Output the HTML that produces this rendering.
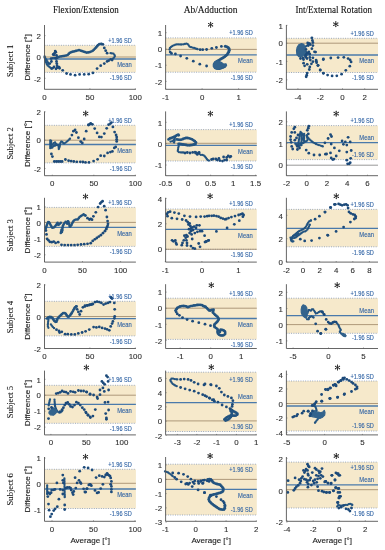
<!DOCTYPE html><html><head><meta charset="utf-8"><style>html,body{margin:0;padding:0;background:#fff;overflow:hidden}#w{will-change:transform;width:385px;height:550px;filter:blur(0.3px)}svg{display:block}</style></head><body><div id="w"><svg width="385" height="550" viewBox="0 0 385 550">
<rect width="385" height="550" fill="#fff"/>
<g font-family="Liberation Serif, serif" font-size="9.4" fill="#111" stroke="#111" stroke-width="0.1">
<text x="53" y="12.8" textLength="65.8" lengthAdjust="spacingAndGlyphs">Flexion/Extension</text>
<text x="183.7" y="12.8" textLength="53.7" lengthAdjust="spacingAndGlyphs">Ab/Adduction</text>
<text x="295.4" y="12.8" textLength="76.6" lengthAdjust="spacingAndGlyphs">Int/External Rotation</text>
</g>
<text transform="translate(13,60.90) rotate(-90)" font-family="Liberation Serif, serif" font-size="8.8" fill="#111" stroke="#111" stroke-width="0.08" text-anchor="middle" textLength="32.3" lengthAdjust="spacingAndGlyphs">Subject 1</text>
<text transform="translate(29.9,57.4) rotate(-90)" font-family="Liberation Sans, sans-serif" font-size="8" fill="#222" stroke="#222" stroke-width="0.12" text-anchor="middle">Difference [°]</text>
<text transform="translate(13,143.40) rotate(-90)" font-family="Liberation Serif, serif" font-size="8.8" fill="#111" stroke="#111" stroke-width="0.08" text-anchor="middle" textLength="32.3" lengthAdjust="spacingAndGlyphs">Subject 2</text>
<text transform="translate(29.9,143.9) rotate(-90)" font-family="Liberation Sans, sans-serif" font-size="8" fill="#222" stroke="#222" stroke-width="0.12" text-anchor="middle">Difference [°]</text>
<text transform="translate(13,235.25) rotate(-90)" font-family="Liberation Serif, serif" font-size="8.8" fill="#111" stroke="#111" stroke-width="0.08" text-anchor="middle" textLength="32.3" lengthAdjust="spacingAndGlyphs">Subject 3</text>
<text transform="translate(29.9,230.3) rotate(-90)" font-family="Liberation Sans, sans-serif" font-size="8" fill="#222" stroke="#222" stroke-width="0.12" text-anchor="middle">Difference [°]</text>
<text transform="translate(13,317.05) rotate(-90)" font-family="Liberation Serif, serif" font-size="8.8" fill="#111" stroke="#111" stroke-width="0.08" text-anchor="middle" textLength="32.3" lengthAdjust="spacingAndGlyphs">Subject 4</text>
<text transform="translate(29.9,316.7) rotate(-90)" font-family="Liberation Sans, sans-serif" font-size="8" fill="#222" stroke="#222" stroke-width="0.12" text-anchor="middle">Difference [°]</text>
<text transform="translate(13,402.05) rotate(-90)" font-family="Liberation Serif, serif" font-size="8.8" fill="#111" stroke="#111" stroke-width="0.08" text-anchor="middle" textLength="32.3" lengthAdjust="spacingAndGlyphs">Subject 5</text>
<text transform="translate(29.9,403.1) rotate(-90)" font-family="Liberation Sans, sans-serif" font-size="8" fill="#222" stroke="#222" stroke-width="0.12" text-anchor="middle">Difference [°]</text>
<text transform="translate(13,489.30) rotate(-90)" font-family="Liberation Serif, serif" font-size="8.8" fill="#111" stroke="#111" stroke-width="0.08" text-anchor="middle" textLength="32.3" lengthAdjust="spacingAndGlyphs">Subject 6</text>
<text transform="translate(29.9,489.4) rotate(-90)" font-family="Liberation Sans, sans-serif" font-size="8" fill="#222" stroke="#222" stroke-width="0.12" text-anchor="middle">Difference [°]</text>
<text x="90.2" y="542.9" font-family="Liberation Sans, sans-serif" font-size="8" fill="#222" stroke="#222" stroke-width="0.12" text-anchor="middle">Average [°]</text>
<text x="211.2" y="542.9" font-family="Liberation Sans, sans-serif" font-size="8" fill="#222" stroke="#222" stroke-width="0.12" text-anchor="middle">Average [°]</text>
<text x="332.2" y="542.9" font-family="Liberation Sans, sans-serif" font-size="8" fill="#222" stroke="#222" stroke-width="0.12" text-anchor="middle">Average [°]</text>
<rect x="44.50" y="45.30" width="91.40" height="27.10" fill="#f6e9cb"/>
<line x1="44.50" y1="45.30" x2="135.90" y2="45.30" stroke="#7f94b4" stroke-width="0.85" stroke-dasharray="0.9 1.45"/>
<line x1="44.50" y1="72.40" x2="135.90" y2="72.40" stroke="#7f94b4" stroke-width="0.85" stroke-dasharray="0.9 1.45"/>
<line x1="44.50" y1="57.00" x2="135.90" y2="57.00" stroke="#9c8466" stroke-width="0.8"/>
<line x1="44.50" y1="59.00" x2="135.90" y2="59.00" stroke="#4a7aab" stroke-width="1.3"/>
<polyline points="44.6,56.5 45.0,59.0 45.8,62.0 47.2,65.1 49.8,67.2 51.4,68.6" fill="none" stroke="#235480" stroke-width="0.9" stroke-linecap="round" stroke-linejoin="round"/>
<circle cx="44.6" cy="56.5" r="1.15" fill="#235480"/>
<circle cx="44.9" cy="58.1" r="1.15" fill="#235480"/>
<circle cx="45.2" cy="59.6" r="1.15" fill="#235480"/>
<circle cx="45.6" cy="61.2" r="1.15" fill="#235480"/>
<circle cx="46.1" cy="62.7" r="1.15" fill="#235480"/>
<circle cx="46.8" cy="64.2" r="1.15" fill="#235480"/>
<circle cx="47.6" cy="65.5" r="1.15" fill="#235480"/>
<circle cx="48.9" cy="66.5" r="1.15" fill="#235480"/>
<circle cx="50.1" cy="67.5" r="1.15" fill="#235480"/>
<circle cx="51.3" cy="68.5" r="1.15" fill="#235480"/>
<circle cx="51.4" cy="68.6" r="1.15" fill="#235480"/>
<polyline points="44.6,57.5 46.2,59.5 47.5,61.5 48.5,63.8" fill="none" stroke="#235480" stroke-width="0.9" stroke-linecap="round" stroke-linejoin="round"/>
<circle cx="44.6" cy="57.5" r="1.15" fill="#235480"/>
<circle cx="45.6" cy="58.7" r="1.15" fill="#235480"/>
<circle cx="46.5" cy="60.0" r="1.15" fill="#235480"/>
<circle cx="47.4" cy="61.4" r="1.15" fill="#235480"/>
<circle cx="48.1" cy="62.8" r="1.15" fill="#235480"/>
<circle cx="48.5" cy="63.8" r="1.15" fill="#235480"/>
<polyline points="52.6,58.2 55.5,57.9 57.6,57.1" fill="none" stroke="#235480" stroke-width="0.9" stroke-linecap="round" stroke-linejoin="round"/>
<circle cx="52.6" cy="58.2" r="1.15" fill="#235480"/>
<circle cx="54.2" cy="58.0" r="1.15" fill="#235480"/>
<circle cx="55.8" cy="57.8" r="1.15" fill="#235480"/>
<circle cx="57.3" cy="57.2" r="1.15" fill="#235480"/>
<circle cx="57.6" cy="57.1" r="1.15" fill="#235480"/>
<polyline points="56.9,57.9 59.5,56.6 63.4,56.0 67.3,55.3 69.9,52.7 73.8,51.4 79.0,50.1 82.9,51.4 86.8,52.7 90.0,52.1 92.9,50.7 95.7,47.9 98.6,44.3 101.4,43.9" fill="none" stroke="#235480" stroke-width="0.9" stroke-linecap="round" stroke-linejoin="round"/>
<circle cx="56.9" cy="57.9" r="1.35" fill="#235480"/>
<circle cx="58.3" cy="57.2" r="1.35" fill="#235480"/>
<circle cx="59.8" cy="56.6" r="1.35" fill="#235480"/>
<circle cx="61.4" cy="56.3" r="1.35" fill="#235480"/>
<circle cx="63.0" cy="56.1" r="1.35" fill="#235480"/>
<circle cx="64.5" cy="55.8" r="1.35" fill="#235480"/>
<circle cx="66.1" cy="55.5" r="1.35" fill="#235480"/>
<circle cx="67.6" cy="55.0" r="1.35" fill="#235480"/>
<circle cx="68.7" cy="53.9" r="1.35" fill="#235480"/>
<circle cx="69.8" cy="52.8" r="1.35" fill="#235480"/>
<circle cx="71.3" cy="52.2" r="1.35" fill="#235480"/>
<circle cx="72.8" cy="51.7" r="1.35" fill="#235480"/>
<circle cx="74.4" cy="51.3" r="1.35" fill="#235480"/>
<circle cx="75.9" cy="50.9" r="1.35" fill="#235480"/>
<circle cx="77.5" cy="50.5" r="1.35" fill="#235480"/>
<circle cx="79.0" cy="50.1" r="1.35" fill="#235480"/>
<circle cx="80.6" cy="50.6" r="1.35" fill="#235480"/>
<circle cx="82.1" cy="51.1" r="1.35" fill="#235480"/>
<circle cx="83.6" cy="51.6" r="1.35" fill="#235480"/>
<circle cx="85.1" cy="52.1" r="1.35" fill="#235480"/>
<circle cx="86.6" cy="52.6" r="1.35" fill="#235480"/>
<circle cx="88.2" cy="52.4" r="1.35" fill="#235480"/>
<circle cx="89.8" cy="52.1" r="1.35" fill="#235480"/>
<circle cx="91.2" cy="51.5" r="1.35" fill="#235480"/>
<circle cx="92.7" cy="50.8" r="1.35" fill="#235480"/>
<circle cx="93.8" cy="49.8" r="1.35" fill="#235480"/>
<circle cx="95.0" cy="48.6" r="1.35" fill="#235480"/>
<circle cx="96.1" cy="47.4" r="1.35" fill="#235480"/>
<circle cx="97.1" cy="46.2" r="1.35" fill="#235480"/>
<circle cx="98.1" cy="45.0" r="1.35" fill="#235480"/>
<circle cx="99.3" cy="44.2" r="1.35" fill="#235480"/>
<circle cx="100.9" cy="44.0" r="1.35" fill="#235480"/>
<circle cx="101.4" cy="43.9" r="1.35" fill="#235480"/>
<polyline points="112.9,58.6 114.3,57.5 115.0,55.7 113.6,53.6 110.5,53.2" fill="none" stroke="#235480" stroke-width="0.9" stroke-linecap="round" stroke-linejoin="round"/>
<circle cx="112.9" cy="58.6" r="1.15" fill="#235480"/>
<circle cx="114.2" cy="57.6" r="1.15" fill="#235480"/>
<circle cx="114.8" cy="56.2" r="1.15" fill="#235480"/>
<circle cx="114.4" cy="54.8" r="1.15" fill="#235480"/>
<circle cx="113.4" cy="53.6" r="1.15" fill="#235480"/>
<circle cx="111.9" cy="53.4" r="1.15" fill="#235480"/>
<circle cx="110.5" cy="53.2" r="1.15" fill="#235480"/>
<circle cx="104.3" cy="47.9" r="1.4" fill="#1c4a7a"/>
<circle cx="105.7" cy="50.7" r="1.4" fill="#1c4a7a"/>
<circle cx="107.1" cy="53.2" r="1.4" fill="#1c4a7a"/>
<circle cx="102.9" cy="44.3" r="1.4" fill="#1c4a7a"/>
<circle cx="51.4" cy="61.5" r="1.4" fill="#1c4a7a"/>
<circle cx="49.8" cy="63.6" r="1.4" fill="#1c4a7a"/>
<circle cx="51.1" cy="58.6" r="1.4" fill="#1c4a7a"/>
<circle cx="55.2" cy="51.1" r="1.4" fill="#1c4a7a"/>
<circle cx="55.8" cy="52.2" r="1.4" fill="#1c4a7a"/>
<circle cx="54.0" cy="54.8" r="1.4" fill="#1c4a7a"/>
<circle cx="56.5" cy="55.3" r="1.4" fill="#1c4a7a"/>
<circle cx="56.0" cy="58.4" r="1.4" fill="#1c4a7a"/>
<circle cx="56.5" cy="61.5" r="1.4" fill="#1c4a7a"/>
<circle cx="56.8" cy="63.6" r="1.4" fill="#1c4a7a"/>
<circle cx="57.1" cy="65.7" r="1.4" fill="#1c4a7a"/>
<circle cx="57.1" cy="67.7" r="1.4" fill="#1c4a7a"/>
<circle cx="56.0" cy="68.8" r="1.4" fill="#1c4a7a"/>
<circle cx="54.0" cy="67.0" r="1.4" fill="#1c4a7a"/>
<circle cx="52.4" cy="68.3" r="1.4" fill="#1c4a7a"/>
<circle cx="59.1" cy="67.2" r="1.4" fill="#1c4a7a"/>
<circle cx="54.5" cy="53.2" r="1.4" fill="#1c4a7a"/>
<circle cx="53.2" cy="54.5" r="1.4" fill="#1c4a7a"/>
<circle cx="59.5" cy="68.3" r="1.4" fill="#1c4a7a"/>
<circle cx="62.7" cy="70.3" r="1.4" fill="#1c4a7a"/>
<circle cx="66.6" cy="73.5" r="1.4" fill="#1c4a7a"/>
<circle cx="70.5" cy="74.4" r="1.4" fill="#1c4a7a"/>
<circle cx="75.1" cy="75.2" r="1.4" fill="#1c4a7a"/>
<circle cx="79.6" cy="74.4" r="1.4" fill="#1c4a7a"/>
<circle cx="84.2" cy="74.4" r="1.4" fill="#1c4a7a"/>
<circle cx="88.7" cy="74.2" r="1.4" fill="#1c4a7a"/>
<circle cx="92.9" cy="72.9" r="1.4" fill="#1c4a7a"/>
<circle cx="97.1" cy="68.6" r="1.4" fill="#1c4a7a"/>
<circle cx="100.7" cy="65.7" r="1.4" fill="#1c4a7a"/>
<circle cx="104.3" cy="63.6" r="1.4" fill="#1c4a7a"/>
<circle cx="107.1" cy="61.4" r="1.4" fill="#1c4a7a"/>
<circle cx="110.7" cy="59.3" r="1.4" fill="#1c4a7a"/>
<circle cx="112.1" cy="60.0" r="1.4" fill="#1c4a7a"/>
<circle cx="108.6" cy="60.7" r="1.4" fill="#1c4a7a"/>
<path d="M44.50,25.00 V89.30 H135.90" fill="none" stroke="#555555" stroke-width="0.9"/>
<line x1="44.50" y1="35.60" x2="45.50" y2="35.60" stroke="#555555" stroke-width="0.6"/>
<text x="41.00" y="38.85" font-family="Liberation Sans, sans-serif" font-size="7.9" fill="#2e2e2e" stroke="#2e2e2e" stroke-width="0.1" text-anchor="end">2</text>
<line x1="44.50" y1="57.00" x2="45.50" y2="57.00" stroke="#555555" stroke-width="0.6"/>
<text x="41.00" y="60.25" font-family="Liberation Sans, sans-serif" font-size="7.9" fill="#2e2e2e" stroke="#2e2e2e" stroke-width="0.1" text-anchor="end">0</text>
<line x1="44.50" y1="78.30" x2="45.50" y2="78.30" stroke="#555555" stroke-width="0.6"/>
<text x="41.00" y="81.55" font-family="Liberation Sans, sans-serif" font-size="7.9" fill="#2e2e2e" stroke="#2e2e2e" stroke-width="0.1" text-anchor="end">-2</text>
<line x1="44.50" y1="89.30" x2="44.50" y2="88.30" stroke="#555555" stroke-width="0.6"/>
<text x="44.50" y="99.75" font-family="Liberation Sans, sans-serif" font-size="7.9" fill="#2e2e2e" stroke="#2e2e2e" stroke-width="0.1" text-anchor="middle">0</text>
<line x1="89.90" y1="89.30" x2="89.90" y2="88.30" stroke="#555555" stroke-width="0.6"/>
<text x="89.90" y="99.75" font-family="Liberation Sans, sans-serif" font-size="7.9" fill="#2e2e2e" stroke="#2e2e2e" stroke-width="0.1" text-anchor="middle">50</text>
<line x1="135.30" y1="89.30" x2="135.30" y2="88.30" stroke="#555555" stroke-width="0.6"/>
<text x="135.30" y="99.75" font-family="Liberation Sans, sans-serif" font-size="7.9" fill="#2e2e2e" stroke="#2e2e2e" stroke-width="0.1" text-anchor="middle">100</text>
<g font-family="Liberation Sans, sans-serif" font-size="6.4" fill="#2e62a4" stroke="#2e62a4" stroke-width="0.1" text-anchor="end">
<text x="131.80" y="42.70" textLength="23.5" lengthAdjust="spacingAndGlyphs">+1.96 SD</text>
<text x="131.80" y="67.30" textLength="14.6" lengthAdjust="spacingAndGlyphs">Mean</text>
<text x="131.80" y="80.30" textLength="22" lengthAdjust="spacingAndGlyphs">-1.96 SD</text>
</g>
<rect x="165.60" y="37.90" width="91.20" height="34.30" fill="#f6e9cb"/>
<line x1="165.60" y1="37.90" x2="256.80" y2="37.90" stroke="#7f94b4" stroke-width="0.85" stroke-dasharray="0.9 1.45"/>
<line x1="165.60" y1="72.20" x2="256.80" y2="72.20" stroke="#7f94b4" stroke-width="0.85" stroke-dasharray="0.9 1.45"/>
<line x1="165.60" y1="49.40" x2="256.80" y2="49.40" stroke="#9c8466" stroke-width="0.8"/>
<line x1="165.60" y1="54.80" x2="256.80" y2="54.80" stroke="#4a7aab" stroke-width="1.3"/>
<polyline points="169.5,49.5 170.2,47.5 172.1,46.2 174.7,44.9 177.3,44.3 179.9,44.5 182.5,44.5 185.1,44.0 187.1,43.4 188.4,44.9 189.7,46.9 192.3,47.5 194.9,48.2 197.5,49.2" fill="none" stroke="#235480" stroke-width="0.9" stroke-linecap="round" stroke-linejoin="round"/>
<circle cx="169.5" cy="49.5" r="1.15" fill="#235480"/>
<circle cx="170.0" cy="48.0" r="1.15" fill="#235480"/>
<circle cx="171.1" cy="46.9" r="1.15" fill="#235480"/>
<circle cx="172.4" cy="46.0" r="1.15" fill="#235480"/>
<circle cx="173.9" cy="45.3" r="1.15" fill="#235480"/>
<circle cx="175.4" cy="44.7" r="1.15" fill="#235480"/>
<circle cx="176.9" cy="44.4" r="1.15" fill="#235480"/>
<circle cx="178.5" cy="44.4" r="1.15" fill="#235480"/>
<circle cx="180.1" cy="44.5" r="1.15" fill="#235480"/>
<circle cx="181.7" cy="44.5" r="1.15" fill="#235480"/>
<circle cx="183.3" cy="44.3" r="1.15" fill="#235480"/>
<circle cx="184.9" cy="44.0" r="1.15" fill="#235480"/>
<circle cx="186.4" cy="43.6" r="1.15" fill="#235480"/>
<circle cx="187.7" cy="44.1" r="1.15" fill="#235480"/>
<circle cx="188.7" cy="45.3" r="1.15" fill="#235480"/>
<circle cx="189.5" cy="46.6" r="1.15" fill="#235480"/>
<circle cx="191.0" cy="47.2" r="1.15" fill="#235480"/>
<circle cx="192.5" cy="47.6" r="1.15" fill="#235480"/>
<circle cx="194.1" cy="48.0" r="1.15" fill="#235480"/>
<circle cx="195.6" cy="48.5" r="1.15" fill="#235480"/>
<circle cx="197.1" cy="49.0" r="1.15" fill="#235480"/>
<circle cx="197.5" cy="49.2" r="1.15" fill="#235480"/>
<polyline points="225.3,46.2 227.9,47.0 229.4,49.0 228.9,51.6 227.3,54.2 225.3,56.3 222.7,57.9 220.1,59.4 217.5,61.0 215.4,62.5 214.4,64.6 214.9,66.7 216.4,68.2 218.5,68.8 220.6,68.2 222.7,66.7 225.3,65.6 223.7,67.2 219.0,67.5 216.0,65.5" fill="none" stroke="#235480" stroke-width="0.9" stroke-linecap="round" stroke-linejoin="round"/>
<circle cx="225.3" cy="46.2" r="1.5" fill="#235480"/>
<circle cx="226.8" cy="46.7" r="1.5" fill="#235480"/>
<circle cx="228.2" cy="47.4" r="1.5" fill="#235480"/>
<circle cx="229.1" cy="48.7" r="1.5" fill="#235480"/>
<circle cx="229.2" cy="50.2" r="1.5" fill="#235480"/>
<circle cx="228.8" cy="51.7" r="1.5" fill="#235480"/>
<circle cx="228.0" cy="53.1" r="1.5" fill="#235480"/>
<circle cx="227.1" cy="54.4" r="1.5" fill="#235480"/>
<circle cx="226.0" cy="55.6" r="1.5" fill="#235480"/>
<circle cx="224.8" cy="56.6" r="1.5" fill="#235480"/>
<circle cx="223.4" cy="57.4" r="1.5" fill="#235480"/>
<circle cx="222.1" cy="58.3" r="1.5" fill="#235480"/>
<circle cx="220.7" cy="59.1" r="1.5" fill="#235480"/>
<circle cx="219.3" cy="59.9" r="1.5" fill="#235480"/>
<circle cx="217.9" cy="60.7" r="1.5" fill="#235480"/>
<circle cx="216.6" cy="61.6" r="1.5" fill="#235480"/>
<circle cx="215.4" cy="62.6" r="1.5" fill="#235480"/>
<circle cx="214.7" cy="64.0" r="1.5" fill="#235480"/>
<circle cx="214.6" cy="65.5" r="1.5" fill="#235480"/>
<circle cx="215.2" cy="67.0" r="1.5" fill="#235480"/>
<circle cx="216.3" cy="68.1" r="1.5" fill="#235480"/>
<circle cx="217.8" cy="68.6" r="1.5" fill="#235480"/>
<circle cx="219.4" cy="68.6" r="1.5" fill="#235480"/>
<circle cx="220.9" cy="68.0" r="1.5" fill="#235480"/>
<circle cx="222.2" cy="67.1" r="1.5" fill="#235480"/>
<circle cx="223.6" cy="66.3" r="1.5" fill="#235480"/>
<circle cx="225.0" cy="65.7" r="1.5" fill="#235480"/>
<circle cx="224.4" cy="66.5" r="1.5" fill="#235480"/>
<circle cx="223.1" cy="67.2" r="1.5" fill="#235480"/>
<circle cx="221.5" cy="67.3" r="1.5" fill="#235480"/>
<circle cx="219.9" cy="67.4" r="1.5" fill="#235480"/>
<circle cx="218.4" cy="67.1" r="1.5" fill="#235480"/>
<circle cx="217.1" cy="66.2" r="1.5" fill="#235480"/>
<circle cx="216.0" cy="65.5" r="1.5" fill="#235480"/>
<polygon points="213.3,64.0 214.6,62.0 217.0,60.8 219.5,61.4 221.5,62.6 223.5,64.0 226.0,63.8 226.6,65.4 225.3,66.8 222.5,67.2 220.5,68.6 217.0,69.3 214.6,68.4 213.3,66.5" fill="#33638c" stroke="#33638c" stroke-width="1.2" stroke-linejoin="round"/>
<circle cx="200.1" cy="49.7" r="1.4" fill="#1c4a7a"/>
<circle cx="202.7" cy="49.7" r="1.4" fill="#1c4a7a"/>
<circle cx="206.6" cy="49.5" r="1.4" fill="#1c4a7a"/>
<circle cx="211.8" cy="48.3" r="1.4" fill="#1c4a7a"/>
<circle cx="216.4" cy="47.5" r="1.4" fill="#1c4a7a"/>
<circle cx="221.4" cy="46.4" r="1.4" fill="#1c4a7a"/>
<circle cx="170.2" cy="52.1" r="1.4" fill="#1c4a7a"/>
<circle cx="171.5" cy="53.4" r="1.4" fill="#1c4a7a"/>
<circle cx="175.4" cy="54.0" r="1.4" fill="#1c4a7a"/>
<circle cx="180.6" cy="56.0" r="1.4" fill="#1c4a7a"/>
<circle cx="186.8" cy="58.3" r="1.4" fill="#1c4a7a"/>
<circle cx="193.3" cy="61.2" r="1.4" fill="#1c4a7a"/>
<circle cx="199.8" cy="64.2" r="1.4" fill="#1c4a7a"/>
<circle cx="206.6" cy="66.0" r="1.4" fill="#1c4a7a"/>
<path d="M165.60,25.00 V89.30 H256.80" fill="none" stroke="#555555" stroke-width="0.9"/>
<line x1="165.60" y1="32.70" x2="166.60" y2="32.70" stroke="#555555" stroke-width="0.6"/>
<text x="162.10" y="35.95" font-family="Liberation Sans, sans-serif" font-size="7.9" fill="#2e2e2e" stroke="#2e2e2e" stroke-width="0.1" text-anchor="end">1</text>
<line x1="165.60" y1="49.00" x2="166.60" y2="49.00" stroke="#555555" stroke-width="0.6"/>
<text x="162.10" y="52.25" font-family="Liberation Sans, sans-serif" font-size="7.9" fill="#2e2e2e" stroke="#2e2e2e" stroke-width="0.1" text-anchor="end">0</text>
<line x1="165.60" y1="65.20" x2="166.60" y2="65.20" stroke="#555555" stroke-width="0.6"/>
<text x="162.10" y="68.45" font-family="Liberation Sans, sans-serif" font-size="7.9" fill="#2e2e2e" stroke="#2e2e2e" stroke-width="0.1" text-anchor="end">-1</text>
<line x1="165.60" y1="81.40" x2="166.60" y2="81.40" stroke="#555555" stroke-width="0.6"/>
<text x="162.10" y="84.65" font-family="Liberation Sans, sans-serif" font-size="7.9" fill="#2e2e2e" stroke="#2e2e2e" stroke-width="0.1" text-anchor="end">-2</text>
<line x1="165.60" y1="89.30" x2="165.60" y2="88.30" stroke="#555555" stroke-width="0.6"/>
<text x="165.60" y="99.75" font-family="Liberation Sans, sans-serif" font-size="7.9" fill="#2e2e2e" stroke="#2e2e2e" stroke-width="0.1" text-anchor="middle">-1</text>
<line x1="202.10" y1="89.30" x2="202.10" y2="88.30" stroke="#555555" stroke-width="0.6"/>
<text x="202.10" y="99.75" font-family="Liberation Sans, sans-serif" font-size="7.9" fill="#2e2e2e" stroke="#2e2e2e" stroke-width="0.1" text-anchor="middle">0</text>
<line x1="238.60" y1="89.30" x2="238.60" y2="88.30" stroke="#555555" stroke-width="0.6"/>
<text x="238.60" y="99.75" font-family="Liberation Sans, sans-serif" font-size="7.9" fill="#2e2e2e" stroke="#2e2e2e" stroke-width="0.1" text-anchor="middle">1</text>
<g font-family="Liberation Sans, sans-serif" font-size="6.4" fill="#2e62a4" stroke="#2e62a4" stroke-width="0.1" text-anchor="end">
<text x="252.70" y="35.30" textLength="23.5" lengthAdjust="spacingAndGlyphs">+1.96 SD</text>
<text x="252.70" y="63.10" textLength="14.6" lengthAdjust="spacingAndGlyphs">Mean</text>
<text x="252.70" y="80.10" textLength="22" lengthAdjust="spacingAndGlyphs">-1.96 SD</text>
</g>
<path d="M210.60,22.35L210.60,27.05M208.56,23.52L212.64,25.88M212.64,23.52L208.56,25.88" stroke="#2a2a2a" stroke-width="0.85" stroke-linecap="round" fill="none"/>
<circle cx="212.64" cy="25.88" r="0.6" fill="#2a2a2a"/>
<circle cx="210.60" cy="27.05" r="0.6" fill="#2a2a2a"/>
<circle cx="208.56" cy="25.88" r="0.6" fill="#2a2a2a"/>
<circle cx="208.56" cy="23.52" r="0.6" fill="#2a2a2a"/>
<circle cx="210.60" cy="22.35" r="0.6" fill="#2a2a2a"/>
<circle cx="212.64" cy="23.52" r="0.6" fill="#2a2a2a"/>
<circle cx="210.60" cy="24.70" r="0.9" fill="#2a2a2a"/>
<rect x="286.40" y="38.30" width="91.60" height="34.20" fill="#f6e9cb"/>
<line x1="286.40" y1="38.30" x2="378.00" y2="38.30" stroke="#7f94b4" stroke-width="0.85" stroke-dasharray="0.9 1.45"/>
<line x1="286.40" y1="72.50" x2="378.00" y2="72.50" stroke="#7f94b4" stroke-width="0.85" stroke-dasharray="0.9 1.45"/>
<line x1="286.40" y1="43.20" x2="378.00" y2="43.20" stroke="#9c8466" stroke-width="0.8"/>
<line x1="286.40" y1="55.00" x2="378.00" y2="55.00" stroke="#4a7aab" stroke-width="1.3"/>
<polyline points="303.6,51.0 306.0,52.0 308.5,53.0 309.8,54.5" fill="none" stroke="#235480" stroke-width="0.9" stroke-linecap="round" stroke-linejoin="round"/>
<circle cx="303.6" cy="51.0" r="1.15" fill="#235480"/>
<circle cx="305.1" cy="51.6" r="1.15" fill="#235480"/>
<circle cx="306.6" cy="52.2" r="1.15" fill="#235480"/>
<circle cx="308.0" cy="52.8" r="1.15" fill="#235480"/>
<circle cx="309.2" cy="53.8" r="1.15" fill="#235480"/>
<circle cx="309.8" cy="54.5" r="1.15" fill="#235480"/>
<polyline points="304.5,47.5 306.5,46.0 308.3,44.5 309.5,43.5" fill="none" stroke="#235480" stroke-width="0.9" stroke-linecap="round" stroke-linejoin="round"/>
<circle cx="304.5" cy="47.5" r="1.15" fill="#235480"/>
<circle cx="305.8" cy="46.5" r="1.15" fill="#235480"/>
<circle cx="307.0" cy="45.6" r="1.15" fill="#235480"/>
<circle cx="308.3" cy="44.5" r="1.15" fill="#235480"/>
<circle cx="309.5" cy="43.5" r="1.15" fill="#235480"/>
<circle cx="309.5" cy="43.5" r="1.15" fill="#235480"/>
<polyline points="305.0,53.5 307.0,55.0 305.5,56.5" fill="none" stroke="#235480" stroke-width="0.9" stroke-linecap="round" stroke-linejoin="round"/>
<circle cx="305.0" cy="53.5" r="1.15" fill="#235480"/>
<circle cx="306.3" cy="54.5" r="1.15" fill="#235480"/>
<circle cx="306.5" cy="55.5" r="1.15" fill="#235480"/>
<circle cx="305.5" cy="56.5" r="1.15" fill="#235480"/>
<polyline points="298.0,50.0 300.0,47.5 302.0,50.0 300.0,53.0" fill="none" stroke="#235480" stroke-width="0.9" stroke-linecap="round" stroke-linejoin="round"/>
<circle cx="298.0" cy="50.0" r="1.15" fill="#235480"/>
<circle cx="299.0" cy="48.8" r="1.15" fill="#235480"/>
<circle cx="300.0" cy="47.5" r="1.15" fill="#235480"/>
<circle cx="301.0" cy="48.7" r="1.15" fill="#235480"/>
<circle cx="302.0" cy="50.0" r="1.15" fill="#235480"/>
<circle cx="301.1" cy="51.3" r="1.15" fill="#235480"/>
<circle cx="300.2" cy="52.7" r="1.15" fill="#235480"/>
<circle cx="300.0" cy="53.0" r="1.15" fill="#235480"/>
<polygon points="298.7,44.8 301.5,43.6 303.9,44.4 304.8,47.2 304.9,51.0 304.2,54.4 302.0,56.6 298.8,56.6 296.9,54.4 296.5,50.5 297.2,47.2" fill="#33638c" stroke="#33638c" stroke-width="1.2" stroke-linejoin="round"/>
<circle cx="306.0" cy="49.5" r="1.4" fill="#1c4a7a"/>
<circle cx="305.5" cy="55.5" r="1.4" fill="#1c4a7a"/>
<circle cx="303.5" cy="59.5" r="1.4" fill="#1c4a7a"/>
<circle cx="307.0" cy="58.5" r="1.4" fill="#1c4a7a"/>
<circle cx="300.5" cy="58.5" r="1.4" fill="#1c4a7a"/>
<circle cx="311.9" cy="37.8" r="1.4" fill="#1c4a7a"/>
<circle cx="312.4" cy="40.4" r="1.4" fill="#1c4a7a"/>
<circle cx="312.9" cy="42.5" r="1.4" fill="#1c4a7a"/>
<circle cx="307.7" cy="43.0" r="1.4" fill="#1c4a7a"/>
<circle cx="308.3" cy="45.6" r="1.4" fill="#1c4a7a"/>
<circle cx="310.3" cy="44.5" r="1.4" fill="#1c4a7a"/>
<circle cx="312.9" cy="45.6" r="1.4" fill="#1c4a7a"/>
<circle cx="311.9" cy="48.7" r="1.4" fill="#1c4a7a"/>
<circle cx="314.5" cy="51.8" r="1.4" fill="#1c4a7a"/>
<circle cx="308.8" cy="51.8" r="1.4" fill="#1c4a7a"/>
<circle cx="307.2" cy="53.4" r="1.4" fill="#1c4a7a"/>
<circle cx="309.8" cy="53.9" r="1.4" fill="#1c4a7a"/>
<circle cx="305.7" cy="57.0" r="1.4" fill="#1c4a7a"/>
<circle cx="303.1" cy="58.0" r="1.4" fill="#1c4a7a"/>
<circle cx="309.8" cy="57.5" r="1.4" fill="#1c4a7a"/>
<circle cx="312.9" cy="57.8" r="1.4" fill="#1c4a7a"/>
<circle cx="310.3" cy="60.1" r="1.4" fill="#1c4a7a"/>
<circle cx="316.1" cy="60.1" r="1.4" fill="#1c4a7a"/>
<circle cx="312.9" cy="61.7" r="1.4" fill="#1c4a7a"/>
<circle cx="311.4" cy="63.8" r="1.4" fill="#1c4a7a"/>
<circle cx="316.6" cy="62.7" r="1.4" fill="#1c4a7a"/>
<circle cx="303.6" cy="63.2" r="1.4" fill="#1c4a7a"/>
<circle cx="307.2" cy="64.3" r="1.4" fill="#1c4a7a"/>
<circle cx="304.6" cy="65.8" r="1.4" fill="#1c4a7a"/>
<circle cx="309.8" cy="66.9" r="1.4" fill="#1c4a7a"/>
<circle cx="318.1" cy="65.3" r="1.4" fill="#1c4a7a"/>
<circle cx="323.3" cy="59.6" r="1.4" fill="#1c4a7a"/>
<circle cx="309.3" cy="69.5" r="1.4" fill="#1c4a7a"/>
<circle cx="320.2" cy="70.0" r="1.4" fill="#1c4a7a"/>
<circle cx="323.3" cy="73.1" r="1.4" fill="#1c4a7a"/>
<circle cx="307.2" cy="73.1" r="1.4" fill="#1c4a7a"/>
<circle cx="306.7" cy="75.2" r="1.4" fill="#1c4a7a"/>
<circle cx="306.2" cy="76.8" r="1.4" fill="#1c4a7a"/>
<circle cx="315.6" cy="52.1" r="1.4" fill="#1c4a7a"/>
<circle cx="316.3" cy="61.2" r="1.4" fill="#1c4a7a"/>
<circle cx="317.9" cy="65.5" r="1.4" fill="#1c4a7a"/>
<circle cx="320.2" cy="70.1" r="1.4" fill="#1c4a7a"/>
<circle cx="323.4" cy="73.3" r="1.4" fill="#1c4a7a"/>
<circle cx="327.6" cy="75.1" r="1.4" fill="#1c4a7a"/>
<circle cx="332.1" cy="75.9" r="1.4" fill="#1c4a7a"/>
<circle cx="336.8" cy="75.8" r="1.4" fill="#1c4a7a"/>
<circle cx="341.6" cy="74.2" r="1.4" fill="#1c4a7a"/>
<circle cx="345.8" cy="70.3" r="1.4" fill="#1c4a7a"/>
<circle cx="349.8" cy="66.2" r="1.4" fill="#1c4a7a"/>
<circle cx="351.1" cy="61.9" r="1.4" fill="#1c4a7a"/>
<circle cx="350.1" cy="59.9" r="1.4" fill="#1c4a7a"/>
<circle cx="348.1" cy="58.6" r="1.4" fill="#1c4a7a"/>
<circle cx="343.8" cy="57.3" r="1.4" fill="#1c4a7a"/>
<circle cx="338.1" cy="57.6" r="1.4" fill="#1c4a7a"/>
<circle cx="330.8" cy="58.0" r="1.4" fill="#1c4a7a"/>
<circle cx="323.4" cy="59.0" r="1.4" fill="#1c4a7a"/>
<path d="M286.40,25.00 V89.30 H378.00" fill="none" stroke="#555555" stroke-width="0.9"/>
<line x1="286.40" y1="25.30" x2="287.40" y2="25.30" stroke="#555555" stroke-width="0.6"/>
<text x="282.90" y="28.55" font-family="Liberation Sans, sans-serif" font-size="7.9" fill="#2e2e2e" stroke="#2e2e2e" stroke-width="0.1" text-anchor="end">1</text>
<line x1="286.40" y1="43.20" x2="287.40" y2="43.20" stroke="#555555" stroke-width="0.6"/>
<text x="282.90" y="46.45" font-family="Liberation Sans, sans-serif" font-size="7.9" fill="#2e2e2e" stroke="#2e2e2e" stroke-width="0.1" text-anchor="end">0</text>
<line x1="286.40" y1="61.40" x2="287.40" y2="61.40" stroke="#555555" stroke-width="0.6"/>
<text x="282.90" y="64.65" font-family="Liberation Sans, sans-serif" font-size="7.9" fill="#2e2e2e" stroke="#2e2e2e" stroke-width="0.1" text-anchor="end">-1</text>
<line x1="286.40" y1="79.80" x2="287.40" y2="79.80" stroke="#555555" stroke-width="0.6"/>
<text x="282.90" y="83.05" font-family="Liberation Sans, sans-serif" font-size="7.9" fill="#2e2e2e" stroke="#2e2e2e" stroke-width="0.1" text-anchor="end">-2</text>
<line x1="297.90" y1="89.30" x2="297.90" y2="88.30" stroke="#555555" stroke-width="0.6"/>
<text x="297.90" y="99.75" font-family="Liberation Sans, sans-serif" font-size="7.9" fill="#2e2e2e" stroke="#2e2e2e" stroke-width="0.1" text-anchor="middle">-4</text>
<line x1="320.30" y1="89.30" x2="320.30" y2="88.30" stroke="#555555" stroke-width="0.6"/>
<text x="320.30" y="99.75" font-family="Liberation Sans, sans-serif" font-size="7.9" fill="#2e2e2e" stroke="#2e2e2e" stroke-width="0.1" text-anchor="middle">-2</text>
<line x1="342.50" y1="89.30" x2="342.50" y2="88.30" stroke="#555555" stroke-width="0.6"/>
<text x="342.50" y="99.75" font-family="Liberation Sans, sans-serif" font-size="7.9" fill="#2e2e2e" stroke="#2e2e2e" stroke-width="0.1" text-anchor="middle">0</text>
<line x1="364.70" y1="89.30" x2="364.70" y2="88.30" stroke="#555555" stroke-width="0.6"/>
<text x="364.70" y="99.75" font-family="Liberation Sans, sans-serif" font-size="7.9" fill="#2e2e2e" stroke="#2e2e2e" stroke-width="0.1" text-anchor="middle">2</text>
<g font-family="Liberation Sans, sans-serif" font-size="6.4" fill="#2e62a4" stroke="#2e62a4" stroke-width="0.1" text-anchor="end">
<text x="373.90" y="35.70" textLength="23.5" lengthAdjust="spacingAndGlyphs">+1.96 SD</text>
<text x="373.90" y="63.30" textLength="14.6" lengthAdjust="spacingAndGlyphs">Mean</text>
<text x="373.90" y="80.40" textLength="22" lengthAdjust="spacingAndGlyphs">-1.96 SD</text>
</g>
<path d="M335.80,21.85L335.80,26.55M333.76,23.02L337.84,25.38M337.84,23.02L333.76,25.38" stroke="#2a2a2a" stroke-width="0.85" stroke-linecap="round" fill="none"/>
<circle cx="337.84" cy="25.38" r="0.6" fill="#2a2a2a"/>
<circle cx="335.80" cy="26.55" r="0.6" fill="#2a2a2a"/>
<circle cx="333.76" cy="25.38" r="0.6" fill="#2a2a2a"/>
<circle cx="333.76" cy="23.02" r="0.6" fill="#2a2a2a"/>
<circle cx="335.80" cy="21.85" r="0.6" fill="#2a2a2a"/>
<circle cx="337.84" cy="23.02" r="0.6" fill="#2a2a2a"/>
<circle cx="335.80" cy="24.20" r="0.9" fill="#2a2a2a"/>
<rect x="44.50" y="125.30" width="91.40" height="37.60" fill="#f6e9cb"/>
<line x1="44.50" y1="125.30" x2="135.90" y2="125.30" stroke="#7f94b4" stroke-width="0.85" stroke-dasharray="0.9 1.45"/>
<line x1="44.50" y1="162.90" x2="135.90" y2="162.90" stroke="#7f94b4" stroke-width="0.85" stroke-dasharray="0.9 1.45"/>
<line x1="44.50" y1="140.20" x2="135.90" y2="140.20" stroke="#9c8466" stroke-width="0.8"/>
<line x1="44.50" y1="144.50" x2="135.90" y2="144.50" stroke="#4a7aab" stroke-width="1.3"/>
<polyline points="50.3,140.3 50.3,148.2" fill="none" stroke="#235480" stroke-width="0.9" stroke-linecap="round" stroke-linejoin="round"/>
<circle cx="50.3" cy="140.3" r="1.15" fill="#235480"/>
<circle cx="50.3" cy="141.9" r="1.15" fill="#235480"/>
<circle cx="50.3" cy="143.5" r="1.15" fill="#235480"/>
<circle cx="50.3" cy="145.1" r="1.15" fill="#235480"/>
<circle cx="50.3" cy="146.7" r="1.15" fill="#235480"/>
<circle cx="50.3" cy="148.2" r="1.15" fill="#235480"/>
<polyline points="51.2,141.0 51.2,147.5" fill="none" stroke="#235480" stroke-width="0.9" stroke-linecap="round" stroke-linejoin="round"/>
<circle cx="51.2" cy="141.0" r="1.15" fill="#235480"/>
<circle cx="51.2" cy="142.6" r="1.15" fill="#235480"/>
<circle cx="51.2" cy="144.2" r="1.15" fill="#235480"/>
<circle cx="51.2" cy="145.8" r="1.15" fill="#235480"/>
<circle cx="51.2" cy="147.4" r="1.15" fill="#235480"/>
<circle cx="51.2" cy="147.5" r="1.15" fill="#235480"/>
<polyline points="51.4,145.5 52.8,144.1 54.1,142.8 55.1,142.4 56.1,144.1 56.8,145.8 57.8,144.1 58.5,146.2 58.8,149.2 59.5,147.5 60.2,143.5 61.5,141.1 62.6,142.1 63.6,143.8 64.9,143.1 66.3,142.1 67.6,141.1 69.0,139.7 70.0,138.7" fill="none" stroke="#235480" stroke-width="0.9" stroke-linecap="round" stroke-linejoin="round"/>
<circle cx="51.4" cy="145.5" r="1.15" fill="#235480"/>
<circle cx="52.5" cy="144.4" r="1.15" fill="#235480"/>
<circle cx="53.7" cy="143.2" r="1.15" fill="#235480"/>
<circle cx="55.0" cy="142.4" r="1.15" fill="#235480"/>
<circle cx="55.9" cy="143.7" r="1.15" fill="#235480"/>
<circle cx="56.5" cy="145.1" r="1.15" fill="#235480"/>
<circle cx="57.3" cy="145.0" r="1.15" fill="#235480"/>
<circle cx="58.0" cy="144.6" r="1.15" fill="#235480"/>
<circle cx="58.5" cy="146.1" r="1.15" fill="#235480"/>
<circle cx="58.7" cy="147.7" r="1.15" fill="#235480"/>
<circle cx="58.8" cy="149.1" r="1.15" fill="#235480"/>
<circle cx="59.4" cy="147.6" r="1.15" fill="#235480"/>
<circle cx="59.8" cy="146.1" r="1.15" fill="#235480"/>
<circle cx="60.0" cy="144.5" r="1.15" fill="#235480"/>
<circle cx="60.5" cy="143.0" r="1.15" fill="#235480"/>
<circle cx="61.2" cy="141.6" r="1.15" fill="#235480"/>
<circle cx="62.3" cy="141.8" r="1.15" fill="#235480"/>
<circle cx="63.2" cy="143.1" r="1.15" fill="#235480"/>
<circle cx="64.3" cy="143.4" r="1.15" fill="#235480"/>
<circle cx="65.7" cy="142.6" r="1.15" fill="#235480"/>
<circle cx="66.9" cy="141.6" r="1.15" fill="#235480"/>
<circle cx="68.1" cy="140.6" r="1.15" fill="#235480"/>
<circle cx="69.3" cy="139.4" r="1.15" fill="#235480"/>
<circle cx="70.0" cy="138.7" r="1.15" fill="#235480"/>
<polyline points="52.4,147.5 53.5,146.0 55.0,145.5" fill="none" stroke="#235480" stroke-width="0.9" stroke-linecap="round" stroke-linejoin="round"/>
<circle cx="52.4" cy="147.5" r="1.15" fill="#235480"/>
<circle cx="53.3" cy="146.2" r="1.15" fill="#235480"/>
<circle cx="54.8" cy="145.6" r="1.15" fill="#235480"/>
<circle cx="55.0" cy="145.5" r="1.15" fill="#235480"/>
<circle cx="71.9" cy="135.1" r="1.4" fill="#1c4a7a"/>
<circle cx="73.4" cy="131.2" r="1.4" fill="#1c4a7a"/>
<circle cx="75.1" cy="129.9" r="1.4" fill="#1c4a7a"/>
<circle cx="76.4" cy="132.5" r="1.4" fill="#1c4a7a"/>
<circle cx="78.4" cy="137.7" r="1.4" fill="#1c4a7a"/>
<circle cx="80.7" cy="141.6" r="1.4" fill="#1c4a7a"/>
<circle cx="82.3" cy="142.9" r="1.4" fill="#1c4a7a"/>
<circle cx="84.2" cy="139.0" r="1.4" fill="#1c4a7a"/>
<circle cx="86.2" cy="131.2" r="1.4" fill="#1c4a7a"/>
<circle cx="88.5" cy="125.1" r="1.4" fill="#1c4a7a"/>
<circle cx="90.3" cy="124.1" r="1.4" fill="#1c4a7a"/>
<circle cx="51.4" cy="154.0" r="1.4" fill="#1c4a7a"/>
<circle cx="52.4" cy="156.6" r="1.4" fill="#1c4a7a"/>
<circle cx="54.3" cy="161.5" r="1.4" fill="#1c4a7a"/>
<circle cx="56.3" cy="161.5" r="1.4" fill="#1c4a7a"/>
<circle cx="58.2" cy="161.5" r="1.4" fill="#1c4a7a"/>
<circle cx="60.2" cy="161.5" r="1.4" fill="#1c4a7a"/>
<circle cx="62.1" cy="161.5" r="1.4" fill="#1c4a7a"/>
<circle cx="65.4" cy="159.5" r="1.4" fill="#1c4a7a"/>
<circle cx="68.6" cy="160.7" r="1.4" fill="#1c4a7a"/>
<circle cx="71.2" cy="161.1" r="1.4" fill="#1c4a7a"/>
<circle cx="73.8" cy="161.5" r="1.4" fill="#1c4a7a"/>
<circle cx="76.8" cy="161.8" r="1.4" fill="#1c4a7a"/>
<circle cx="80.3" cy="161.8" r="1.4" fill="#1c4a7a"/>
<circle cx="82.9" cy="162.0" r="1.4" fill="#1c4a7a"/>
<circle cx="85.5" cy="162.4" r="1.4" fill="#1c4a7a"/>
<circle cx="89.0" cy="162.4" r="1.4" fill="#1c4a7a"/>
<circle cx="88.6" cy="124.7" r="1.4" fill="#1c4a7a"/>
<circle cx="90.7" cy="123.3" r="1.4" fill="#1c4a7a"/>
<circle cx="92.4" cy="124.3" r="1.4" fill="#1c4a7a"/>
<circle cx="94.7" cy="128.6" r="1.4" fill="#1c4a7a"/>
<circle cx="97.1" cy="132.9" r="1.4" fill="#1c4a7a"/>
<circle cx="99.3" cy="136.9" r="1.4" fill="#1c4a7a"/>
<circle cx="101.4" cy="137.1" r="1.4" fill="#1c4a7a"/>
<circle cx="104.3" cy="133.6" r="1.4" fill="#1c4a7a"/>
<circle cx="106.7" cy="128.3" r="1.4" fill="#1c4a7a"/>
<circle cx="108.6" cy="124.7" r="1.4" fill="#1c4a7a"/>
<circle cx="110.4" cy="123.6" r="1.4" fill="#1c4a7a"/>
<circle cx="111.4" cy="122.6" r="1.4" fill="#1c4a7a"/>
<circle cx="112.9" cy="126.9" r="1.4" fill="#1c4a7a"/>
<circle cx="114.6" cy="132.1" r="1.4" fill="#1c4a7a"/>
<circle cx="116.1" cy="135.0" r="1.4" fill="#1c4a7a"/>
<circle cx="116.7" cy="137.1" r="1.4" fill="#1c4a7a"/>
<circle cx="116.7" cy="139.3" r="1.4" fill="#1c4a7a"/>
<circle cx="116.7" cy="141.4" r="1.4" fill="#1c4a7a"/>
<circle cx="93.6" cy="161.1" r="1.4" fill="#1c4a7a"/>
<circle cx="97.6" cy="159.3" r="1.4" fill="#1c4a7a"/>
<circle cx="100.7" cy="155.7" r="1.4" fill="#1c4a7a"/>
<circle cx="104.3" cy="156.0" r="1.4" fill="#1c4a7a"/>
<circle cx="107.6" cy="152.9" r="1.4" fill="#1c4a7a"/>
<circle cx="110.4" cy="152.1" r="1.4" fill="#1c4a7a"/>
<circle cx="112.4" cy="151.4" r="1.4" fill="#1c4a7a"/>
<circle cx="114.3" cy="147.9" r="1.4" fill="#1c4a7a"/>
<circle cx="115.7" cy="146.9" r="1.4" fill="#1c4a7a"/>
<path d="M44.50,111.40 V175.70 H135.90" fill="none" stroke="#555555" stroke-width="0.9"/>
<line x1="44.50" y1="111.80" x2="45.50" y2="111.80" stroke="#555555" stroke-width="0.6"/>
<text x="41.00" y="115.05" font-family="Liberation Sans, sans-serif" font-size="7.9" fill="#2e2e2e" stroke="#2e2e2e" stroke-width="0.1" text-anchor="end">2</text>
<line x1="44.50" y1="140.10" x2="45.50" y2="140.10" stroke="#555555" stroke-width="0.6"/>
<text x="41.00" y="143.35" font-family="Liberation Sans, sans-serif" font-size="7.9" fill="#2e2e2e" stroke="#2e2e2e" stroke-width="0.1" text-anchor="end">0</text>
<line x1="44.50" y1="168.50" x2="45.50" y2="168.50" stroke="#555555" stroke-width="0.6"/>
<text x="41.00" y="171.75" font-family="Liberation Sans, sans-serif" font-size="7.9" fill="#2e2e2e" stroke="#2e2e2e" stroke-width="0.1" text-anchor="end">-2</text>
<line x1="52.30" y1="175.70" x2="52.30" y2="174.70" stroke="#555555" stroke-width="0.6"/>
<text x="52.30" y="186.15" font-family="Liberation Sans, sans-serif" font-size="7.9" fill="#2e2e2e" stroke="#2e2e2e" stroke-width="0.1" text-anchor="middle">0</text>
<line x1="93.80" y1="175.70" x2="93.80" y2="174.70" stroke="#555555" stroke-width="0.6"/>
<text x="93.80" y="186.15" font-family="Liberation Sans, sans-serif" font-size="7.9" fill="#2e2e2e" stroke="#2e2e2e" stroke-width="0.1" text-anchor="middle">50</text>
<line x1="135.30" y1="175.70" x2="135.30" y2="174.70" stroke="#555555" stroke-width="0.6"/>
<text x="135.30" y="186.15" font-family="Liberation Sans, sans-serif" font-size="7.9" fill="#2e2e2e" stroke="#2e2e2e" stroke-width="0.1" text-anchor="middle">100</text>
<g font-family="Liberation Sans, sans-serif" font-size="6.4" fill="#2e62a4" stroke="#2e62a4" stroke-width="0.1" text-anchor="end">
<text x="131.80" y="122.70" textLength="23.5" lengthAdjust="spacingAndGlyphs">+1.96 SD</text>
<text x="131.80" y="152.80" textLength="14.6" lengthAdjust="spacingAndGlyphs">Mean</text>
<text x="131.80" y="170.80" textLength="22" lengthAdjust="spacingAndGlyphs">-1.96 SD</text>
</g>
<path d="M85.70,111.15L85.70,115.85M83.66,112.33L87.74,114.67M87.74,112.33L83.66,114.67" stroke="#2a2a2a" stroke-width="0.85" stroke-linecap="round" fill="none"/>
<circle cx="87.74" cy="114.67" r="0.6" fill="#2a2a2a"/>
<circle cx="85.70" cy="115.85" r="0.6" fill="#2a2a2a"/>
<circle cx="83.66" cy="114.67" r="0.6" fill="#2a2a2a"/>
<circle cx="83.66" cy="112.33" r="0.6" fill="#2a2a2a"/>
<circle cx="85.70" cy="111.15" r="0.6" fill="#2a2a2a"/>
<circle cx="87.74" cy="112.33" r="0.6" fill="#2a2a2a"/>
<circle cx="85.70" cy="113.50" r="0.9" fill="#2a2a2a"/>
<rect x="165.60" y="129.60" width="91.20" height="31.40" fill="#f6e9cb"/>
<line x1="165.60" y1="129.60" x2="256.80" y2="129.60" stroke="#7f94b4" stroke-width="0.85" stroke-dasharray="0.9 1.45"/>
<line x1="165.60" y1="161.00" x2="256.80" y2="161.00" stroke="#7f94b4" stroke-width="0.85" stroke-dasharray="0.9 1.45"/>
<line x1="165.60" y1="143.30" x2="256.80" y2="143.30" stroke="#9c8466" stroke-width="0.8"/>
<line x1="165.60" y1="145.40" x2="256.80" y2="145.40" stroke="#4a7aab" stroke-width="1.3"/>
<polyline points="168.6,139.4 170.0,138.5 171.4,138.0 172.7,137.5 174.1,137.1 175.5,136.2 176.8,135.3 178.2,134.4 178.6,135.3" fill="none" stroke="#235480" stroke-width="0.9" stroke-linecap="round" stroke-linejoin="round"/>
<circle cx="168.6" cy="139.4" r="1.4" fill="#235480"/>
<circle cx="169.9" cy="138.5" r="1.4" fill="#235480"/>
<circle cx="171.4" cy="138.0" r="1.4" fill="#235480"/>
<circle cx="172.9" cy="137.4" r="1.4" fill="#235480"/>
<circle cx="174.4" cy="136.9" r="1.4" fill="#235480"/>
<circle cx="175.8" cy="136.0" r="1.4" fill="#235480"/>
<circle cx="177.1" cy="135.1" r="1.4" fill="#235480"/>
<circle cx="178.3" cy="134.7" r="1.4" fill="#235480"/>
<circle cx="178.6" cy="135.3" r="1.4" fill="#235480"/>
<polyline points="170.5,141.6 172.3,141.2 174.1,139.8 175.0,138.0 174.1,136.6" fill="none" stroke="#235480" stroke-width="0.9" stroke-linecap="round" stroke-linejoin="round"/>
<circle cx="170.5" cy="141.6" r="1.15" fill="#235480"/>
<circle cx="172.1" cy="141.3" r="1.15" fill="#235480"/>
<circle cx="173.4" cy="140.4" r="1.15" fill="#235480"/>
<circle cx="174.4" cy="139.2" r="1.15" fill="#235480"/>
<circle cx="174.9" cy="137.8" r="1.15" fill="#235480"/>
<circle cx="174.1" cy="136.6" r="1.15" fill="#235480"/>
<polyline points="174.1,142.5 174.5,140.5" fill="none" stroke="#235480" stroke-width="0.9" stroke-linecap="round" stroke-linejoin="round"/>
<circle cx="174.1" cy="142.5" r="1.15" fill="#235480"/>
<circle cx="174.4" cy="140.9" r="1.15" fill="#235480"/>
<circle cx="174.5" cy="140.5" r="1.15" fill="#235480"/>
<polyline points="176.8,139.4 178.6,139.8 180.5,139.8 182.3,139.4 184.1,138.5 185.9,138.0 187.7,138.0 190.0,138.5 192.3,139.4 194.1,140.7 195.9,142.1 195.5,143.9 193.2,144.8 190.5,145.3 187.7,145.3 185.0,144.8 182.7,144.4 180.5,143.9 178.6,143.9" fill="none" stroke="#235480" stroke-width="0.9" stroke-linecap="round" stroke-linejoin="round"/>
<circle cx="176.8" cy="139.4" r="1.4" fill="#235480"/>
<circle cx="178.4" cy="139.7" r="1.4" fill="#235480"/>
<circle cx="180.0" cy="139.8" r="1.4" fill="#235480"/>
<circle cx="181.5" cy="139.6" r="1.4" fill="#235480"/>
<circle cx="183.0" cy="139.0" r="1.4" fill="#235480"/>
<circle cx="184.5" cy="138.4" r="1.4" fill="#235480"/>
<circle cx="186.0" cy="138.0" r="1.4" fill="#235480"/>
<circle cx="187.6" cy="138.0" r="1.4" fill="#235480"/>
<circle cx="189.2" cy="138.3" r="1.4" fill="#235480"/>
<circle cx="190.7" cy="138.8" r="1.4" fill="#235480"/>
<circle cx="192.2" cy="139.4" r="1.4" fill="#235480"/>
<circle cx="193.5" cy="140.3" r="1.4" fill="#235480"/>
<circle cx="194.8" cy="141.2" r="1.4" fill="#235480"/>
<circle cx="195.9" cy="142.3" r="1.4" fill="#235480"/>
<circle cx="195.5" cy="143.9" r="1.4" fill="#235480"/>
<circle cx="194.0" cy="144.5" r="1.4" fill="#235480"/>
<circle cx="192.5" cy="144.9" r="1.4" fill="#235480"/>
<circle cx="190.9" cy="145.2" r="1.4" fill="#235480"/>
<circle cx="189.4" cy="145.3" r="1.4" fill="#235480"/>
<circle cx="187.8" cy="145.3" r="1.4" fill="#235480"/>
<circle cx="186.2" cy="145.0" r="1.4" fill="#235480"/>
<circle cx="184.6" cy="144.7" r="1.4" fill="#235480"/>
<circle cx="183.0" cy="144.5" r="1.4" fill="#235480"/>
<circle cx="181.5" cy="144.1" r="1.4" fill="#235480"/>
<circle cx="179.9" cy="143.9" r="1.4" fill="#235480"/>
<circle cx="178.6" cy="143.9" r="1.4" fill="#235480"/>
<polyline points="178.6,146.2 178.2,148.5 177.7,150.7 178.6,152.1 180.9,152.5 183.2,152.5" fill="none" stroke="#235480" stroke-width="0.9" stroke-linecap="round" stroke-linejoin="round"/>
<circle cx="178.6" cy="146.2" r="1.15" fill="#235480"/>
<circle cx="178.3" cy="147.8" r="1.15" fill="#235480"/>
<circle cx="178.0" cy="149.3" r="1.15" fill="#235480"/>
<circle cx="177.8" cy="150.9" r="1.15" fill="#235480"/>
<circle cx="178.7" cy="152.1" r="1.15" fill="#235480"/>
<circle cx="180.3" cy="152.4" r="1.15" fill="#235480"/>
<circle cx="181.9" cy="152.5" r="1.15" fill="#235480"/>
<circle cx="183.2" cy="152.5" r="1.15" fill="#235480"/>
<polyline points="195.0,151.8 197.1,152.8 199.2,153.8 200.7,154.9 202.3,154.9 203.8,155.4 205.4,157.0 206.4,158.5 207.5,160.1 209.0,160.6" fill="none" stroke="#235480" stroke-width="0.9" stroke-linecap="round" stroke-linejoin="round"/>
<circle cx="195.0" cy="151.8" r="1.15" fill="#235480"/>
<circle cx="196.4" cy="152.5" r="1.15" fill="#235480"/>
<circle cx="197.9" cy="153.2" r="1.15" fill="#235480"/>
<circle cx="199.3" cy="153.9" r="1.15" fill="#235480"/>
<circle cx="200.6" cy="154.8" r="1.15" fill="#235480"/>
<circle cx="202.2" cy="154.9" r="1.15" fill="#235480"/>
<circle cx="203.7" cy="155.4" r="1.15" fill="#235480"/>
<circle cx="204.9" cy="156.5" r="1.15" fill="#235480"/>
<circle cx="205.9" cy="157.7" r="1.15" fill="#235480"/>
<circle cx="206.8" cy="159.0" r="1.15" fill="#235480"/>
<circle cx="207.8" cy="160.2" r="1.15" fill="#235480"/>
<circle cx="209.0" cy="160.6" r="1.15" fill="#235480"/>
<circle cx="185.0" cy="153.0" r="1.4" fill="#1c4a7a"/>
<circle cx="187.3" cy="152.5" r="1.4" fill="#1c4a7a"/>
<circle cx="190.0" cy="153.0" r="1.4" fill="#1c4a7a"/>
<circle cx="192.7" cy="152.4" r="1.4" fill="#1c4a7a"/>
<circle cx="195.5" cy="153.0" r="1.4" fill="#1c4a7a"/>
<circle cx="197.3" cy="154.4" r="1.4" fill="#1c4a7a"/>
<circle cx="199.1" cy="152.5" r="1.4" fill="#1c4a7a"/>
<circle cx="211.6" cy="159.5" r="1.4" fill="#1c4a7a"/>
<circle cx="213.2" cy="159.0" r="1.4" fill="#1c4a7a"/>
<circle cx="215.8" cy="159.0" r="1.4" fill="#1c4a7a"/>
<circle cx="217.3" cy="160.1" r="1.4" fill="#1c4a7a"/>
<circle cx="218.9" cy="158.5" r="1.4" fill="#1c4a7a"/>
<circle cx="219.9" cy="160.6" r="1.4" fill="#1c4a7a"/>
<circle cx="222.5" cy="161.1" r="1.4" fill="#1c4a7a"/>
<circle cx="223.6" cy="157.0" r="1.4" fill="#1c4a7a"/>
<circle cx="224.6" cy="160.1" r="1.4" fill="#1c4a7a"/>
<circle cx="226.7" cy="157.5" r="1.4" fill="#1c4a7a"/>
<circle cx="228.2" cy="155.9" r="1.4" fill="#1c4a7a"/>
<circle cx="229.8" cy="157.0" r="1.4" fill="#1c4a7a"/>
<circle cx="230.8" cy="156.4" r="1.4" fill="#1c4a7a"/>
<circle cx="226.7" cy="160.1" r="1.4" fill="#1c4a7a"/>
<path d="M165.60,111.40 V175.70 H256.80" fill="none" stroke="#555555" stroke-width="0.9"/>
<line x1="165.60" y1="122.30" x2="166.60" y2="122.30" stroke="#555555" stroke-width="0.6"/>
<text x="162.10" y="125.55" font-family="Liberation Sans, sans-serif" font-size="7.9" fill="#2e2e2e" stroke="#2e2e2e" stroke-width="0.1" text-anchor="end">1</text>
<line x1="165.60" y1="143.60" x2="166.60" y2="143.60" stroke="#555555" stroke-width="0.6"/>
<text x="162.10" y="146.85" font-family="Liberation Sans, sans-serif" font-size="7.9" fill="#2e2e2e" stroke="#2e2e2e" stroke-width="0.1" text-anchor="end">0</text>
<line x1="165.60" y1="165.00" x2="166.60" y2="165.00" stroke="#555555" stroke-width="0.6"/>
<text x="162.10" y="168.25" font-family="Liberation Sans, sans-serif" font-size="7.9" fill="#2e2e2e" stroke="#2e2e2e" stroke-width="0.1" text-anchor="end">-1</text>
<line x1="165.60" y1="175.70" x2="165.60" y2="174.70" stroke="#555555" stroke-width="0.6"/>
<text x="165.60" y="186.15" font-family="Liberation Sans, sans-serif" font-size="7.9" fill="#2e2e2e" stroke="#2e2e2e" stroke-width="0.1" text-anchor="middle">-0.5</text>
<line x1="188.10" y1="175.70" x2="188.10" y2="174.70" stroke="#555555" stroke-width="0.6"/>
<text x="188.10" y="186.15" font-family="Liberation Sans, sans-serif" font-size="7.9" fill="#2e2e2e" stroke="#2e2e2e" stroke-width="0.1" text-anchor="middle">0</text>
<line x1="210.60" y1="175.70" x2="210.60" y2="174.70" stroke="#555555" stroke-width="0.6"/>
<text x="210.60" y="186.15" font-family="Liberation Sans, sans-serif" font-size="7.9" fill="#2e2e2e" stroke="#2e2e2e" stroke-width="0.1" text-anchor="middle">0.5</text>
<line x1="233.10" y1="175.70" x2="233.10" y2="174.70" stroke="#555555" stroke-width="0.6"/>
<text x="233.10" y="186.15" font-family="Liberation Sans, sans-serif" font-size="7.9" fill="#2e2e2e" stroke="#2e2e2e" stroke-width="0.1" text-anchor="middle">1</text>
<line x1="255.60" y1="175.70" x2="255.60" y2="174.70" stroke="#555555" stroke-width="0.6"/>
<text x="255.60" y="186.15" font-family="Liberation Sans, sans-serif" font-size="7.9" fill="#2e2e2e" stroke="#2e2e2e" stroke-width="0.1" text-anchor="middle">1.5</text>
<g font-family="Liberation Sans, sans-serif" font-size="6.4" fill="#2e62a4" stroke="#2e62a4" stroke-width="0.1" text-anchor="end">
<text x="252.70" y="127.00" textLength="23.5" lengthAdjust="spacingAndGlyphs">+1.96 SD</text>
<text x="252.70" y="153.70" textLength="14.6" lengthAdjust="spacingAndGlyphs">Mean</text>
<text x="252.70" y="168.90" textLength="22" lengthAdjust="spacingAndGlyphs">-1.96 SD</text>
</g>
<path d="M210.40,111.25L210.40,115.95M208.36,112.43L212.44,114.78M212.44,112.43L208.36,114.78" stroke="#2a2a2a" stroke-width="0.85" stroke-linecap="round" fill="none"/>
<circle cx="212.44" cy="114.78" r="0.6" fill="#2a2a2a"/>
<circle cx="210.40" cy="115.95" r="0.6" fill="#2a2a2a"/>
<circle cx="208.36" cy="114.78" r="0.6" fill="#2a2a2a"/>
<circle cx="208.36" cy="112.43" r="0.6" fill="#2a2a2a"/>
<circle cx="210.40" cy="111.25" r="0.6" fill="#2a2a2a"/>
<circle cx="212.44" cy="112.43" r="0.6" fill="#2a2a2a"/>
<circle cx="210.40" cy="113.60" r="0.9" fill="#2a2a2a"/>
<rect x="286.40" y="125.60" width="91.60" height="34.00" fill="#f6e9cb"/>
<line x1="286.40" y1="125.60" x2="378.00" y2="125.60" stroke="#7f94b4" stroke-width="0.85" stroke-dasharray="0.9 1.45"/>
<line x1="286.40" y1="159.60" x2="378.00" y2="159.60" stroke="#7f94b4" stroke-width="0.85" stroke-dasharray="0.9 1.45"/>
<line x1="286.40" y1="165.20" x2="378.00" y2="165.20" stroke="#7d7d7d" stroke-width="0.8"/>
<line x1="286.40" y1="142.70" x2="378.00" y2="142.70" stroke="#4a7aab" stroke-width="1.3"/>
<polyline points="298.4,142.8 299.5,137.0 300.5,131.9 302.6,134.5 303.6,136.5 302.6,139.7" fill="none" stroke="#235480" stroke-width="0.9" stroke-linecap="round" stroke-linejoin="round"/>
<circle cx="298.4" cy="142.8" r="1.15" fill="#235480"/>
<circle cx="298.7" cy="141.2" r="1.15" fill="#235480"/>
<circle cx="299.0" cy="139.7" r="1.15" fill="#235480"/>
<circle cx="299.3" cy="138.1" r="1.15" fill="#235480"/>
<circle cx="299.6" cy="136.5" r="1.15" fill="#235480"/>
<circle cx="299.9" cy="134.9" r="1.15" fill="#235480"/>
<circle cx="300.2" cy="133.4" r="1.15" fill="#235480"/>
<circle cx="300.6" cy="132.0" r="1.15" fill="#235480"/>
<circle cx="301.6" cy="133.2" r="1.15" fill="#235480"/>
<circle cx="302.6" cy="134.5" r="1.15" fill="#235480"/>
<circle cx="303.3" cy="135.9" r="1.15" fill="#235480"/>
<circle cx="303.3" cy="137.4" r="1.15" fill="#235480"/>
<circle cx="302.8" cy="138.9" r="1.15" fill="#235480"/>
<circle cx="302.6" cy="139.7" r="1.15" fill="#235480"/>
<polyline points="301.5,133.4 301.5,142.8" fill="none" stroke="#235480" stroke-width="0.9" stroke-linecap="round" stroke-linejoin="round"/>
<circle cx="301.5" cy="133.4" r="1.15" fill="#235480"/>
<circle cx="301.5" cy="135.0" r="1.15" fill="#235480"/>
<circle cx="301.5" cy="136.6" r="1.15" fill="#235480"/>
<circle cx="301.5" cy="138.2" r="1.15" fill="#235480"/>
<circle cx="301.5" cy="139.8" r="1.15" fill="#235480"/>
<circle cx="301.5" cy="141.4" r="1.15" fill="#235480"/>
<circle cx="301.5" cy="142.8" r="1.15" fill="#235480"/>
<polyline points="304.1,134.0 304.1,141.0" fill="none" stroke="#235480" stroke-width="0.9" stroke-linecap="round" stroke-linejoin="round"/>
<circle cx="304.1" cy="134.0" r="1.15" fill="#235480"/>
<circle cx="304.1" cy="135.6" r="1.15" fill="#235480"/>
<circle cx="304.1" cy="137.2" r="1.15" fill="#235480"/>
<circle cx="304.1" cy="138.8" r="1.15" fill="#235480"/>
<circle cx="304.1" cy="140.4" r="1.15" fill="#235480"/>
<circle cx="304.1" cy="141.0" r="1.15" fill="#235480"/>
<polyline points="306.7,135.5 307.8,137.6 309.3,139.1 310.9,140.7 313.0,142.3 315.6,143.8 318.2,144.9 321.3,145.9 322.8,146.4" fill="none" stroke="#235480" stroke-width="0.9" stroke-linecap="round" stroke-linejoin="round"/>
<circle cx="306.7" cy="135.5" r="1.15" fill="#235480"/>
<circle cx="307.4" cy="136.9" r="1.15" fill="#235480"/>
<circle cx="308.4" cy="138.2" r="1.15" fill="#235480"/>
<circle cx="309.5" cy="139.3" r="1.15" fill="#235480"/>
<circle cx="310.6" cy="140.4" r="1.15" fill="#235480"/>
<circle cx="311.9" cy="141.5" r="1.15" fill="#235480"/>
<circle cx="313.2" cy="142.4" r="1.15" fill="#235480"/>
<circle cx="314.6" cy="143.2" r="1.15" fill="#235480"/>
<circle cx="316.0" cy="144.0" r="1.15" fill="#235480"/>
<circle cx="317.4" cy="144.6" r="1.15" fill="#235480"/>
<circle cx="318.9" cy="145.1" r="1.15" fill="#235480"/>
<circle cx="320.5" cy="145.6" r="1.15" fill="#235480"/>
<circle cx="322.0" cy="146.1" r="1.15" fill="#235480"/>
<circle cx="322.8" cy="146.4" r="1.15" fill="#235480"/>
<polyline points="295.3,143.8 297.4,144.3 300.5,143.8 303.6,142.8 306.2,141.2 307.8,140.2 306.7,135.5" fill="none" stroke="#235480" stroke-width="0.9" stroke-linecap="round" stroke-linejoin="round"/>
<circle cx="295.3" cy="143.8" r="1.15" fill="#235480"/>
<circle cx="296.9" cy="144.2" r="1.15" fill="#235480"/>
<circle cx="298.4" cy="144.1" r="1.15" fill="#235480"/>
<circle cx="300.0" cy="143.9" r="1.15" fill="#235480"/>
<circle cx="301.5" cy="143.5" r="1.15" fill="#235480"/>
<circle cx="303.1" cy="143.0" r="1.15" fill="#235480"/>
<circle cx="304.5" cy="142.3" r="1.15" fill="#235480"/>
<circle cx="305.9" cy="141.4" r="1.15" fill="#235480"/>
<circle cx="307.2" cy="140.6" r="1.15" fill="#235480"/>
<circle cx="307.6" cy="139.3" r="1.15" fill="#235480"/>
<circle cx="307.2" cy="137.8" r="1.15" fill="#235480"/>
<circle cx="306.9" cy="136.2" r="1.15" fill="#235480"/>
<circle cx="306.7" cy="135.5" r="1.15" fill="#235480"/>
<polyline points="296.5,145.5 299.0,146.0 301.5,145.0" fill="none" stroke="#235480" stroke-width="0.9" stroke-linecap="round" stroke-linejoin="round"/>
<circle cx="296.5" cy="145.5" r="1.15" fill="#235480"/>
<circle cx="298.1" cy="145.8" r="1.15" fill="#235480"/>
<circle cx="299.6" cy="145.8" r="1.15" fill="#235480"/>
<circle cx="301.1" cy="145.2" r="1.15" fill="#235480"/>
<circle cx="301.5" cy="145.0" r="1.15" fill="#235480"/>
<circle cx="294.8" cy="127.2" r="1.4" fill="#1c4a7a"/>
<circle cx="293.8" cy="128.8" r="1.4" fill="#1c4a7a"/>
<circle cx="291.7" cy="132.4" r="1.4" fill="#1c4a7a"/>
<circle cx="294.8" cy="132.4" r="1.4" fill="#1c4a7a"/>
<circle cx="290.6" cy="136.5" r="1.4" fill="#1c4a7a"/>
<circle cx="290.6" cy="139.7" r="1.4" fill="#1c4a7a"/>
<circle cx="291.2" cy="142.3" r="1.4" fill="#1c4a7a"/>
<circle cx="291.7" cy="146.4" r="1.4" fill="#1c4a7a"/>
<circle cx="292.7" cy="149.0" r="1.4" fill="#1c4a7a"/>
<circle cx="294.8" cy="140.2" r="1.4" fill="#1c4a7a"/>
<circle cx="297.4" cy="146.4" r="1.4" fill="#1c4a7a"/>
<circle cx="297.4" cy="149.5" r="1.4" fill="#1c4a7a"/>
<circle cx="299.5" cy="148.0" r="1.4" fill="#1c4a7a"/>
<circle cx="308.8" cy="126.2" r="1.4" fill="#1c4a7a"/>
<circle cx="308.3" cy="128.2" r="1.4" fill="#1c4a7a"/>
<circle cx="307.3" cy="130.3" r="1.4" fill="#1c4a7a"/>
<circle cx="308.3" cy="133.9" r="1.4" fill="#1c4a7a"/>
<circle cx="306.2" cy="150.1" r="1.4" fill="#1c4a7a"/>
<circle cx="308.8" cy="153.2" r="1.4" fill="#1c4a7a"/>
<circle cx="314.0" cy="155.0" r="1.4" fill="#1c4a7a"/>
<circle cx="319.7" cy="155.0" r="1.4" fill="#1c4a7a"/>
<circle cx="325.4" cy="154.2" r="1.4" fill="#1c4a7a"/>
<circle cx="324.9" cy="142.8" r="1.4" fill="#1c4a7a"/>
<circle cx="296.5" cy="138.0" r="1.4" fill="#1c4a7a"/>
<circle cx="298.0" cy="135.0" r="1.4" fill="#1c4a7a"/>
<circle cx="328.1" cy="138.5" r="1.4" fill="#1c4a7a"/>
<circle cx="330.5" cy="134.6" r="1.4" fill="#1c4a7a"/>
<circle cx="331.5" cy="136.5" r="1.4" fill="#1c4a7a"/>
<circle cx="331.2" cy="144.0" r="1.4" fill="#1c4a7a"/>
<circle cx="334.4" cy="147.9" r="1.4" fill="#1c4a7a"/>
<circle cx="326.6" cy="154.0" r="1.4" fill="#1c4a7a"/>
<circle cx="330.5" cy="152.9" r="1.4" fill="#1c4a7a"/>
<circle cx="331.2" cy="158.0" r="1.4" fill="#1c4a7a"/>
<circle cx="332.8" cy="159.6" r="1.4" fill="#1c4a7a"/>
<circle cx="334.0" cy="159.1" r="1.4" fill="#1c4a7a"/>
<circle cx="336.2" cy="156.0" r="1.4" fill="#1c4a7a"/>
<circle cx="339.3" cy="150.8" r="1.4" fill="#1c4a7a"/>
<circle cx="342.1" cy="140.9" r="1.4" fill="#1c4a7a"/>
<circle cx="343.4" cy="144.3" r="1.4" fill="#1c4a7a"/>
<circle cx="345.3" cy="141.9" r="1.4" fill="#1c4a7a"/>
<circle cx="346.8" cy="145.1" r="1.4" fill="#1c4a7a"/>
<circle cx="348.1" cy="137.3" r="1.4" fill="#1c4a7a"/>
<circle cx="350.2" cy="141.9" r="1.4" fill="#1c4a7a"/>
<circle cx="346.8" cy="152.1" r="1.4" fill="#1c4a7a"/>
<circle cx="351.2" cy="150.5" r="1.4" fill="#1c4a7a"/>
<circle cx="346.8" cy="160.2" r="1.4" fill="#1c4a7a"/>
<circle cx="347.6" cy="163.8" r="1.4" fill="#1c4a7a"/>
<circle cx="349.2" cy="163.8" r="1.4" fill="#1c4a7a"/>
<circle cx="350.2" cy="162.7" r="1.4" fill="#1c4a7a"/>
<circle cx="350.7" cy="158.3" r="1.4" fill="#1c4a7a"/>
<path d="M286.40,111.40 V175.70 H378.00" fill="none" stroke="#555555" stroke-width="0.9"/>
<line x1="286.40" y1="121.80" x2="287.40" y2="121.80" stroke="#555555" stroke-width="0.6"/>
<text x="282.90" y="125.05" font-family="Liberation Sans, sans-serif" font-size="7.9" fill="#2e2e2e" stroke="#2e2e2e" stroke-width="0.1" text-anchor="end">2</text>
<line x1="286.40" y1="143.50" x2="287.40" y2="143.50" stroke="#555555" stroke-width="0.6"/>
<text x="282.90" y="146.75" font-family="Liberation Sans, sans-serif" font-size="7.9" fill="#2e2e2e" stroke="#2e2e2e" stroke-width="0.1" text-anchor="end">1</text>
<line x1="286.40" y1="165.20" x2="287.40" y2="165.20" stroke="#555555" stroke-width="0.6"/>
<text x="282.90" y="168.45" font-family="Liberation Sans, sans-serif" font-size="7.9" fill="#2e2e2e" stroke="#2e2e2e" stroke-width="0.1" text-anchor="end">0</text>
<line x1="286.60" y1="175.70" x2="286.60" y2="174.70" stroke="#555555" stroke-width="0.6"/>
<text x="286.60" y="186.15" font-family="Liberation Sans, sans-serif" font-size="7.9" fill="#2e2e2e" stroke="#2e2e2e" stroke-width="0.1" text-anchor="middle">-2</text>
<line x1="306.70" y1="175.70" x2="306.70" y2="174.70" stroke="#555555" stroke-width="0.6"/>
<text x="306.70" y="186.15" font-family="Liberation Sans, sans-serif" font-size="7.9" fill="#2e2e2e" stroke="#2e2e2e" stroke-width="0.1" text-anchor="middle">0</text>
<line x1="326.90" y1="175.70" x2="326.90" y2="174.70" stroke="#555555" stroke-width="0.6"/>
<text x="326.90" y="186.15" font-family="Liberation Sans, sans-serif" font-size="7.9" fill="#2e2e2e" stroke="#2e2e2e" stroke-width="0.1" text-anchor="middle">2</text>
<line x1="347.20" y1="175.70" x2="347.20" y2="174.70" stroke="#555555" stroke-width="0.6"/>
<text x="347.20" y="186.15" font-family="Liberation Sans, sans-serif" font-size="7.9" fill="#2e2e2e" stroke="#2e2e2e" stroke-width="0.1" text-anchor="middle">4</text>
<line x1="367.50" y1="175.70" x2="367.50" y2="174.70" stroke="#555555" stroke-width="0.6"/>
<text x="367.50" y="186.15" font-family="Liberation Sans, sans-serif" font-size="7.9" fill="#2e2e2e" stroke="#2e2e2e" stroke-width="0.1" text-anchor="middle">6</text>
<g font-family="Liberation Sans, sans-serif" font-size="6.4" fill="#2e62a4" stroke="#2e62a4" stroke-width="0.1" text-anchor="end">
<text x="373.90" y="123.00" textLength="23.5" lengthAdjust="spacingAndGlyphs">+1.96 SD</text>
<text x="373.90" y="139.90" textLength="14.6" lengthAdjust="spacingAndGlyphs">Mean</text>
<text x="373.90" y="157.20" textLength="22" lengthAdjust="spacingAndGlyphs">-1.96 SD</text>
</g>
<path d="M336.20,111.25L336.20,115.95M334.16,112.43L338.24,114.78M338.24,112.43L334.16,114.78" stroke="#2a2a2a" stroke-width="0.85" stroke-linecap="round" fill="none"/>
<circle cx="338.24" cy="114.78" r="0.6" fill="#2a2a2a"/>
<circle cx="336.20" cy="115.95" r="0.6" fill="#2a2a2a"/>
<circle cx="334.16" cy="114.78" r="0.6" fill="#2a2a2a"/>
<circle cx="334.16" cy="112.43" r="0.6" fill="#2a2a2a"/>
<circle cx="336.20" cy="111.25" r="0.6" fill="#2a2a2a"/>
<circle cx="338.24" cy="112.43" r="0.6" fill="#2a2a2a"/>
<circle cx="336.20" cy="113.60" r="0.9" fill="#2a2a2a"/>
<rect x="44.50" y="207.40" width="91.40" height="39.00" fill="#f6e9cb"/>
<line x1="44.50" y1="207.40" x2="135.90" y2="207.40" stroke="#7f94b4" stroke-width="0.85" stroke-dasharray="0.9 1.45"/>
<line x1="44.50" y1="246.40" x2="135.90" y2="246.40" stroke="#7f94b4" stroke-width="0.85" stroke-dasharray="0.9 1.45"/>
<line x1="44.50" y1="222.40" x2="135.90" y2="222.40" stroke="#9c8466" stroke-width="0.8"/>
<line x1="44.50" y1="227.30" x2="135.90" y2="227.30" stroke="#4a7aab" stroke-width="1.3"/>
<polyline points="45.9,227.9 47.2,224.0 48.5,221.4 49.8,223.4 51.1,226.0 52.4,227.9 54.3,227.3 56.3,224.7 57.6,222.7 58.2,225.3 59.5,224.0 60.8,222.7" fill="none" stroke="#235480" stroke-width="0.9" stroke-linecap="round" stroke-linejoin="round"/>
<circle cx="45.9" cy="227.9" r="1.3" fill="#235480"/>
<circle cx="46.4" cy="226.4" r="1.3" fill="#235480"/>
<circle cx="46.9" cy="224.9" r="1.3" fill="#235480"/>
<circle cx="47.5" cy="223.4" r="1.3" fill="#235480"/>
<circle cx="48.2" cy="222.0" r="1.3" fill="#235480"/>
<circle cx="49.0" cy="222.2" r="1.3" fill="#235480"/>
<circle cx="49.9" cy="223.6" r="1.3" fill="#235480"/>
<circle cx="50.6" cy="225.0" r="1.3" fill="#235480"/>
<circle cx="51.4" cy="226.4" r="1.3" fill="#235480"/>
<circle cx="52.3" cy="227.7" r="1.3" fill="#235480"/>
<circle cx="53.7" cy="227.5" r="1.3" fill="#235480"/>
<circle cx="54.9" cy="226.5" r="1.3" fill="#235480"/>
<circle cx="55.9" cy="225.2" r="1.3" fill="#235480"/>
<circle cx="56.8" cy="223.9" r="1.3" fill="#235480"/>
<circle cx="57.6" cy="222.8" r="1.3" fill="#235480"/>
<circle cx="58.0" cy="224.4" r="1.3" fill="#235480"/>
<circle cx="58.7" cy="224.8" r="1.3" fill="#235480"/>
<circle cx="59.8" cy="223.7" r="1.3" fill="#235480"/>
<circle cx="60.8" cy="222.7" r="1.3" fill="#235480"/>
<polyline points="61.5,229.9 60.8,233.1 62.1,231.8 62.8,226.0 64.1,223.4 66.0,221.4 67.3,224.0 68.0,220.8 69.3,224.7 69.9,227.3 71.2,225.3 73.2,221.4 75.1,219.5 77.7,219.5 79.7,216.9 81.6,215.6 83.6,214.3 85.5,215.6" fill="none" stroke="#235480" stroke-width="0.9" stroke-linecap="round" stroke-linejoin="round"/>
<circle cx="61.5" cy="229.9" r="1.3" fill="#235480"/>
<circle cx="61.2" cy="231.5" r="1.3" fill="#235480"/>
<circle cx="60.8" cy="233.0" r="1.3" fill="#235480"/>
<circle cx="61.9" cy="232.0" r="1.3" fill="#235480"/>
<circle cx="62.3" cy="230.5" r="1.3" fill="#235480"/>
<circle cx="62.4" cy="228.9" r="1.3" fill="#235480"/>
<circle cx="62.6" cy="227.3" r="1.3" fill="#235480"/>
<circle cx="62.9" cy="225.8" r="1.3" fill="#235480"/>
<circle cx="63.6" cy="224.4" r="1.3" fill="#235480"/>
<circle cx="64.5" cy="223.0" r="1.3" fill="#235480"/>
<circle cx="65.6" cy="221.9" r="1.3" fill="#235480"/>
<circle cx="66.4" cy="222.3" r="1.3" fill="#235480"/>
<circle cx="67.2" cy="223.7" r="1.3" fill="#235480"/>
<circle cx="67.6" cy="222.8" r="1.3" fill="#235480"/>
<circle cx="67.9" cy="221.2" r="1.3" fill="#235480"/>
<circle cx="68.4" cy="221.9" r="1.3" fill="#235480"/>
<circle cx="68.9" cy="223.5" r="1.3" fill="#235480"/>
<circle cx="69.4" cy="225.0" r="1.3" fill="#235480"/>
<circle cx="69.7" cy="226.5" r="1.3" fill="#235480"/>
<circle cx="70.3" cy="226.6" r="1.3" fill="#235480"/>
<circle cx="71.2" cy="225.3" r="1.3" fill="#235480"/>
<circle cx="71.9" cy="223.8" r="1.3" fill="#235480"/>
<circle cx="72.7" cy="222.4" r="1.3" fill="#235480"/>
<circle cx="73.5" cy="221.1" r="1.3" fill="#235480"/>
<circle cx="74.6" cy="220.0" r="1.3" fill="#235480"/>
<circle cx="76.1" cy="219.5" r="1.3" fill="#235480"/>
<circle cx="77.7" cy="219.5" r="1.3" fill="#235480"/>
<circle cx="78.7" cy="218.3" r="1.3" fill="#235480"/>
<circle cx="79.6" cy="217.0" r="1.3" fill="#235480"/>
<circle cx="80.9" cy="216.1" r="1.3" fill="#235480"/>
<circle cx="82.3" cy="215.2" r="1.3" fill="#235480"/>
<circle cx="83.6" cy="214.3" r="1.3" fill="#235480"/>
<circle cx="84.9" cy="215.2" r="1.3" fill="#235480"/>
<circle cx="85.5" cy="215.6" r="1.3" fill="#235480"/>
<circle cx="87.5" cy="218.2" r="1.4" fill="#1c4a7a"/>
<circle cx="89.4" cy="219.5" r="1.4" fill="#1c4a7a"/>
<circle cx="92.0" cy="219.7" r="1.4" fill="#1c4a7a"/>
<circle cx="45.9" cy="230.5" r="1.4" fill="#1c4a7a"/>
<circle cx="46.5" cy="234.4" r="1.4" fill="#1c4a7a"/>
<circle cx="47.2" cy="239.0" r="1.4" fill="#1c4a7a"/>
<circle cx="48.5" cy="240.3" r="1.4" fill="#1c4a7a"/>
<circle cx="49.8" cy="241.8" r="1.4" fill="#1c4a7a"/>
<circle cx="51.7" cy="242.2" r="1.4" fill="#1c4a7a"/>
<circle cx="53.7" cy="241.6" r="1.4" fill="#1c4a7a"/>
<circle cx="55.6" cy="242.9" r="1.4" fill="#1c4a7a"/>
<circle cx="58.2" cy="242.2" r="1.4" fill="#1c4a7a"/>
<circle cx="61.5" cy="244.8" r="1.4" fill="#1c4a7a"/>
<circle cx="64.7" cy="245.1" r="1.4" fill="#1c4a7a"/>
<circle cx="68.0" cy="245.1" r="1.4" fill="#1c4a7a"/>
<circle cx="71.2" cy="245.1" r="1.4" fill="#1c4a7a"/>
<circle cx="74.5" cy="245.1" r="1.4" fill="#1c4a7a"/>
<circle cx="77.7" cy="244.8" r="1.4" fill="#1c4a7a"/>
<circle cx="81.0" cy="244.5" r="1.4" fill="#1c4a7a"/>
<circle cx="84.2" cy="244.2" r="1.4" fill="#1c4a7a"/>
<circle cx="87.5" cy="243.8" r="1.4" fill="#1c4a7a"/>
<circle cx="90.7" cy="243.2" r="1.4" fill="#1c4a7a"/>
<circle cx="90.7" cy="218.8" r="1.4" fill="#1c4a7a"/>
<circle cx="93.4" cy="216.3" r="1.4" fill="#1c4a7a"/>
<circle cx="95.8" cy="212.3" r="1.4" fill="#1c4a7a"/>
<circle cx="98.1" cy="207.1" r="1.4" fill="#1c4a7a"/>
<circle cx="100.2" cy="203.5" r="1.4" fill="#1c4a7a"/>
<circle cx="101.5" cy="202.1" r="1.4" fill="#1c4a7a"/>
<circle cx="102.6" cy="201.2" r="1.4" fill="#1c4a7a"/>
<circle cx="104.2" cy="206.2" r="1.4" fill="#1c4a7a"/>
<circle cx="105.6" cy="210.2" r="1.4" fill="#1c4a7a"/>
<circle cx="106.9" cy="217.0" r="1.4" fill="#1c4a7a"/>
<circle cx="107.6" cy="221.1" r="1.4" fill="#1c4a7a"/>
<circle cx="108.0" cy="223.8" r="1.4" fill="#1c4a7a"/>
<circle cx="107.6" cy="225.8" r="1.4" fill="#1c4a7a"/>
<circle cx="106.9" cy="227.4" r="1.4" fill="#1c4a7a"/>
<circle cx="92.7" cy="240.9" r="1.4" fill="#1c4a7a"/>
<circle cx="94.8" cy="239.3" r="1.4" fill="#1c4a7a"/>
<circle cx="96.8" cy="238.0" r="1.4" fill="#1c4a7a"/>
<circle cx="98.8" cy="236.6" r="1.4" fill="#1c4a7a"/>
<circle cx="100.8" cy="235.2" r="1.4" fill="#1c4a7a"/>
<circle cx="102.9" cy="233.2" r="1.4" fill="#1c4a7a"/>
<circle cx="104.9" cy="231.2" r="1.4" fill="#1c4a7a"/>
<circle cx="106.2" cy="229.2" r="1.4" fill="#1c4a7a"/>
<path d="M44.50,197.80 V262.10 H135.90" fill="none" stroke="#555555" stroke-width="0.9"/>
<line x1="44.50" y1="206.70" x2="45.50" y2="206.70" stroke="#555555" stroke-width="0.6"/>
<text x="41.00" y="209.95" font-family="Liberation Sans, sans-serif" font-size="7.9" fill="#2e2e2e" stroke="#2e2e2e" stroke-width="0.1" text-anchor="end">1</text>
<line x1="44.50" y1="222.40" x2="45.50" y2="222.40" stroke="#555555" stroke-width="0.6"/>
<text x="41.00" y="225.65" font-family="Liberation Sans, sans-serif" font-size="7.9" fill="#2e2e2e" stroke="#2e2e2e" stroke-width="0.1" text-anchor="end">0</text>
<line x1="44.50" y1="238.60" x2="45.50" y2="238.60" stroke="#555555" stroke-width="0.6"/>
<text x="41.00" y="241.85" font-family="Liberation Sans, sans-serif" font-size="7.9" fill="#2e2e2e" stroke="#2e2e2e" stroke-width="0.1" text-anchor="end">-1</text>
<line x1="44.50" y1="254.80" x2="45.50" y2="254.80" stroke="#555555" stroke-width="0.6"/>
<text x="41.00" y="258.05" font-family="Liberation Sans, sans-serif" font-size="7.9" fill="#2e2e2e" stroke="#2e2e2e" stroke-width="0.1" text-anchor="end">-2</text>
<line x1="44.50" y1="262.10" x2="44.50" y2="261.10" stroke="#555555" stroke-width="0.6"/>
<text x="44.50" y="272.55" font-family="Liberation Sans, sans-serif" font-size="7.9" fill="#2e2e2e" stroke="#2e2e2e" stroke-width="0.1" text-anchor="middle">0</text>
<line x1="82.50" y1="262.10" x2="82.50" y2="261.10" stroke="#555555" stroke-width="0.6"/>
<text x="82.50" y="272.55" font-family="Liberation Sans, sans-serif" font-size="7.9" fill="#2e2e2e" stroke="#2e2e2e" stroke-width="0.1" text-anchor="middle">50</text>
<line x1="120.60" y1="262.10" x2="120.60" y2="261.10" stroke="#555555" stroke-width="0.6"/>
<text x="120.60" y="272.55" font-family="Liberation Sans, sans-serif" font-size="7.9" fill="#2e2e2e" stroke="#2e2e2e" stroke-width="0.1" text-anchor="middle">100</text>
<g font-family="Liberation Sans, sans-serif" font-size="6.4" fill="#2e62a4" stroke="#2e62a4" stroke-width="0.1" text-anchor="end">
<text x="131.80" y="204.80" textLength="23.5" lengthAdjust="spacingAndGlyphs">+1.96 SD</text>
<text x="131.80" y="235.60" textLength="14.6" lengthAdjust="spacingAndGlyphs">Mean</text>
<text x="131.80" y="254.30" textLength="22" lengthAdjust="spacingAndGlyphs">-1.96 SD</text>
</g>
<path d="M85.50,194.15L85.50,198.85M83.46,195.32L87.54,197.68M87.54,195.32L83.46,197.68" stroke="#2a2a2a" stroke-width="0.85" stroke-linecap="round" fill="none"/>
<circle cx="87.54" cy="197.68" r="0.6" fill="#2a2a2a"/>
<circle cx="85.50" cy="198.85" r="0.6" fill="#2a2a2a"/>
<circle cx="83.46" cy="197.68" r="0.6" fill="#2a2a2a"/>
<circle cx="83.46" cy="195.32" r="0.6" fill="#2a2a2a"/>
<circle cx="85.50" cy="194.15" r="0.6" fill="#2a2a2a"/>
<circle cx="87.54" cy="195.32" r="0.6" fill="#2a2a2a"/>
<circle cx="85.50" cy="196.50" r="0.9" fill="#2a2a2a"/>
<rect x="165.60" y="209.00" width="91.20" height="40.30" fill="#f6e9cb"/>
<line x1="165.60" y1="209.00" x2="256.80" y2="209.00" stroke="#7f94b4" stroke-width="0.85" stroke-dasharray="0.9 1.45"/>
<line x1="165.60" y1="249.30" x2="256.80" y2="249.30" stroke="#7f94b4" stroke-width="0.85" stroke-dasharray="0.9 1.45"/>
<line x1="165.60" y1="249.30" x2="256.80" y2="249.30" stroke="#9c8466" stroke-width="0.8"/>
<line x1="165.60" y1="229.40" x2="256.80" y2="229.40" stroke="#4a7aab" stroke-width="1.3"/>
<circle cx="166.9" cy="214.0" r="1.4" fill="#1c4a7a"/>
<circle cx="168.2" cy="212.3" r="1.4" fill="#1c4a7a"/>
<circle cx="170.1" cy="211.7" r="1.4" fill="#1c4a7a"/>
<circle cx="167.5" cy="216.2" r="1.4" fill="#1c4a7a"/>
<circle cx="171.8" cy="218.2" r="1.4" fill="#1c4a7a"/>
<circle cx="174.4" cy="212.6" r="1.4" fill="#1c4a7a"/>
<circle cx="177.0" cy="218.8" r="1.4" fill="#1c4a7a"/>
<circle cx="178.8" cy="213.6" r="1.4" fill="#1c4a7a"/>
<circle cx="182.2" cy="219.5" r="1.4" fill="#1c4a7a"/>
<circle cx="184.4" cy="215.8" r="1.4" fill="#1c4a7a"/>
<circle cx="186.1" cy="220.5" r="1.4" fill="#1c4a7a"/>
<circle cx="190.0" cy="216.6" r="1.4" fill="#1c4a7a"/>
<circle cx="196.1" cy="216.9" r="1.4" fill="#1c4a7a"/>
<circle cx="200.7" cy="216.6" r="1.4" fill="#1c4a7a"/>
<circle cx="204.6" cy="216.6" r="1.4" fill="#1c4a7a"/>
<circle cx="207.2" cy="216.2" r="1.4" fill="#1c4a7a"/>
<circle cx="209.1" cy="215.8" r="1.4" fill="#1c4a7a"/>
<circle cx="211.7" cy="215.8" r="1.4" fill="#1c4a7a"/>
<circle cx="187.7" cy="222.1" r="1.4" fill="#1c4a7a"/>
<circle cx="189.6" cy="223.4" r="1.4" fill="#1c4a7a"/>
<circle cx="190.3" cy="226.0" r="1.4" fill="#1c4a7a"/>
<circle cx="192.2" cy="227.3" r="1.4" fill="#1c4a7a"/>
<circle cx="194.2" cy="226.6" r="1.4" fill="#1c4a7a"/>
<circle cx="196.8" cy="225.3" r="1.4" fill="#1c4a7a"/>
<circle cx="199.4" cy="225.3" r="1.4" fill="#1c4a7a"/>
<circle cx="189.0" cy="229.2" r="1.4" fill="#1c4a7a"/>
<circle cx="190.9" cy="231.2" r="1.4" fill="#1c4a7a"/>
<circle cx="189.6" cy="233.1" r="1.4" fill="#1c4a7a"/>
<circle cx="191.6" cy="234.4" r="1.4" fill="#1c4a7a"/>
<circle cx="194.8" cy="233.1" r="1.4" fill="#1c4a7a"/>
<circle cx="197.4" cy="231.8" r="1.4" fill="#1c4a7a"/>
<circle cx="200.0" cy="231.2" r="1.4" fill="#1c4a7a"/>
<circle cx="202.0" cy="231.2" r="1.4" fill="#1c4a7a"/>
<circle cx="186.4" cy="235.1" r="1.4" fill="#1c4a7a"/>
<circle cx="184.4" cy="235.7" r="1.4" fill="#1c4a7a"/>
<circle cx="185.7" cy="237.7" r="1.4" fill="#1c4a7a"/>
<circle cx="186.4" cy="240.3" r="1.4" fill="#1c4a7a"/>
<circle cx="187.0" cy="242.9" r="1.4" fill="#1c4a7a"/>
<circle cx="187.0" cy="245.5" r="1.4" fill="#1c4a7a"/>
<circle cx="183.8" cy="240.3" r="1.4" fill="#1c4a7a"/>
<circle cx="182.5" cy="242.9" r="1.4" fill="#1c4a7a"/>
<circle cx="181.8" cy="245.2" r="1.4" fill="#1c4a7a"/>
<circle cx="190.9" cy="246.1" r="1.4" fill="#1c4a7a"/>
<circle cx="192.9" cy="248.1" r="1.4" fill="#1c4a7a"/>
<circle cx="194.8" cy="248.7" r="1.4" fill="#1c4a7a"/>
<circle cx="198.7" cy="243.5" r="1.4" fill="#1c4a7a"/>
<circle cx="200.0" cy="246.8" r="1.4" fill="#1c4a7a"/>
<circle cx="192.2" cy="239.0" r="1.4" fill="#1c4a7a"/>
<circle cx="204.6" cy="235.7" r="1.4" fill="#1c4a7a"/>
<circle cx="205.9" cy="241.6" r="1.4" fill="#1c4a7a"/>
<circle cx="208.5" cy="240.3" r="1.4" fill="#1c4a7a"/>
<circle cx="172.1" cy="240.3" r="1.4" fill="#1c4a7a"/>
<circle cx="173.4" cy="241.3" r="1.4" fill="#1c4a7a"/>
<circle cx="175.3" cy="240.5" r="1.4" fill="#1c4a7a"/>
<circle cx="176.0" cy="242.9" r="1.4" fill="#1c4a7a"/>
<circle cx="176.6" cy="244.4" r="1.4" fill="#1c4a7a"/>
<circle cx="188.5" cy="224.5" r="1.4" fill="#1c4a7a"/>
<circle cx="191.0" cy="228.5" r="1.4" fill="#1c4a7a"/>
<circle cx="193.0" cy="230.0" r="1.4" fill="#1c4a7a"/>
<circle cx="187.5" cy="236.5" r="1.4" fill="#1c4a7a"/>
<circle cx="196.0" cy="228.0" r="1.4" fill="#1c4a7a"/>
<circle cx="213.9" cy="215.7" r="1.4" fill="#1c4a7a"/>
<circle cx="216.4" cy="216.1" r="1.4" fill="#1c4a7a"/>
<circle cx="218.6" cy="216.7" r="1.4" fill="#1c4a7a"/>
<circle cx="220.7" cy="217.9" r="1.4" fill="#1c4a7a"/>
<circle cx="222.9" cy="218.6" r="1.4" fill="#1c4a7a"/>
<circle cx="225.0" cy="219.3" r="1.4" fill="#1c4a7a"/>
<circle cx="226.4" cy="219.0" r="1.4" fill="#1c4a7a"/>
<circle cx="228.6" cy="218.1" r="1.4" fill="#1c4a7a"/>
<circle cx="231.4" cy="217.1" r="1.4" fill="#1c4a7a"/>
<circle cx="235.0" cy="216.1" r="1.4" fill="#1c4a7a"/>
<circle cx="238.6" cy="215.0" r="1.4" fill="#1c4a7a"/>
<circle cx="240.7" cy="214.3" r="1.4" fill="#1c4a7a"/>
<circle cx="242.4" cy="213.6" r="1.4" fill="#1c4a7a"/>
<circle cx="243.6" cy="215.0" r="1.4" fill="#1c4a7a"/>
<circle cx="242.9" cy="216.7" r="1.4" fill="#1c4a7a"/>
<circle cx="239.3" cy="220.7" r="1.4" fill="#1c4a7a"/>
<circle cx="234.3" cy="224.3" r="1.4" fill="#1c4a7a"/>
<circle cx="227.1" cy="227.9" r="1.4" fill="#1c4a7a"/>
<circle cx="216.4" cy="231.4" r="1.4" fill="#1c4a7a"/>
<circle cx="208.6" cy="240.4" r="1.4" fill="#1c4a7a"/>
<circle cx="206.4" cy="241.4" r="1.4" fill="#1c4a7a"/>
<circle cx="205.0" cy="242.1" r="1.4" fill="#1c4a7a"/>
<path d="M165.60,197.80 V262.10 H256.80" fill="none" stroke="#555555" stroke-width="0.9"/>
<line x1="165.60" y1="198.40" x2="166.60" y2="198.40" stroke="#555555" stroke-width="0.6"/>
<text x="162.10" y="201.65" font-family="Liberation Sans, sans-serif" font-size="7.9" fill="#2e2e2e" stroke="#2e2e2e" stroke-width="0.1" text-anchor="end">4</text>
<line x1="165.60" y1="223.80" x2="166.60" y2="223.80" stroke="#555555" stroke-width="0.6"/>
<text x="162.10" y="227.05" font-family="Liberation Sans, sans-serif" font-size="7.9" fill="#2e2e2e" stroke="#2e2e2e" stroke-width="0.1" text-anchor="end">2</text>
<line x1="165.60" y1="249.20" x2="166.60" y2="249.20" stroke="#555555" stroke-width="0.6"/>
<text x="162.10" y="252.45" font-family="Liberation Sans, sans-serif" font-size="7.9" fill="#2e2e2e" stroke="#2e2e2e" stroke-width="0.1" text-anchor="end">0</text>
<line x1="165.30" y1="262.10" x2="165.30" y2="261.10" stroke="#555555" stroke-width="0.6"/>
<text x="165.30" y="272.55" font-family="Liberation Sans, sans-serif" font-size="7.9" fill="#2e2e2e" stroke="#2e2e2e" stroke-width="0.1" text-anchor="middle">-1</text>
<line x1="201.90" y1="262.10" x2="201.90" y2="261.10" stroke="#555555" stroke-width="0.6"/>
<text x="201.90" y="272.55" font-family="Liberation Sans, sans-serif" font-size="7.9" fill="#2e2e2e" stroke="#2e2e2e" stroke-width="0.1" text-anchor="middle">0</text>
<line x1="238.50" y1="262.10" x2="238.50" y2="261.10" stroke="#555555" stroke-width="0.6"/>
<text x="238.50" y="272.55" font-family="Liberation Sans, sans-serif" font-size="7.9" fill="#2e2e2e" stroke="#2e2e2e" stroke-width="0.1" text-anchor="middle">1</text>
<g font-family="Liberation Sans, sans-serif" font-size="6.4" fill="#2e62a4" stroke="#2e62a4" stroke-width="0.1" text-anchor="end">
<text x="252.70" y="206.40" textLength="23.5" lengthAdjust="spacingAndGlyphs">+1.96 SD</text>
<text x="252.70" y="237.70" textLength="14.6" lengthAdjust="spacingAndGlyphs">Mean</text>
<text x="252.70" y="257.20" textLength="22" lengthAdjust="spacingAndGlyphs">-1.96 SD</text>
</g>
<path d="M210.10,193.85L210.10,198.55M208.06,195.02L212.14,197.38M212.14,195.02L208.06,197.38" stroke="#2a2a2a" stroke-width="0.85" stroke-linecap="round" fill="none"/>
<circle cx="212.14" cy="197.38" r="0.6" fill="#2a2a2a"/>
<circle cx="210.10" cy="198.55" r="0.6" fill="#2a2a2a"/>
<circle cx="208.06" cy="197.38" r="0.6" fill="#2a2a2a"/>
<circle cx="208.06" cy="195.02" r="0.6" fill="#2a2a2a"/>
<circle cx="210.10" cy="193.85" r="0.6" fill="#2a2a2a"/>
<circle cx="212.14" cy="195.02" r="0.6" fill="#2a2a2a"/>
<circle cx="210.10" cy="196.20" r="0.9" fill="#2a2a2a"/>
<rect x="286.40" y="209.40" width="91.60" height="37.40" fill="#f6e9cb"/>
<line x1="286.40" y1="209.40" x2="378.00" y2="209.40" stroke="#7f94b4" stroke-width="0.85" stroke-dasharray="0.9 1.45"/>
<line x1="286.40" y1="246.80" x2="378.00" y2="246.80" stroke="#7f94b4" stroke-width="0.85" stroke-dasharray="0.9 1.45"/>
<line x1="286.40" y1="228.40" x2="378.00" y2="228.40" stroke="#4a7aab" stroke-width="1.3"/>
<polyline points="291.5,240.3 292.1,237.0 294.1,235.1 296.7,233.1 298.6,231.2 300.6,230.5 303.2,229.2 305.1,227.9 306.4,226.0 307.7,223.4 309.0,221.4 311.0,220.5" fill="none" stroke="#235480" stroke-width="0.9" stroke-linecap="round" stroke-linejoin="round"/>
<circle cx="291.5" cy="240.3" r="1.15" fill="#235480"/>
<circle cx="291.8" cy="238.7" r="1.15" fill="#235480"/>
<circle cx="292.1" cy="237.2" r="1.15" fill="#235480"/>
<circle cx="293.1" cy="236.0" r="1.15" fill="#235480"/>
<circle cx="294.3" cy="234.9" r="1.15" fill="#235480"/>
<circle cx="295.6" cy="233.9" r="1.15" fill="#235480"/>
<circle cx="296.8" cy="233.0" r="1.15" fill="#235480"/>
<circle cx="298.0" cy="231.8" r="1.15" fill="#235480"/>
<circle cx="299.3" cy="231.0" r="1.15" fill="#235480"/>
<circle cx="300.8" cy="230.4" r="1.15" fill="#235480"/>
<circle cx="302.2" cy="229.7" r="1.15" fill="#235480"/>
<circle cx="303.6" cy="228.9" r="1.15" fill="#235480"/>
<circle cx="304.9" cy="228.0" r="1.15" fill="#235480"/>
<circle cx="305.9" cy="226.8" r="1.15" fill="#235480"/>
<circle cx="306.7" cy="225.4" r="1.15" fill="#235480"/>
<circle cx="307.4" cy="224.0" r="1.15" fill="#235480"/>
<circle cx="308.2" cy="222.6" r="1.15" fill="#235480"/>
<circle cx="309.2" cy="221.3" r="1.15" fill="#235480"/>
<circle cx="310.6" cy="220.7" r="1.15" fill="#235480"/>
<circle cx="311.0" cy="220.5" r="1.15" fill="#235480"/>
<polyline points="292.8,238.3 295.4,237.7 298.0,235.7 300.6,233.8 303.2,231.8 305.8,231.2 307.7,229.2 309.0,226.6 309.7,224.7" fill="none" stroke="#235480" stroke-width="0.9" stroke-linecap="round" stroke-linejoin="round"/>
<circle cx="292.8" cy="238.3" r="1.15" fill="#235480"/>
<circle cx="294.4" cy="237.9" r="1.15" fill="#235480"/>
<circle cx="295.8" cy="237.4" r="1.15" fill="#235480"/>
<circle cx="297.1" cy="236.4" r="1.15" fill="#235480"/>
<circle cx="298.4" cy="235.4" r="1.15" fill="#235480"/>
<circle cx="299.7" cy="234.5" r="1.15" fill="#235480"/>
<circle cx="300.9" cy="233.5" r="1.15" fill="#235480"/>
<circle cx="302.2" cy="232.6" r="1.15" fill="#235480"/>
<circle cx="303.5" cy="231.7" r="1.15" fill="#235480"/>
<circle cx="305.1" cy="231.4" r="1.15" fill="#235480"/>
<circle cx="306.4" cy="230.6" r="1.15" fill="#235480"/>
<circle cx="307.5" cy="229.4" r="1.15" fill="#235480"/>
<circle cx="308.3" cy="228.0" r="1.15" fill="#235480"/>
<circle cx="309.0" cy="226.6" r="1.15" fill="#235480"/>
<circle cx="309.6" cy="225.1" r="1.15" fill="#235480"/>
<circle cx="309.7" cy="224.7" r="1.15" fill="#235480"/>
<polyline points="290.5,237.7 291.5,241.6 293.4,241.3" fill="none" stroke="#235480" stroke-width="0.9" stroke-linecap="round" stroke-linejoin="round"/>
<circle cx="290.5" cy="237.7" r="1.15" fill="#235480"/>
<circle cx="290.9" cy="239.2" r="1.15" fill="#235480"/>
<circle cx="291.3" cy="240.8" r="1.15" fill="#235480"/>
<circle cx="292.3" cy="241.5" r="1.15" fill="#235480"/>
<circle cx="293.4" cy="241.3" r="1.15" fill="#235480"/>
<polyline points="293.5,236.0 296.0,235.5 298.5,233.5" fill="none" stroke="#235480" stroke-width="0.9" stroke-linecap="round" stroke-linejoin="round"/>
<circle cx="293.5" cy="236.0" r="1.15" fill="#235480"/>
<circle cx="295.1" cy="235.7" r="1.15" fill="#235480"/>
<circle cx="296.5" cy="235.1" r="1.15" fill="#235480"/>
<circle cx="297.8" cy="234.1" r="1.15" fill="#235480"/>
<circle cx="298.5" cy="233.5" r="1.15" fill="#235480"/>
<circle cx="300.3" cy="239.2" r="1.4" fill="#1c4a7a"/>
<circle cx="304.7" cy="240.9" r="1.4" fill="#1c4a7a"/>
<circle cx="311.6" cy="240.6" r="1.4" fill="#1c4a7a"/>
<circle cx="319.4" cy="238.1" r="1.4" fill="#1c4a7a"/>
<circle cx="327.6" cy="235.1" r="1.4" fill="#1c4a7a"/>
<circle cx="315.1" cy="219.2" r="1.4" fill="#1c4a7a"/>
<circle cx="319.4" cy="216.2" r="1.4" fill="#1c4a7a"/>
<circle cx="325.0" cy="212.1" r="1.4" fill="#1c4a7a"/>
<circle cx="330.5" cy="207.5" r="1.4" fill="#1c4a7a"/>
<circle cx="334.4" cy="204.5" r="1.4" fill="#1c4a7a"/>
<circle cx="330.7" cy="207.6" r="1.4" fill="#1c4a7a"/>
<circle cx="335.3" cy="204.3" r="1.4" fill="#1c4a7a"/>
<circle cx="338.6" cy="203.9" r="1.4" fill="#1c4a7a"/>
<circle cx="340.4" cy="204.7" r="1.4" fill="#1c4a7a"/>
<circle cx="342.1" cy="205.3" r="1.4" fill="#1c4a7a"/>
<circle cx="344.3" cy="204.7" r="1.4" fill="#1c4a7a"/>
<circle cx="346.1" cy="204.3" r="1.4" fill="#1c4a7a"/>
<circle cx="347.6" cy="205.3" r="1.4" fill="#1c4a7a"/>
<circle cx="348.1" cy="208.1" r="1.4" fill="#1c4a7a"/>
<circle cx="349.0" cy="211.9" r="1.4" fill="#1c4a7a"/>
<circle cx="350.7" cy="213.3" r="1.4" fill="#1c4a7a"/>
<circle cx="352.9" cy="214.3" r="1.4" fill="#1c4a7a"/>
<circle cx="354.7" cy="215.0" r="1.4" fill="#1c4a7a"/>
<circle cx="355.7" cy="216.4" r="1.4" fill="#1c4a7a"/>
<circle cx="355.7" cy="218.1" r="1.4" fill="#1c4a7a"/>
<circle cx="354.3" cy="219.0" r="1.4" fill="#1c4a7a"/>
<circle cx="350.4" cy="222.1" r="1.4" fill="#1c4a7a"/>
<circle cx="343.6" cy="227.1" r="1.4" fill="#1c4a7a"/>
<circle cx="336.1" cy="231.4" r="1.4" fill="#1c4a7a"/>
<circle cx="327.9" cy="235.3" r="1.4" fill="#1c4a7a"/>
<circle cx="325.0" cy="212.1" r="1.4" fill="#1c4a7a"/>
<path d="M286.40,197.80 V262.10 H378.00" fill="none" stroke="#555555" stroke-width="0.9"/>
<line x1="286.40" y1="215.30" x2="287.40" y2="215.30" stroke="#555555" stroke-width="0.6"/>
<text x="282.90" y="218.55" font-family="Liberation Sans, sans-serif" font-size="7.9" fill="#2e2e2e" stroke="#2e2e2e" stroke-width="0.1" text-anchor="end">4</text>
<line x1="286.40" y1="238.70" x2="287.40" y2="238.70" stroke="#555555" stroke-width="0.6"/>
<text x="282.90" y="241.95" font-family="Liberation Sans, sans-serif" font-size="7.9" fill="#2e2e2e" stroke="#2e2e2e" stroke-width="0.1" text-anchor="end">2</text>
<line x1="286.40" y1="262.10" x2="287.40" y2="262.10" stroke="#555555" stroke-width="0.6"/>
<text x="282.90" y="265.35" font-family="Liberation Sans, sans-serif" font-size="7.9" fill="#2e2e2e" stroke="#2e2e2e" stroke-width="0.1" text-anchor="end">0</text>
<line x1="286.40" y1="262.10" x2="286.40" y2="261.10" stroke="#555555" stroke-width="0.6"/>
<text x="286.40" y="272.55" font-family="Liberation Sans, sans-serif" font-size="7.9" fill="#2e2e2e" stroke="#2e2e2e" stroke-width="0.1" text-anchor="middle">-2</text>
<line x1="303.00" y1="262.10" x2="303.00" y2="261.10" stroke="#555555" stroke-width="0.6"/>
<text x="303.00" y="272.55" font-family="Liberation Sans, sans-serif" font-size="7.9" fill="#2e2e2e" stroke="#2e2e2e" stroke-width="0.1" text-anchor="middle">0</text>
<line x1="319.60" y1="262.10" x2="319.60" y2="261.10" stroke="#555555" stroke-width="0.6"/>
<text x="319.60" y="272.55" font-family="Liberation Sans, sans-serif" font-size="7.9" fill="#2e2e2e" stroke="#2e2e2e" stroke-width="0.1" text-anchor="middle">2</text>
<line x1="336.20" y1="262.10" x2="336.20" y2="261.10" stroke="#555555" stroke-width="0.6"/>
<text x="336.20" y="272.55" font-family="Liberation Sans, sans-serif" font-size="7.9" fill="#2e2e2e" stroke="#2e2e2e" stroke-width="0.1" text-anchor="middle">4</text>
<line x1="352.80" y1="262.10" x2="352.80" y2="261.10" stroke="#555555" stroke-width="0.6"/>
<text x="352.80" y="272.55" font-family="Liberation Sans, sans-serif" font-size="7.9" fill="#2e2e2e" stroke="#2e2e2e" stroke-width="0.1" text-anchor="middle">6</text>
<line x1="369.40" y1="262.10" x2="369.40" y2="261.10" stroke="#555555" stroke-width="0.6"/>
<text x="369.40" y="272.55" font-family="Liberation Sans, sans-serif" font-size="7.9" fill="#2e2e2e" stroke="#2e2e2e" stroke-width="0.1" text-anchor="middle">8</text>
<g font-family="Liberation Sans, sans-serif" font-size="6.4" fill="#2e62a4" stroke="#2e62a4" stroke-width="0.1" text-anchor="end">
<text x="373.90" y="206.80" textLength="23.5" lengthAdjust="spacingAndGlyphs">+1.96 SD</text>
<text x="373.90" y="236.70" textLength="14.6" lengthAdjust="spacingAndGlyphs">Mean</text>
<text x="373.90" y="254.70" textLength="22" lengthAdjust="spacingAndGlyphs">-1.96 SD</text>
</g>
<path d="M336.30,193.85L336.30,198.55M334.26,195.02L338.34,197.38M338.34,195.02L334.26,197.38" stroke="#2a2a2a" stroke-width="0.85" stroke-linecap="round" fill="none"/>
<circle cx="338.34" cy="197.38" r="0.6" fill="#2a2a2a"/>
<circle cx="336.30" cy="198.55" r="0.6" fill="#2a2a2a"/>
<circle cx="334.26" cy="197.38" r="0.6" fill="#2a2a2a"/>
<circle cx="334.26" cy="195.02" r="0.6" fill="#2a2a2a"/>
<circle cx="336.30" cy="193.85" r="0.6" fill="#2a2a2a"/>
<circle cx="338.34" cy="195.02" r="0.6" fill="#2a2a2a"/>
<circle cx="336.30" cy="196.20" r="0.9" fill="#2a2a2a"/>
<rect x="44.50" y="301.30" width="91.40" height="34.60" fill="#f6e9cb"/>
<line x1="44.50" y1="301.30" x2="135.90" y2="301.30" stroke="#7f94b4" stroke-width="0.85" stroke-dasharray="0.9 1.45"/>
<line x1="44.50" y1="335.90" x2="135.90" y2="335.90" stroke="#7f94b4" stroke-width="0.85" stroke-dasharray="0.9 1.45"/>
<line x1="44.50" y1="316.50" x2="135.90" y2="316.50" stroke="#9c8466" stroke-width="0.8"/>
<line x1="44.50" y1="318.70" x2="135.90" y2="318.70" stroke="#4a7aab" stroke-width="1.3"/>
<polyline points="47.2,318.4 48.5,317.1 50.4,316.8 52.4,317.7 53.7,320.3 55.0,321.6 56.3,322.3 56.9,320.3 57.6,318.4 59.5,316.4 61.5,314.5 63.4,312.9 65.4,313.2 66.7,315.1 68.0,317.1 69.3,316.4 71.2,313.8 72.5,311.9 73.8,309.3 75.1,307.3 76.4,306.4" fill="none" stroke="#235480" stroke-width="0.9" stroke-linecap="round" stroke-linejoin="round"/>
<circle cx="47.2" cy="318.4" r="1.35" fill="#235480"/>
<circle cx="48.3" cy="317.3" r="1.35" fill="#235480"/>
<circle cx="49.8" cy="316.9" r="1.35" fill="#235480"/>
<circle cx="51.3" cy="317.2" r="1.35" fill="#235480"/>
<circle cx="52.6" cy="318.1" r="1.35" fill="#235480"/>
<circle cx="53.3" cy="319.5" r="1.35" fill="#235480"/>
<circle cx="54.2" cy="320.8" r="1.35" fill="#235480"/>
<circle cx="55.4" cy="321.8" r="1.35" fill="#235480"/>
<circle cx="56.5" cy="321.7" r="1.35" fill="#235480"/>
<circle cx="56.9" cy="320.2" r="1.35" fill="#235480"/>
<circle cx="57.5" cy="318.7" r="1.35" fill="#235480"/>
<circle cx="58.5" cy="317.5" r="1.35" fill="#235480"/>
<circle cx="59.6" cy="316.3" r="1.35" fill="#235480"/>
<circle cx="60.8" cy="315.2" r="1.35" fill="#235480"/>
<circle cx="62.0" cy="314.1" r="1.35" fill="#235480"/>
<circle cx="63.2" cy="313.1" r="1.35" fill="#235480"/>
<circle cx="64.7" cy="313.1" r="1.35" fill="#235480"/>
<circle cx="65.9" cy="313.9" r="1.35" fill="#235480"/>
<circle cx="66.8" cy="315.3" r="1.35" fill="#235480"/>
<circle cx="67.7" cy="316.6" r="1.35" fill="#235480"/>
<circle cx="68.9" cy="316.6" r="1.35" fill="#235480"/>
<circle cx="70.0" cy="315.5" r="1.35" fill="#235480"/>
<circle cx="70.9" cy="314.2" r="1.35" fill="#235480"/>
<circle cx="71.8" cy="312.9" r="1.35" fill="#235480"/>
<circle cx="72.7" cy="311.5" r="1.35" fill="#235480"/>
<circle cx="73.4" cy="310.1" r="1.35" fill="#235480"/>
<circle cx="74.2" cy="308.7" r="1.35" fill="#235480"/>
<circle cx="75.0" cy="307.4" r="1.35" fill="#235480"/>
<circle cx="76.3" cy="306.4" r="1.35" fill="#235480"/>
<circle cx="76.4" cy="306.4" r="1.35" fill="#235480"/>
<polyline points="48.4,320.0 48.1,322.5 47.7,325.6 48.4,327.8" fill="none" stroke="#235480" stroke-width="0.9" stroke-linecap="round" stroke-linejoin="round"/>
<circle cx="48.4" cy="320.0" r="1.15" fill="#235480"/>
<circle cx="48.2" cy="321.6" r="1.15" fill="#235480"/>
<circle cx="48.0" cy="323.2" r="1.15" fill="#235480"/>
<circle cx="47.8" cy="324.8" r="1.15" fill="#235480"/>
<circle cx="47.9" cy="326.3" r="1.15" fill="#235480"/>
<circle cx="48.4" cy="327.8" r="1.15" fill="#235480"/>
<polyline points="50.9,324.4 52.1,326.2 54.0,328.1" fill="none" stroke="#235480" stroke-width="0.9" stroke-linecap="round" stroke-linejoin="round"/>
<circle cx="50.9" cy="324.4" r="1.15" fill="#235480"/>
<circle cx="51.8" cy="325.7" r="1.15" fill="#235480"/>
<circle cx="52.8" cy="326.9" r="1.15" fill="#235480"/>
<circle cx="54.0" cy="328.1" r="1.15" fill="#235480"/>
<circle cx="54.0" cy="328.1" r="1.15" fill="#235480"/>
<circle cx="77.1" cy="309.3" r="1.4" fill="#1c4a7a"/>
<circle cx="78.4" cy="311.9" r="1.4" fill="#1c4a7a"/>
<circle cx="79.7" cy="314.5" r="1.4" fill="#1c4a7a"/>
<circle cx="81.0" cy="311.2" r="1.4" fill="#1c4a7a"/>
<circle cx="82.9" cy="307.3" r="1.4" fill="#1c4a7a"/>
<circle cx="84.9" cy="306.4" r="1.4" fill="#1c4a7a"/>
<circle cx="87.5" cy="305.4" r="1.4" fill="#1c4a7a"/>
<circle cx="90.1" cy="304.7" r="1.4" fill="#1c4a7a"/>
<circle cx="92.0" cy="304.1" r="1.4" fill="#1c4a7a"/>
<circle cx="56.5" cy="329.7" r="1.4" fill="#1c4a7a"/>
<circle cx="59.0" cy="330.9" r="1.4" fill="#1c4a7a"/>
<circle cx="59.6" cy="332.5" r="1.4" fill="#1c4a7a"/>
<circle cx="61.8" cy="331.8" r="1.4" fill="#1c4a7a"/>
<circle cx="65.1" cy="334.2" r="1.4" fill="#1c4a7a"/>
<circle cx="67.8" cy="334.2" r="1.4" fill="#1c4a7a"/>
<circle cx="71.3" cy="334.4" r="1.4" fill="#1c4a7a"/>
<circle cx="74.8" cy="334.4" r="1.4" fill="#1c4a7a"/>
<circle cx="78.3" cy="333.4" r="1.4" fill="#1c4a7a"/>
<circle cx="82.1" cy="332.5" r="1.4" fill="#1c4a7a"/>
<circle cx="85.6" cy="331.3" r="1.4" fill="#1c4a7a"/>
<circle cx="85.0" cy="305.7" r="1.4" fill="#1c4a7a"/>
<circle cx="87.1" cy="305.4" r="1.4" fill="#1c4a7a"/>
<circle cx="89.3" cy="305.0" r="1.4" fill="#1c4a7a"/>
<circle cx="91.4" cy="304.6" r="1.4" fill="#1c4a7a"/>
<circle cx="92.9" cy="304.0" r="1.4" fill="#1c4a7a"/>
<circle cx="95.0" cy="302.1" r="1.4" fill="#1c4a7a"/>
<circle cx="97.1" cy="301.7" r="1.4" fill="#1c4a7a"/>
<circle cx="99.3" cy="302.1" r="1.4" fill="#1c4a7a"/>
<circle cx="101.4" cy="302.9" r="1.4" fill="#1c4a7a"/>
<circle cx="103.6" cy="304.6" r="1.4" fill="#1c4a7a"/>
<circle cx="105.7" cy="303.6" r="1.4" fill="#1c4a7a"/>
<circle cx="107.9" cy="302.9" r="1.4" fill="#1c4a7a"/>
<circle cx="110.0" cy="302.1" r="1.4" fill="#1c4a7a"/>
<circle cx="111.4" cy="297.9" r="1.4" fill="#1c4a7a"/>
<circle cx="110.7" cy="297.1" r="1.4" fill="#1c4a7a"/>
<circle cx="112.1" cy="298.6" r="1.4" fill="#1c4a7a"/>
<circle cx="114.3" cy="302.9" r="1.4" fill="#1c4a7a"/>
<circle cx="114.7" cy="309.3" r="1.4" fill="#1c4a7a"/>
<circle cx="114.7" cy="316.4" r="1.4" fill="#1c4a7a"/>
<circle cx="114.3" cy="318.3" r="1.4" fill="#1c4a7a"/>
<circle cx="112.9" cy="321.4" r="1.4" fill="#1c4a7a"/>
<circle cx="112.1" cy="323.6" r="1.4" fill="#1c4a7a"/>
<circle cx="110.7" cy="326.4" r="1.4" fill="#1c4a7a"/>
<circle cx="109.3" cy="330.3" r="1.4" fill="#1c4a7a"/>
<circle cx="107.1" cy="329.3" r="1.4" fill="#1c4a7a"/>
<circle cx="105.0" cy="328.6" r="1.4" fill="#1c4a7a"/>
<circle cx="102.1" cy="327.9" r="1.4" fill="#1c4a7a"/>
<circle cx="99.3" cy="326.9" r="1.4" fill="#1c4a7a"/>
<circle cx="96.4" cy="327.4" r="1.4" fill="#1c4a7a"/>
<circle cx="93.6" cy="327.1" r="1.4" fill="#1c4a7a"/>
<circle cx="89.3" cy="329.6" r="1.4" fill="#1c4a7a"/>
<path d="M44.50,284.20 V348.50 H135.90" fill="none" stroke="#555555" stroke-width="0.9"/>
<line x1="44.50" y1="284.90" x2="45.50" y2="284.90" stroke="#555555" stroke-width="0.6"/>
<text x="41.00" y="288.15" font-family="Liberation Sans, sans-serif" font-size="7.9" fill="#2e2e2e" stroke="#2e2e2e" stroke-width="0.1" text-anchor="end">2</text>
<line x1="44.50" y1="316.80" x2="45.50" y2="316.80" stroke="#555555" stroke-width="0.6"/>
<text x="41.00" y="320.05" font-family="Liberation Sans, sans-serif" font-size="7.9" fill="#2e2e2e" stroke="#2e2e2e" stroke-width="0.1" text-anchor="end">0</text>
<line x1="44.50" y1="348.70" x2="45.50" y2="348.70" stroke="#555555" stroke-width="0.6"/>
<text x="41.00" y="351.95" font-family="Liberation Sans, sans-serif" font-size="7.9" fill="#2e2e2e" stroke="#2e2e2e" stroke-width="0.1" text-anchor="end">-2</text>
<line x1="44.50" y1="348.50" x2="44.50" y2="347.50" stroke="#555555" stroke-width="0.6"/>
<text x="44.50" y="358.95" font-family="Liberation Sans, sans-serif" font-size="7.9" fill="#2e2e2e" stroke="#2e2e2e" stroke-width="0.1" text-anchor="middle">0</text>
<line x1="89.90" y1="348.50" x2="89.90" y2="347.50" stroke="#555555" stroke-width="0.6"/>
<text x="89.90" y="358.95" font-family="Liberation Sans, sans-serif" font-size="7.9" fill="#2e2e2e" stroke="#2e2e2e" stroke-width="0.1" text-anchor="middle">50</text>
<line x1="135.30" y1="348.50" x2="135.30" y2="347.50" stroke="#555555" stroke-width="0.6"/>
<text x="135.30" y="358.95" font-family="Liberation Sans, sans-serif" font-size="7.9" fill="#2e2e2e" stroke="#2e2e2e" stroke-width="0.1" text-anchor="middle">100</text>
<g font-family="Liberation Sans, sans-serif" font-size="6.4" fill="#2e62a4" stroke="#2e62a4" stroke-width="0.1" text-anchor="end">
<text x="131.80" y="298.70" textLength="23.5" lengthAdjust="spacingAndGlyphs">+1.96 SD</text>
<text x="131.80" y="327.00" textLength="14.6" lengthAdjust="spacingAndGlyphs">Mean</text>
<text x="131.80" y="343.80" textLength="22" lengthAdjust="spacingAndGlyphs">-1.96 SD</text>
</g>
<rect x="165.60" y="298.20" width="91.20" height="41.20" fill="#f6e9cb"/>
<line x1="165.60" y1="298.20" x2="256.80" y2="298.20" stroke="#7f94b4" stroke-width="0.85" stroke-dasharray="0.9 1.45"/>
<line x1="165.60" y1="339.40" x2="256.80" y2="339.40" stroke="#7f94b4" stroke-width="0.85" stroke-dasharray="0.9 1.45"/>
<line x1="165.60" y1="308.20" x2="256.80" y2="308.20" stroke="#9c8466" stroke-width="0.8"/>
<line x1="165.60" y1="318.50" x2="256.80" y2="318.50" stroke="#4a7aab" stroke-width="1.3"/>
<polyline points="176.2,312.0 175.5,310.6 177.0,308.2 179.4,306.7 182.5,305.9 185.6,306.2 187.9,307.2 190.3,306.2 193.4,305.6 196.5,305.1 199.6,304.8 201.9,305.1 204.3,306.7 205.0,306.2 207.3,308.6 209.7,310.9 211.2,310.1 213.6,309.7 212.8,312.5 215.1,314.8 217.5,316.8 219.0,319.1 217.5,321.4 215.5,323.4 214.0,324.9 214.4,326.9 216.7,328.4 217.9,329.6 217.5,332.0 218.2,334.3 220.6,335.5 223.3,335.5 225.3,333.9 224.9,331.2 222.9,330.0 220.6,329.6 219.8,332.0" fill="none" stroke="#235480" stroke-width="0.9" stroke-linecap="round" stroke-linejoin="round"/>
<circle cx="176.2" cy="312.0" r="1.4" fill="#235480"/>
<circle cx="175.5" cy="310.6" r="1.4" fill="#235480"/>
<circle cx="176.4" cy="309.2" r="1.4" fill="#235480"/>
<circle cx="177.3" cy="308.0" r="1.4" fill="#235480"/>
<circle cx="178.7" cy="307.1" r="1.4" fill="#235480"/>
<circle cx="180.1" cy="306.5" r="1.4" fill="#235480"/>
<circle cx="181.7" cy="306.1" r="1.4" fill="#235480"/>
<circle cx="183.3" cy="306.0" r="1.4" fill="#235480"/>
<circle cx="184.9" cy="306.1" r="1.4" fill="#235480"/>
<circle cx="186.4" cy="306.5" r="1.4" fill="#235480"/>
<circle cx="187.9" cy="307.2" r="1.4" fill="#235480"/>
<circle cx="189.3" cy="306.6" r="1.4" fill="#235480"/>
<circle cx="190.8" cy="306.1" r="1.4" fill="#235480"/>
<circle cx="192.4" cy="305.8" r="1.4" fill="#235480"/>
<circle cx="194.0" cy="305.5" r="1.4" fill="#235480"/>
<circle cx="195.6" cy="305.3" r="1.4" fill="#235480"/>
<circle cx="197.1" cy="305.0" r="1.4" fill="#235480"/>
<circle cx="198.7" cy="304.9" r="1.4" fill="#235480"/>
<circle cx="200.3" cy="304.9" r="1.4" fill="#235480"/>
<circle cx="201.9" cy="305.1" r="1.4" fill="#235480"/>
<circle cx="203.2" cy="306.0" r="1.4" fill="#235480"/>
<circle cx="204.6" cy="306.5" r="1.4" fill="#235480"/>
<circle cx="205.7" cy="307.0" r="1.4" fill="#235480"/>
<circle cx="206.9" cy="308.1" r="1.4" fill="#235480"/>
<circle cx="208.0" cy="309.3" r="1.4" fill="#235480"/>
<circle cx="209.1" cy="310.4" r="1.4" fill="#235480"/>
<circle cx="210.4" cy="310.5" r="1.4" fill="#235480"/>
<circle cx="211.9" cy="310.0" r="1.4" fill="#235480"/>
<circle cx="213.5" cy="309.7" r="1.4" fill="#235480"/>
<circle cx="213.2" cy="311.1" r="1.4" fill="#235480"/>
<circle cx="212.9" cy="312.6" r="1.4" fill="#235480"/>
<circle cx="214.1" cy="313.8" r="1.4" fill="#235480"/>
<circle cx="215.2" cy="314.9" r="1.4" fill="#235480"/>
<circle cx="216.4" cy="315.9" r="1.4" fill="#235480"/>
<circle cx="217.6" cy="317.0" r="1.4" fill="#235480"/>
<circle cx="218.5" cy="318.3" r="1.4" fill="#235480"/>
<circle cx="218.6" cy="319.7" r="1.4" fill="#235480"/>
<circle cx="217.8" cy="321.0" r="1.4" fill="#235480"/>
<circle cx="216.7" cy="322.2" r="1.4" fill="#235480"/>
<circle cx="215.6" cy="323.3" r="1.4" fill="#235480"/>
<circle cx="214.5" cy="324.4" r="1.4" fill="#235480"/>
<circle cx="214.2" cy="325.8" r="1.4" fill="#235480"/>
<circle cx="214.8" cy="327.2" r="1.4" fill="#235480"/>
<circle cx="216.2" cy="328.1" r="1.4" fill="#235480"/>
<circle cx="217.4" cy="329.1" r="1.4" fill="#235480"/>
<circle cx="217.8" cy="330.5" r="1.4" fill="#235480"/>
<circle cx="217.5" cy="332.0" r="1.4" fill="#235480"/>
<circle cx="218.0" cy="333.6" r="1.4" fill="#235480"/>
<circle cx="219.0" cy="334.7" r="1.4" fill="#235480"/>
<circle cx="220.4" cy="335.4" r="1.4" fill="#235480"/>
<circle cx="222.0" cy="335.5" r="1.4" fill="#235480"/>
<circle cx="223.5" cy="335.3" r="1.4" fill="#235480"/>
<circle cx="224.8" cy="334.3" r="1.4" fill="#235480"/>
<circle cx="225.2" cy="333.0" r="1.4" fill="#235480"/>
<circle cx="224.9" cy="331.4" r="1.4" fill="#235480"/>
<circle cx="223.7" cy="330.5" r="1.4" fill="#235480"/>
<circle cx="222.3" cy="329.9" r="1.4" fill="#235480"/>
<circle cx="220.7" cy="329.6" r="1.4" fill="#235480"/>
<circle cx="220.1" cy="331.0" r="1.4" fill="#235480"/>
<circle cx="219.8" cy="332.0" r="1.4" fill="#235480"/>
<circle cx="177.3" cy="313.9" r="1.4" fill="#1c4a7a"/>
<circle cx="179.4" cy="315.3" r="1.4" fill="#1c4a7a"/>
<circle cx="182.5" cy="317.6" r="1.4" fill="#1c4a7a"/>
<circle cx="187.1" cy="319.6" r="1.4" fill="#1c4a7a"/>
<circle cx="192.6" cy="321.2" r="1.4" fill="#1c4a7a"/>
<circle cx="198.8" cy="322.7" r="1.4" fill="#1c4a7a"/>
<circle cx="205.0" cy="324.2" r="1.4" fill="#1c4a7a"/>
<circle cx="210.5" cy="325.7" r="1.4" fill="#1c4a7a"/>
<path d="M165.60,284.20 V348.50 H256.80" fill="none" stroke="#555555" stroke-width="0.9"/>
<line x1="165.60" y1="292.10" x2="166.60" y2="292.10" stroke="#555555" stroke-width="0.6"/>
<text x="162.10" y="295.35" font-family="Liberation Sans, sans-serif" font-size="7.9" fill="#2e2e2e" stroke="#2e2e2e" stroke-width="0.1" text-anchor="end">1</text>
<line x1="165.60" y1="308.20" x2="166.60" y2="308.20" stroke="#555555" stroke-width="0.6"/>
<text x="162.10" y="311.45" font-family="Liberation Sans, sans-serif" font-size="7.9" fill="#2e2e2e" stroke="#2e2e2e" stroke-width="0.1" text-anchor="end">0</text>
<line x1="165.60" y1="324.30" x2="166.60" y2="324.30" stroke="#555555" stroke-width="0.6"/>
<text x="162.10" y="327.55" font-family="Liberation Sans, sans-serif" font-size="7.9" fill="#2e2e2e" stroke="#2e2e2e" stroke-width="0.1" text-anchor="end">-1</text>
<line x1="165.60" y1="340.40" x2="166.60" y2="340.40" stroke="#555555" stroke-width="0.6"/>
<text x="162.10" y="343.65" font-family="Liberation Sans, sans-serif" font-size="7.9" fill="#2e2e2e" stroke="#2e2e2e" stroke-width="0.1" text-anchor="end">-2</text>
<line x1="180.20" y1="348.50" x2="180.20" y2="347.50" stroke="#555555" stroke-width="0.6"/>
<text x="180.20" y="358.95" font-family="Liberation Sans, sans-serif" font-size="7.9" fill="#2e2e2e" stroke="#2e2e2e" stroke-width="0.1" text-anchor="middle">-1</text>
<line x1="210.70" y1="348.50" x2="210.70" y2="347.50" stroke="#555555" stroke-width="0.6"/>
<text x="210.70" y="358.95" font-family="Liberation Sans, sans-serif" font-size="7.9" fill="#2e2e2e" stroke="#2e2e2e" stroke-width="0.1" text-anchor="middle">0</text>
<line x1="241.20" y1="348.50" x2="241.20" y2="347.50" stroke="#555555" stroke-width="0.6"/>
<text x="241.20" y="358.95" font-family="Liberation Sans, sans-serif" font-size="7.9" fill="#2e2e2e" stroke="#2e2e2e" stroke-width="0.1" text-anchor="middle">1</text>
<g font-family="Liberation Sans, sans-serif" font-size="6.4" fill="#2e62a4" stroke="#2e62a4" stroke-width="0.1" text-anchor="end">
<text x="252.70" y="295.60" textLength="23.5" lengthAdjust="spacingAndGlyphs">+1.96 SD</text>
<text x="252.70" y="326.80" textLength="14.6" lengthAdjust="spacingAndGlyphs">Mean</text>
<text x="252.70" y="347.30" textLength="22" lengthAdjust="spacingAndGlyphs">-1.96 SD</text>
</g>
<path d="M211.30,282.85L211.30,287.55M209.26,284.02L213.34,286.38M213.34,284.02L209.26,286.38" stroke="#2a2a2a" stroke-width="0.85" stroke-linecap="round" fill="none"/>
<circle cx="213.34" cy="286.38" r="0.6" fill="#2a2a2a"/>
<circle cx="211.30" cy="287.55" r="0.6" fill="#2a2a2a"/>
<circle cx="209.26" cy="286.38" r="0.6" fill="#2a2a2a"/>
<circle cx="209.26" cy="284.02" r="0.6" fill="#2a2a2a"/>
<circle cx="211.30" cy="282.85" r="0.6" fill="#2a2a2a"/>
<circle cx="213.34" cy="284.02" r="0.6" fill="#2a2a2a"/>
<circle cx="211.30" cy="285.20" r="0.9" fill="#2a2a2a"/>
<rect x="286.40" y="298.20" width="91.60" height="35.10" fill="#f6e9cb"/>
<line x1="286.40" y1="298.20" x2="378.00" y2="298.20" stroke="#7f94b4" stroke-width="0.85" stroke-dasharray="0.9 1.45"/>
<line x1="286.40" y1="333.30" x2="378.00" y2="333.30" stroke="#7f94b4" stroke-width="0.85" stroke-dasharray="0.9 1.45"/>
<line x1="286.40" y1="324.60" x2="378.00" y2="324.60" stroke="#9c8466" stroke-width="0.8"/>
<line x1="286.40" y1="315.60" x2="378.00" y2="315.60" stroke="#4a7aab" stroke-width="1.3"/>
<polyline points="307.5,313.1 308.9,309.5 310.7,310.9 312.2,309.1 313.3,309.5 314.7,311.6 315.8,313.5 317.3,313.1 319.1,312.0 320.5,311.3 322.4,311.6 323.8,314.2" fill="none" stroke="#235480" stroke-width="0.9" stroke-linecap="round" stroke-linejoin="round"/>
<circle cx="307.5" cy="313.1" r="1.15" fill="#235480"/>
<circle cx="308.1" cy="311.6" r="1.15" fill="#235480"/>
<circle cx="308.7" cy="310.1" r="1.15" fill="#235480"/>
<circle cx="309.6" cy="310.1" r="1.15" fill="#235480"/>
<circle cx="310.9" cy="310.7" r="1.15" fill="#235480"/>
<circle cx="311.9" cy="309.5" r="1.15" fill="#235480"/>
<circle cx="313.2" cy="309.5" r="1.15" fill="#235480"/>
<circle cx="314.2" cy="310.8" r="1.15" fill="#235480"/>
<circle cx="315.0" cy="312.1" r="1.15" fill="#235480"/>
<circle cx="315.8" cy="313.5" r="1.15" fill="#235480"/>
<circle cx="317.4" cy="313.1" r="1.15" fill="#235480"/>
<circle cx="318.7" cy="312.2" r="1.15" fill="#235480"/>
<circle cx="320.1" cy="311.5" r="1.15" fill="#235480"/>
<circle cx="321.7" cy="311.5" r="1.15" fill="#235480"/>
<circle cx="322.8" cy="312.4" r="1.15" fill="#235480"/>
<circle cx="323.6" cy="313.8" r="1.15" fill="#235480"/>
<circle cx="323.8" cy="314.2" r="1.15" fill="#235480"/>
<polyline points="307.1,319.3 308.9,319.3 308.9,317.5 311.5,316.4 313.6,317.5" fill="none" stroke="#235480" stroke-width="0.9" stroke-linecap="round" stroke-linejoin="round"/>
<circle cx="307.1" cy="319.3" r="1.15" fill="#235480"/>
<circle cx="308.7" cy="319.3" r="1.15" fill="#235480"/>
<circle cx="308.9" cy="317.9" r="1.15" fill="#235480"/>
<circle cx="310.0" cy="317.0" r="1.15" fill="#235480"/>
<circle cx="311.5" cy="316.4" r="1.15" fill="#235480"/>
<circle cx="312.9" cy="317.1" r="1.15" fill="#235480"/>
<circle cx="313.6" cy="317.5" r="1.15" fill="#235480"/>
<polyline points="337.1,323.3 338.3,324.9 339.1,326.8 339.9,328.4 341.0,329.9 339.5,331.9 341.8,334.2 343.4,335.4 344.9,336.2 345.7,335.8 344.2,334.6 342.6,333.8" fill="none" stroke="#235480" stroke-width="0.9" stroke-linecap="round" stroke-linejoin="round"/>
<circle cx="337.1" cy="323.3" r="1.15" fill="#235480"/>
<circle cx="338.1" cy="324.6" r="1.15" fill="#235480"/>
<circle cx="338.8" cy="326.0" r="1.15" fill="#235480"/>
<circle cx="339.4" cy="327.5" r="1.15" fill="#235480"/>
<circle cx="340.2" cy="328.8" r="1.15" fill="#235480"/>
<circle cx="340.8" cy="330.1" r="1.15" fill="#235480"/>
<circle cx="339.9" cy="331.4" r="1.15" fill="#235480"/>
<circle cx="340.2" cy="332.6" r="1.15" fill="#235480"/>
<circle cx="341.3" cy="333.7" r="1.15" fill="#235480"/>
<circle cx="342.5" cy="334.8" r="1.15" fill="#235480"/>
<circle cx="343.9" cy="335.7" r="1.15" fill="#235480"/>
<circle cx="345.3" cy="336.0" r="1.15" fill="#235480"/>
<circle cx="344.8" cy="335.1" r="1.15" fill="#235480"/>
<circle cx="343.5" cy="334.2" r="1.15" fill="#235480"/>
<circle cx="342.6" cy="333.8" r="1.15" fill="#235480"/>
<polygon points="303.1,304.8 305.5,305.8 306.7,307.5 307.2,310.5 307.5,313.1 307.0,316.0 306.5,318.5 304.5,317.2 302.2,315.0 301.3,312.5 301.2,309.5 301.8,306.5" fill="#33638c" stroke="#33638c" stroke-width="1.2" stroke-linejoin="round"/>
<polygon points="342.0,333.6 344.5,334.2 346.0,335.6 345.0,336.6 342.8,335.6" fill="#33638c" stroke="#33638c" stroke-width="1.2" stroke-linejoin="round"/>
<circle cx="322.3" cy="312.0" r="1.4" fill="#1c4a7a"/>
<circle cx="324.3" cy="314.7" r="1.4" fill="#1c4a7a"/>
<circle cx="326.2" cy="319.4" r="1.4" fill="#1c4a7a"/>
<circle cx="328.2" cy="322.1" r="1.4" fill="#1c4a7a"/>
<circle cx="329.7" cy="323.3" r="1.4" fill="#1c4a7a"/>
<circle cx="331.3" cy="323.7" r="1.4" fill="#1c4a7a"/>
<circle cx="332.9" cy="322.5" r="1.4" fill="#1c4a7a"/>
<circle cx="334.4" cy="321.8" r="1.4" fill="#1c4a7a"/>
<circle cx="336.0" cy="322.1" r="1.4" fill="#1c4a7a"/>
<circle cx="325.8" cy="329.2" r="1.4" fill="#1c4a7a"/>
<circle cx="320.8" cy="333.4" r="1.4" fill="#1c4a7a"/>
<circle cx="315.7" cy="323.8" r="1.4" fill="#1c4a7a"/>
<circle cx="317.6" cy="331.2" r="1.4" fill="#1c4a7a"/>
<circle cx="320.7" cy="333.6" r="1.4" fill="#1c4a7a"/>
<circle cx="325.9" cy="329.3" r="1.4" fill="#1c4a7a"/>
<path d="M286.40,284.20 V348.50 H378.00" fill="none" stroke="#555555" stroke-width="0.9"/>
<line x1="286.40" y1="292.30" x2="287.40" y2="292.30" stroke="#555555" stroke-width="0.6"/>
<text x="282.90" y="295.55" font-family="Liberation Sans, sans-serif" font-size="7.9" fill="#2e2e2e" stroke="#2e2e2e" stroke-width="0.1" text-anchor="end">2</text>
<line x1="286.40" y1="308.50" x2="287.40" y2="308.50" stroke="#555555" stroke-width="0.6"/>
<text x="282.90" y="311.75" font-family="Liberation Sans, sans-serif" font-size="7.9" fill="#2e2e2e" stroke="#2e2e2e" stroke-width="0.1" text-anchor="end">1</text>
<line x1="286.40" y1="324.60" x2="287.40" y2="324.60" stroke="#555555" stroke-width="0.6"/>
<text x="282.90" y="327.85" font-family="Liberation Sans, sans-serif" font-size="7.9" fill="#2e2e2e" stroke="#2e2e2e" stroke-width="0.1" text-anchor="end">0</text>
<line x1="286.40" y1="340.90" x2="287.40" y2="340.90" stroke="#555555" stroke-width="0.6"/>
<text x="282.90" y="344.15" font-family="Liberation Sans, sans-serif" font-size="7.9" fill="#2e2e2e" stroke="#2e2e2e" stroke-width="0.1" text-anchor="end">-1</text>
<line x1="293.10" y1="348.50" x2="293.10" y2="347.50" stroke="#555555" stroke-width="0.6"/>
<text x="293.10" y="358.95" font-family="Liberation Sans, sans-serif" font-size="7.9" fill="#2e2e2e" stroke="#2e2e2e" stroke-width="0.1" text-anchor="middle">-5</text>
<line x1="328.50" y1="348.50" x2="328.50" y2="347.50" stroke="#555555" stroke-width="0.6"/>
<text x="328.50" y="358.95" font-family="Liberation Sans, sans-serif" font-size="7.9" fill="#2e2e2e" stroke="#2e2e2e" stroke-width="0.1" text-anchor="middle">0</text>
<line x1="363.50" y1="348.50" x2="363.50" y2="347.50" stroke="#555555" stroke-width="0.6"/>
<text x="363.50" y="358.95" font-family="Liberation Sans, sans-serif" font-size="7.9" fill="#2e2e2e" stroke="#2e2e2e" stroke-width="0.1" text-anchor="middle">5</text>
<g font-family="Liberation Sans, sans-serif" font-size="6.4" fill="#2e62a4" stroke="#2e62a4" stroke-width="0.1" text-anchor="end">
<text x="373.90" y="295.60" textLength="23.5" lengthAdjust="spacingAndGlyphs">+1.96 SD</text>
<text x="373.90" y="312.60" textLength="14.6" lengthAdjust="spacingAndGlyphs">Mean</text>
<text x="373.90" y="340.40" textLength="22" lengthAdjust="spacingAndGlyphs">-1.96 SD</text>
</g>
<path d="M337.20,282.85L337.20,287.55M335.16,284.02L339.24,286.38M339.24,284.02L335.16,286.38" stroke="#2a2a2a" stroke-width="0.85" stroke-linecap="round" fill="none"/>
<circle cx="339.24" cy="286.38" r="0.6" fill="#2a2a2a"/>
<circle cx="337.20" cy="287.55" r="0.6" fill="#2a2a2a"/>
<circle cx="335.16" cy="286.38" r="0.6" fill="#2a2a2a"/>
<circle cx="335.16" cy="284.02" r="0.6" fill="#2a2a2a"/>
<circle cx="337.20" cy="282.85" r="0.6" fill="#2a2a2a"/>
<circle cx="339.24" cy="284.02" r="0.6" fill="#2a2a2a"/>
<circle cx="337.20" cy="285.20" r="0.9" fill="#2a2a2a"/>
<rect x="44.50" y="385.30" width="91.40" height="38.00" fill="#f6e9cb"/>
<line x1="44.50" y1="385.30" x2="135.90" y2="385.30" stroke="#7f94b4" stroke-width="0.85" stroke-dasharray="0.9 1.45"/>
<line x1="44.50" y1="423.30" x2="135.90" y2="423.30" stroke="#7f94b4" stroke-width="0.85" stroke-dasharray="0.9 1.45"/>
<line x1="44.50" y1="395.20" x2="135.90" y2="395.20" stroke="#9c8466" stroke-width="0.8"/>
<line x1="44.50" y1="404.40" x2="135.90" y2="404.40" stroke="#4a7aab" stroke-width="1.3"/>
<polyline points="50.0,399.4 49.3,402.5 48.7,405.4" fill="none" stroke="#235480" stroke-width="0.9" stroke-linecap="round" stroke-linejoin="round"/>
<circle cx="50.0" cy="399.4" r="1.15" fill="#235480"/>
<circle cx="49.6" cy="401.0" r="1.15" fill="#235480"/>
<circle cx="49.3" cy="402.5" r="1.15" fill="#235480"/>
<circle cx="49.0" cy="404.1" r="1.15" fill="#235480"/>
<circle cx="48.7" cy="405.4" r="1.15" fill="#235480"/>
<polyline points="54.5,399.7 54.7,403.0 55.0,405.9" fill="none" stroke="#235480" stroke-width="0.9" stroke-linecap="round" stroke-linejoin="round"/>
<circle cx="54.5" cy="399.7" r="1.15" fill="#235480"/>
<circle cx="54.6" cy="401.3" r="1.15" fill="#235480"/>
<circle cx="54.7" cy="402.9" r="1.15" fill="#235480"/>
<circle cx="54.9" cy="404.5" r="1.15" fill="#235480"/>
<circle cx="55.0" cy="405.9" r="1.15" fill="#235480"/>
<polyline points="55.0,406.0 56.0,409.0 57.5,411.6 59.6,412.9 61.1,412.1 62.4,410.6" fill="none" stroke="#235480" stroke-width="0.9" stroke-linecap="round" stroke-linejoin="round"/>
<circle cx="55.0" cy="406.0" r="1.15" fill="#235480"/>
<circle cx="55.5" cy="407.5" r="1.15" fill="#235480"/>
<circle cx="56.0" cy="409.0" r="1.15" fill="#235480"/>
<circle cx="56.8" cy="410.4" r="1.15" fill="#235480"/>
<circle cx="57.7" cy="411.7" r="1.15" fill="#235480"/>
<circle cx="59.1" cy="412.6" r="1.15" fill="#235480"/>
<circle cx="60.5" cy="412.4" r="1.15" fill="#235480"/>
<circle cx="61.7" cy="411.4" r="1.15" fill="#235480"/>
<circle cx="62.4" cy="410.6" r="1.15" fill="#235480"/>
<polygon points="52.3,407.5 54.0,408.0 55.8,409.5 57.0,411.6 55.2,413.8 53.4,415.2 50.4,414.8 48.9,413.0 49.2,411.6 50.8,409.8" fill="#33638c" stroke="#33638c" stroke-width="1.2" stroke-linejoin="round"/>
<circle cx="48.5" cy="418.6" r="1.4" fill="#1c4a7a"/>
<circle cx="48.7" cy="408.8" r="1.4" fill="#1c4a7a"/>
<circle cx="51.5" cy="407.5" r="1.4" fill="#1c4a7a"/>
<circle cx="56.3" cy="393.6" r="1.4" fill="#1c4a7a"/>
<circle cx="58.2" cy="393.1" r="1.4" fill="#1c4a7a"/>
<circle cx="60.2" cy="392.3" r="1.4" fill="#1c4a7a"/>
<circle cx="62.1" cy="391.0" r="1.4" fill="#1c4a7a"/>
<circle cx="64.1" cy="391.8" r="1.4" fill="#1c4a7a"/>
<circle cx="66.0" cy="392.1" r="1.4" fill="#1c4a7a"/>
<circle cx="68.0" cy="393.4" r="1.4" fill="#1c4a7a"/>
<circle cx="70.6" cy="391.4" r="1.4" fill="#1c4a7a"/>
<circle cx="73.2" cy="391.8" r="1.4" fill="#1c4a7a"/>
<circle cx="75.1" cy="392.3" r="1.4" fill="#1c4a7a"/>
<circle cx="78.4" cy="390.5" r="1.4" fill="#1c4a7a"/>
<circle cx="81.0" cy="391.0" r="1.4" fill="#1c4a7a"/>
<circle cx="83.6" cy="391.0" r="1.4" fill="#1c4a7a"/>
<circle cx="86.8" cy="392.1" r="1.4" fill="#1c4a7a"/>
<circle cx="90.1" cy="394.0" r="1.4" fill="#1c4a7a"/>
<circle cx="60.2" cy="411.6" r="1.4" fill="#1c4a7a"/>
<circle cx="62.1" cy="409.6" r="1.4" fill="#1c4a7a"/>
<circle cx="63.4" cy="407.7" r="1.4" fill="#1c4a7a"/>
<circle cx="64.7" cy="405.1" r="1.4" fill="#1c4a7a"/>
<circle cx="66.0" cy="403.1" r="1.4" fill="#1c4a7a"/>
<circle cx="67.7" cy="402.5" r="1.4" fill="#1c4a7a"/>
<circle cx="69.3" cy="404.4" r="1.4" fill="#1c4a7a"/>
<circle cx="70.6" cy="406.4" r="1.4" fill="#1c4a7a"/>
<circle cx="72.5" cy="407.0" r="1.4" fill="#1c4a7a"/>
<circle cx="74.5" cy="405.1" r="1.4" fill="#1c4a7a"/>
<circle cx="76.4" cy="402.2" r="1.4" fill="#1c4a7a"/>
<circle cx="78.4" cy="403.1" r="1.4" fill="#1c4a7a"/>
<circle cx="80.3" cy="405.1" r="1.4" fill="#1c4a7a"/>
<circle cx="82.3" cy="407.7" r="1.4" fill="#1c4a7a"/>
<circle cx="84.2" cy="409.6" r="1.4" fill="#1c4a7a"/>
<circle cx="86.2" cy="412.9" r="1.4" fill="#1c4a7a"/>
<circle cx="88.1" cy="415.2" r="1.4" fill="#1c4a7a"/>
<circle cx="90.1" cy="416.8" r="1.4" fill="#1c4a7a"/>
<circle cx="86.4" cy="391.9" r="1.4" fill="#1c4a7a"/>
<circle cx="90.0" cy="394.3" r="1.4" fill="#1c4a7a"/>
<circle cx="93.6" cy="395.0" r="1.4" fill="#1c4a7a"/>
<circle cx="97.1" cy="397.1" r="1.4" fill="#1c4a7a"/>
<circle cx="97.6" cy="398.6" r="1.4" fill="#1c4a7a"/>
<circle cx="100.0" cy="394.7" r="1.4" fill="#1c4a7a"/>
<circle cx="100.0" cy="390.0" r="1.4" fill="#1c4a7a"/>
<circle cx="102.9" cy="387.9" r="1.4" fill="#1c4a7a"/>
<circle cx="104.3" cy="391.4" r="1.4" fill="#1c4a7a"/>
<circle cx="108.6" cy="390.0" r="1.4" fill="#1c4a7a"/>
<circle cx="101.9" cy="381.4" r="1.4" fill="#1c4a7a"/>
<circle cx="103.3" cy="382.9" r="1.4" fill="#1c4a7a"/>
<circle cx="104.7" cy="384.3" r="1.4" fill="#1c4a7a"/>
<circle cx="106.4" cy="375.7" r="1.4" fill="#1c4a7a"/>
<circle cx="107.6" cy="377.1" r="1.4" fill="#1c4a7a"/>
<circle cx="108.1" cy="381.4" r="1.4" fill="#1c4a7a"/>
<circle cx="85.7" cy="412.1" r="1.4" fill="#1c4a7a"/>
<circle cx="87.9" cy="415.0" r="1.4" fill="#1c4a7a"/>
<circle cx="90.4" cy="417.6" r="1.4" fill="#1c4a7a"/>
<circle cx="92.9" cy="416.1" r="1.4" fill="#1c4a7a"/>
<circle cx="95.3" cy="409.6" r="1.4" fill="#1c4a7a"/>
<circle cx="105.0" cy="402.4" r="1.4" fill="#1c4a7a"/>
<circle cx="108.1" cy="402.1" r="1.4" fill="#1c4a7a"/>
<circle cx="108.6" cy="410.0" r="1.4" fill="#1c4a7a"/>
<circle cx="105.7" cy="413.6" r="1.4" fill="#1c4a7a"/>
<circle cx="106.4" cy="417.9" r="1.4" fill="#1c4a7a"/>
<circle cx="106.4" cy="419.3" r="1.4" fill="#1c4a7a"/>
<path d="M44.50,370.60 V434.90 H135.90" fill="none" stroke="#555555" stroke-width="0.9"/>
<line x1="44.50" y1="379.30" x2="45.50" y2="379.30" stroke="#555555" stroke-width="0.6"/>
<text x="41.00" y="382.55" font-family="Liberation Sans, sans-serif" font-size="7.9" fill="#2e2e2e" stroke="#2e2e2e" stroke-width="0.1" text-anchor="end">1</text>
<line x1="44.50" y1="395.20" x2="45.50" y2="395.20" stroke="#555555" stroke-width="0.6"/>
<text x="41.00" y="398.45" font-family="Liberation Sans, sans-serif" font-size="7.9" fill="#2e2e2e" stroke="#2e2e2e" stroke-width="0.1" text-anchor="end">0</text>
<line x1="44.50" y1="411.20" x2="45.50" y2="411.20" stroke="#555555" stroke-width="0.6"/>
<text x="41.00" y="414.45" font-family="Liberation Sans, sans-serif" font-size="7.9" fill="#2e2e2e" stroke="#2e2e2e" stroke-width="0.1" text-anchor="end">-1</text>
<line x1="44.50" y1="427.10" x2="45.50" y2="427.10" stroke="#555555" stroke-width="0.6"/>
<text x="41.00" y="430.35" font-family="Liberation Sans, sans-serif" font-size="7.9" fill="#2e2e2e" stroke="#2e2e2e" stroke-width="0.1" text-anchor="end">-2</text>
<line x1="50.90" y1="434.90" x2="50.90" y2="433.90" stroke="#555555" stroke-width="0.6"/>
<text x="50.90" y="445.35" font-family="Liberation Sans, sans-serif" font-size="7.9" fill="#2e2e2e" stroke="#2e2e2e" stroke-width="0.1" text-anchor="middle">0</text>
<line x1="86.30" y1="434.90" x2="86.30" y2="433.90" stroke="#555555" stroke-width="0.6"/>
<text x="86.30" y="445.35" font-family="Liberation Sans, sans-serif" font-size="7.9" fill="#2e2e2e" stroke="#2e2e2e" stroke-width="0.1" text-anchor="middle">50</text>
<line x1="121.80" y1="434.90" x2="121.80" y2="433.90" stroke="#555555" stroke-width="0.6"/>
<text x="121.80" y="445.35" font-family="Liberation Sans, sans-serif" font-size="7.9" fill="#2e2e2e" stroke="#2e2e2e" stroke-width="0.1" text-anchor="middle">100</text>
<g font-family="Liberation Sans, sans-serif" font-size="6.4" fill="#2e62a4" stroke="#2e62a4" stroke-width="0.1" text-anchor="end">
<text x="131.80" y="382.30" textLength="23.5" lengthAdjust="spacingAndGlyphs">+1.96 SD</text>
<text x="131.80" y="412.70" textLength="14.6" lengthAdjust="spacingAndGlyphs">Mean</text>
<text x="131.80" y="431.20" textLength="22" lengthAdjust="spacingAndGlyphs">-1.96 SD</text>
</g>
<path d="M86.40,365.15L86.40,369.85M84.36,366.32L88.44,368.68M88.44,366.32L84.36,368.68" stroke="#2a2a2a" stroke-width="0.85" stroke-linecap="round" fill="none"/>
<circle cx="88.44" cy="368.68" r="0.6" fill="#2a2a2a"/>
<circle cx="86.40" cy="369.85" r="0.6" fill="#2a2a2a"/>
<circle cx="84.36" cy="368.68" r="0.6" fill="#2a2a2a"/>
<circle cx="84.36" cy="366.32" r="0.6" fill="#2a2a2a"/>
<circle cx="86.40" cy="365.15" r="0.6" fill="#2a2a2a"/>
<circle cx="88.44" cy="366.32" r="0.6" fill="#2a2a2a"/>
<circle cx="86.40" cy="367.50" r="0.9" fill="#2a2a2a"/>
<rect x="165.60" y="372.20" width="91.20" height="59.30" fill="#f6e9cb"/>
<line x1="165.60" y1="372.20" x2="256.80" y2="372.20" stroke="#7f94b4" stroke-width="0.85" stroke-dasharray="0.9 1.45"/>
<line x1="165.60" y1="431.50" x2="256.80" y2="431.50" stroke="#7f94b4" stroke-width="0.85" stroke-dasharray="0.9 1.45"/>
<line x1="165.60" y1="420.90" x2="256.80" y2="420.90" stroke="#9c8466" stroke-width="0.8"/>
<line x1="165.60" y1="402.70" x2="256.80" y2="402.70" stroke="#4a7aab" stroke-width="1.3"/>
<polyline points="176.7,386.2 174.7,385.3 172.8,384.0 171.5,382.3 170.2,380.4 170.8,379.1 172.1,378.4 174.7,379.1 177.3,379.4" fill="none" stroke="#235480" stroke-width="0.9" stroke-linecap="round" stroke-linejoin="round"/>
<circle cx="176.7" cy="386.2" r="1.15" fill="#235480"/>
<circle cx="175.2" cy="385.5" r="1.15" fill="#235480"/>
<circle cx="173.9" cy="384.7" r="1.15" fill="#235480"/>
<circle cx="172.6" cy="383.8" r="1.15" fill="#235480"/>
<circle cx="171.6" cy="382.5" r="1.15" fill="#235480"/>
<circle cx="170.7" cy="381.2" r="1.15" fill="#235480"/>
<circle cx="170.5" cy="379.8" r="1.15" fill="#235480"/>
<circle cx="171.5" cy="378.7" r="1.15" fill="#235480"/>
<circle cx="173.0" cy="378.6" r="1.15" fill="#235480"/>
<circle cx="174.6" cy="379.1" r="1.15" fill="#235480"/>
<circle cx="176.2" cy="379.3" r="1.15" fill="#235480"/>
<circle cx="177.3" cy="379.4" r="1.15" fill="#235480"/>
<polyline points="230.7,409.3 233.6,411.4 236.4,412.9 237.9,414.3 235.7,415.7 232.9,415.7 230.0,415.7 227.1,417.1 224.3,419.3 225.7,420.7 228.6,419.3 230.7,417.1 232.1,412.9 230.7,410.7" fill="none" stroke="#235480" stroke-width="0.9" stroke-linecap="round" stroke-linejoin="round"/>
<circle cx="230.7" cy="409.3" r="1.4" fill="#235480"/>
<circle cx="232.0" cy="410.2" r="1.4" fill="#235480"/>
<circle cx="233.3" cy="411.2" r="1.4" fill="#235480"/>
<circle cx="234.7" cy="412.0" r="1.4" fill="#235480"/>
<circle cx="236.1" cy="412.7" r="1.4" fill="#235480"/>
<circle cx="237.3" cy="413.7" r="1.4" fill="#235480"/>
<circle cx="237.2" cy="414.7" r="1.4" fill="#235480"/>
<circle cx="235.9" cy="415.6" r="1.4" fill="#235480"/>
<circle cx="234.3" cy="415.7" r="1.4" fill="#235480"/>
<circle cx="232.7" cy="415.7" r="1.4" fill="#235480"/>
<circle cx="231.1" cy="415.7" r="1.4" fill="#235480"/>
<circle cx="229.6" cy="415.9" r="1.4" fill="#235480"/>
<circle cx="228.1" cy="416.6" r="1.4" fill="#235480"/>
<circle cx="226.7" cy="417.4" r="1.4" fill="#235480"/>
<circle cx="225.5" cy="418.4" r="1.4" fill="#235480"/>
<circle cx="224.4" cy="419.4" r="1.4" fill="#235480"/>
<circle cx="225.5" cy="420.5" r="1.4" fill="#235480"/>
<circle cx="226.9" cy="420.1" r="1.4" fill="#235480"/>
<circle cx="228.3" cy="419.4" r="1.4" fill="#235480"/>
<circle cx="229.5" cy="418.4" r="1.4" fill="#235480"/>
<circle cx="230.6" cy="417.2" r="1.4" fill="#235480"/>
<circle cx="231.2" cy="415.7" r="1.4" fill="#235480"/>
<circle cx="231.7" cy="414.2" r="1.4" fill="#235480"/>
<circle cx="232.0" cy="412.7" r="1.4" fill="#235480"/>
<circle cx="231.1" cy="411.4" r="1.4" fill="#235480"/>
<circle cx="230.7" cy="410.7" r="1.4" fill="#235480"/>
<circle cx="180.6" cy="379.4" r="1.4" fill="#1c4a7a"/>
<circle cx="184.2" cy="379.1" r="1.4" fill="#1c4a7a"/>
<circle cx="188.1" cy="379.4" r="1.4" fill="#1c4a7a"/>
<circle cx="191.0" cy="380.4" r="1.4" fill="#1c4a7a"/>
<circle cx="194.2" cy="382.3" r="1.4" fill="#1c4a7a"/>
<circle cx="198.1" cy="384.0" r="1.4" fill="#1c4a7a"/>
<circle cx="204.0" cy="384.9" r="1.4" fill="#1c4a7a"/>
<circle cx="211.1" cy="384.9" r="1.4" fill="#1c4a7a"/>
<circle cx="180.6" cy="387.5" r="1.4" fill="#1c4a7a"/>
<circle cx="185.1" cy="388.8" r="1.4" fill="#1c4a7a"/>
<circle cx="189.7" cy="390.1" r="1.4" fill="#1c4a7a"/>
<circle cx="194.2" cy="391.2" r="1.4" fill="#1c4a7a"/>
<circle cx="198.5" cy="393.1" r="1.4" fill="#1c4a7a"/>
<circle cx="202.7" cy="394.7" r="1.4" fill="#1c4a7a"/>
<circle cx="206.6" cy="396.6" r="1.4" fill="#1c4a7a"/>
<circle cx="209.8" cy="398.3" r="1.4" fill="#1c4a7a"/>
<circle cx="212.4" cy="399.9" r="1.4" fill="#1c4a7a"/>
<circle cx="214.4" cy="401.2" r="1.4" fill="#1c4a7a"/>
<circle cx="205.0" cy="384.0" r="1.4" fill="#1c4a7a"/>
<circle cx="210.7" cy="384.6" r="1.4" fill="#1c4a7a"/>
<circle cx="216.4" cy="386.0" r="1.4" fill="#1c4a7a"/>
<circle cx="219.3" cy="388.3" r="1.4" fill="#1c4a7a"/>
<circle cx="221.4" cy="392.1" r="1.4" fill="#1c4a7a"/>
<circle cx="224.3" cy="395.0" r="1.4" fill="#1c4a7a"/>
<circle cx="227.9" cy="396.4" r="1.4" fill="#1c4a7a"/>
<circle cx="231.4" cy="397.9" r="1.4" fill="#1c4a7a"/>
<circle cx="232.9" cy="400.7" r="1.4" fill="#1c4a7a"/>
<circle cx="232.4" cy="404.3" r="1.4" fill="#1c4a7a"/>
<circle cx="232.1" cy="406.4" r="1.4" fill="#1c4a7a"/>
<circle cx="205.0" cy="395.7" r="1.4" fill="#1c4a7a"/>
<circle cx="209.3" cy="397.9" r="1.4" fill="#1c4a7a"/>
<circle cx="213.6" cy="399.7" r="1.4" fill="#1c4a7a"/>
<circle cx="217.9" cy="402.1" r="1.4" fill="#1c4a7a"/>
<circle cx="222.1" cy="405.0" r="1.4" fill="#1c4a7a"/>
<circle cx="226.4" cy="406.9" r="1.4" fill="#1c4a7a"/>
<circle cx="230.0" cy="408.6" r="1.4" fill="#1c4a7a"/>
<path d="M165.60,370.60 V434.90 H256.80" fill="none" stroke="#555555" stroke-width="0.9"/>
<line x1="165.60" y1="378.40" x2="166.60" y2="378.40" stroke="#555555" stroke-width="0.6"/>
<text x="162.10" y="381.65" font-family="Liberation Sans, sans-serif" font-size="7.9" fill="#2e2e2e" stroke="#2e2e2e" stroke-width="0.1" text-anchor="end">6</text>
<line x1="165.60" y1="392.70" x2="166.60" y2="392.70" stroke="#555555" stroke-width="0.6"/>
<text x="162.10" y="395.95" font-family="Liberation Sans, sans-serif" font-size="7.9" fill="#2e2e2e" stroke="#2e2e2e" stroke-width="0.1" text-anchor="end">4</text>
<line x1="165.60" y1="406.90" x2="166.60" y2="406.90" stroke="#555555" stroke-width="0.6"/>
<text x="162.10" y="410.15" font-family="Liberation Sans, sans-serif" font-size="7.9" fill="#2e2e2e" stroke="#2e2e2e" stroke-width="0.1" text-anchor="end">2</text>
<line x1="165.60" y1="421.20" x2="166.60" y2="421.20" stroke="#555555" stroke-width="0.6"/>
<text x="162.10" y="424.45" font-family="Liberation Sans, sans-serif" font-size="7.9" fill="#2e2e2e" stroke="#2e2e2e" stroke-width="0.1" text-anchor="end">0</text>
<line x1="165.60" y1="435.50" x2="166.60" y2="435.50" stroke="#555555" stroke-width="0.6"/>
<text x="162.10" y="438.75" font-family="Liberation Sans, sans-serif" font-size="7.9" fill="#2e2e2e" stroke="#2e2e2e" stroke-width="0.1" text-anchor="end">-2</text>
<line x1="177.30" y1="434.90" x2="177.30" y2="433.90" stroke="#555555" stroke-width="0.6"/>
<text x="177.30" y="445.35" font-family="Liberation Sans, sans-serif" font-size="7.9" fill="#2e2e2e" stroke="#2e2e2e" stroke-width="0.1" text-anchor="middle">-3</text>
<line x1="196.90" y1="434.90" x2="196.90" y2="433.90" stroke="#555555" stroke-width="0.6"/>
<text x="196.90" y="445.35" font-family="Liberation Sans, sans-serif" font-size="7.9" fill="#2e2e2e" stroke="#2e2e2e" stroke-width="0.1" text-anchor="middle">-2</text>
<line x1="216.60" y1="434.90" x2="216.60" y2="433.90" stroke="#555555" stroke-width="0.6"/>
<text x="216.60" y="445.35" font-family="Liberation Sans, sans-serif" font-size="7.9" fill="#2e2e2e" stroke="#2e2e2e" stroke-width="0.1" text-anchor="middle">-1</text>
<line x1="236.40" y1="434.90" x2="236.40" y2="433.90" stroke="#555555" stroke-width="0.6"/>
<text x="236.40" y="445.35" font-family="Liberation Sans, sans-serif" font-size="7.9" fill="#2e2e2e" stroke="#2e2e2e" stroke-width="0.1" text-anchor="middle">0</text>
<line x1="256.10" y1="434.90" x2="256.10" y2="433.90" stroke="#555555" stroke-width="0.6"/>
<text x="256.10" y="445.35" font-family="Liberation Sans, sans-serif" font-size="7.9" fill="#2e2e2e" stroke="#2e2e2e" stroke-width="0.1" text-anchor="middle">1</text>
<g font-family="Liberation Sans, sans-serif" font-size="6.4" fill="#2e62a4" stroke="#2e62a4" stroke-width="0.1" text-anchor="end">
<text x="252.70" y="381.60" textLength="23.5" lengthAdjust="spacingAndGlyphs">+1.96 SD</text>
<text x="252.70" y="399.40" textLength="14.6" lengthAdjust="spacingAndGlyphs">Mean</text>
<text x="252.70" y="429.40" textLength="22" lengthAdjust="spacingAndGlyphs">-1.96 SD</text>
</g>
<path d="M211.30,364.85L211.30,369.55M209.26,366.02L213.34,368.38M213.34,366.02L209.26,368.38" stroke="#2a2a2a" stroke-width="0.85" stroke-linecap="round" fill="none"/>
<circle cx="213.34" cy="368.38" r="0.6" fill="#2a2a2a"/>
<circle cx="211.30" cy="369.55" r="0.6" fill="#2a2a2a"/>
<circle cx="209.26" cy="368.38" r="0.6" fill="#2a2a2a"/>
<circle cx="209.26" cy="366.02" r="0.6" fill="#2a2a2a"/>
<circle cx="211.30" cy="364.85" r="0.6" fill="#2a2a2a"/>
<circle cx="213.34" cy="366.02" r="0.6" fill="#2a2a2a"/>
<circle cx="211.30" cy="367.20" r="0.9" fill="#2a2a2a"/>
<rect x="286.40" y="381.00" width="91.60" height="50.00" fill="#f6e9cb"/>
<line x1="286.40" y1="381.00" x2="378.00" y2="381.00" stroke="#7f94b4" stroke-width="0.85" stroke-dasharray="0.9 1.45"/>
<line x1="286.40" y1="431.00" x2="378.00" y2="431.00" stroke="#7f94b4" stroke-width="0.85" stroke-dasharray="0.9 1.45"/>
<line x1="286.40" y1="403.50" x2="378.00" y2="403.50" stroke="#9c8466" stroke-width="0.8"/>
<line x1="286.40" y1="406.00" x2="378.00" y2="406.00" stroke="#4a7aab" stroke-width="1.3"/>
<polyline points="316.3,401.6 315.4,403.1 314.1,405.6 315.4,406.9 316.3,408.7 316.5,411.0" fill="none" stroke="#235480" stroke-width="0.9" stroke-linecap="round" stroke-linejoin="round"/>
<circle cx="316.3" cy="401.6" r="1.15" fill="#235480"/>
<circle cx="315.5" cy="403.0" r="1.15" fill="#235480"/>
<circle cx="314.7" cy="404.4" r="1.15" fill="#235480"/>
<circle cx="314.3" cy="405.8" r="1.15" fill="#235480"/>
<circle cx="315.4" cy="406.9" r="1.15" fill="#235480"/>
<circle cx="316.1" cy="408.3" r="1.15" fill="#235480"/>
<circle cx="316.4" cy="409.9" r="1.15" fill="#235480"/>
<circle cx="316.5" cy="411.0" r="1.15" fill="#235480"/>
<polyline points="312.2,405.6 314.1,405.6" fill="none" stroke="#235480" stroke-width="0.9" stroke-linecap="round" stroke-linejoin="round"/>
<circle cx="312.2" cy="405.6" r="1.15" fill="#235480"/>
<circle cx="313.8" cy="405.6" r="1.15" fill="#235480"/>
<circle cx="314.1" cy="405.6" r="1.15" fill="#235480"/>
<polyline points="318.5,418.1 317.2,420.0 316.0,421.2 315.0,422.8" fill="none" stroke="#235480" stroke-width="0.9" stroke-linecap="round" stroke-linejoin="round"/>
<circle cx="318.5" cy="418.1" r="1.15" fill="#235480"/>
<circle cx="317.6" cy="419.4" r="1.15" fill="#235480"/>
<circle cx="316.6" cy="420.6" r="1.15" fill="#235480"/>
<circle cx="315.6" cy="421.9" r="1.15" fill="#235480"/>
<circle cx="315.0" cy="422.8" r="1.15" fill="#235480"/>
<polygon points="309.8,413.2 312.0,411.8 315.0,410.5 316.6,412.2 318.5,412.0 320.5,412.7 322.8,412.0 324.3,410.5 325.0,412.5 324.7,415.0 322.6,417.2 320.3,418.3 318.0,418.2 316.0,417.3 313.0,416.8 310.6,416.2" fill="#33638c" stroke="#33638c" stroke-width="1.2" stroke-linejoin="round"/>
<circle cx="292.8" cy="417.1" r="1.4" fill="#1c4a7a"/>
<circle cx="294.4" cy="416.3" r="1.4" fill="#1c4a7a"/>
<circle cx="296.7" cy="415.8" r="1.4" fill="#1c4a7a"/>
<circle cx="297.5" cy="414.3" r="1.4" fill="#1c4a7a"/>
<circle cx="302.1" cy="413.2" r="1.4" fill="#1c4a7a"/>
<circle cx="303.7" cy="411.2" r="1.4" fill="#1c4a7a"/>
<circle cx="308.1" cy="411.2" r="1.4" fill="#1c4a7a"/>
<circle cx="310.7" cy="414.0" r="1.4" fill="#1c4a7a"/>
<circle cx="309.9" cy="415.8" r="1.4" fill="#1c4a7a"/>
<circle cx="312.3" cy="405.4" r="1.4" fill="#1c4a7a"/>
<circle cx="314.6" cy="403.8" r="1.4" fill="#1c4a7a"/>
<circle cx="316.2" cy="401.8" r="1.4" fill="#1c4a7a"/>
<circle cx="321.6" cy="401.2" r="1.4" fill="#1c4a7a"/>
<circle cx="321.6" cy="394.5" r="1.4" fill="#1c4a7a"/>
<circle cx="325.5" cy="389.3" r="1.4" fill="#1c4a7a"/>
<circle cx="327.9" cy="389.8" r="1.4" fill="#1c4a7a"/>
<circle cx="330.2" cy="387.8" r="1.4" fill="#1c4a7a"/>
<circle cx="333.3" cy="385.1" r="1.4" fill="#1c4a7a"/>
<circle cx="334.9" cy="384.4" r="1.4" fill="#1c4a7a"/>
<circle cx="336.1" cy="385.9" r="1.4" fill="#1c4a7a"/>
<circle cx="338.8" cy="382.0" r="1.4" fill="#1c4a7a"/>
<circle cx="341.1" cy="380.5" r="1.4" fill="#1c4a7a"/>
<circle cx="343.4" cy="379.4" r="1.4" fill="#1c4a7a"/>
<circle cx="330.2" cy="398.4" r="1.4" fill="#1c4a7a"/>
<circle cx="337.7" cy="397.1" r="1.4" fill="#1c4a7a"/>
<circle cx="344.2" cy="394.5" r="1.4" fill="#1c4a7a"/>
<circle cx="325.8" cy="389.6" r="1.4" fill="#1c4a7a"/>
<circle cx="328.1" cy="389.2" r="1.4" fill="#1c4a7a"/>
<circle cx="330.5" cy="388.1" r="1.4" fill="#1c4a7a"/>
<circle cx="333.6" cy="385.3" r="1.4" fill="#1c4a7a"/>
<circle cx="335.9" cy="385.0" r="1.4" fill="#1c4a7a"/>
<circle cx="338.2" cy="382.1" r="1.4" fill="#1c4a7a"/>
<circle cx="340.6" cy="380.6" r="1.4" fill="#1c4a7a"/>
<circle cx="342.9" cy="378.2" r="1.4" fill="#1c4a7a"/>
<circle cx="344.5" cy="377.8" r="1.4" fill="#1c4a7a"/>
<circle cx="346.8" cy="379.3" r="1.4" fill="#1c4a7a"/>
<circle cx="349.2" cy="380.6" r="1.4" fill="#1c4a7a"/>
<circle cx="351.5" cy="382.1" r="1.4" fill="#1c4a7a"/>
<circle cx="353.1" cy="383.4" r="1.4" fill="#1c4a7a"/>
<circle cx="355.4" cy="385.0" r="1.4" fill="#1c4a7a"/>
<circle cx="357.0" cy="386.8" r="1.4" fill="#1c4a7a"/>
<circle cx="357.0" cy="388.4" r="1.4" fill="#1c4a7a"/>
<circle cx="355.4" cy="389.2" r="1.4" fill="#1c4a7a"/>
<circle cx="329.7" cy="398.5" r="1.4" fill="#1c4a7a"/>
<circle cx="337.5" cy="397.4" r="1.4" fill="#1c4a7a"/>
<circle cx="344.5" cy="393.8" r="1.4" fill="#1c4a7a"/>
<circle cx="351.5" cy="391.5" r="1.4" fill="#1c4a7a"/>
<circle cx="321.9" cy="401.2" r="1.4" fill="#1c4a7a"/>
<circle cx="308.2" cy="411.2" r="1.4" fill="#1c4a7a"/>
<circle cx="312.5" cy="410.9" r="1.4" fill="#1c4a7a"/>
<path d="M286.40,370.60 V434.90 H378.00" fill="none" stroke="#555555" stroke-width="0.9"/>
<line x1="286.40" y1="374.40" x2="287.40" y2="374.40" stroke="#555555" stroke-width="0.6"/>
<text x="282.90" y="377.65" font-family="Liberation Sans, sans-serif" font-size="7.9" fill="#2e2e2e" stroke="#2e2e2e" stroke-width="0.1" text-anchor="end">4</text>
<line x1="286.40" y1="389.00" x2="287.40" y2="389.00" stroke="#555555" stroke-width="0.6"/>
<text x="282.90" y="392.25" font-family="Liberation Sans, sans-serif" font-size="7.9" fill="#2e2e2e" stroke="#2e2e2e" stroke-width="0.1" text-anchor="end">2</text>
<line x1="286.40" y1="403.50" x2="287.40" y2="403.50" stroke="#555555" stroke-width="0.6"/>
<text x="282.90" y="406.75" font-family="Liberation Sans, sans-serif" font-size="7.9" fill="#2e2e2e" stroke="#2e2e2e" stroke-width="0.1" text-anchor="end">0</text>
<line x1="286.40" y1="418.00" x2="287.40" y2="418.00" stroke="#555555" stroke-width="0.6"/>
<text x="282.90" y="421.25" font-family="Liberation Sans, sans-serif" font-size="7.9" fill="#2e2e2e" stroke="#2e2e2e" stroke-width="0.1" text-anchor="end">-2</text>
<line x1="286.40" y1="432.50" x2="287.40" y2="432.50" stroke="#555555" stroke-width="0.6"/>
<text x="282.90" y="435.75" font-family="Liberation Sans, sans-serif" font-size="7.9" fill="#2e2e2e" stroke="#2e2e2e" stroke-width="0.1" text-anchor="end">-4</text>
<line x1="286.80" y1="434.90" x2="286.80" y2="433.90" stroke="#555555" stroke-width="0.6"/>
<text x="286.80" y="445.35" font-family="Liberation Sans, sans-serif" font-size="7.9" fill="#2e2e2e" stroke="#2e2e2e" stroke-width="0.1" text-anchor="middle">-5</text>
<line x1="324.60" y1="434.90" x2="324.60" y2="433.90" stroke="#555555" stroke-width="0.6"/>
<text x="324.60" y="445.35" font-family="Liberation Sans, sans-serif" font-size="7.9" fill="#2e2e2e" stroke="#2e2e2e" stroke-width="0.1" text-anchor="middle">0</text>
<line x1="362.40" y1="434.90" x2="362.40" y2="433.90" stroke="#555555" stroke-width="0.6"/>
<text x="362.40" y="445.35" font-family="Liberation Sans, sans-serif" font-size="7.9" fill="#2e2e2e" stroke="#2e2e2e" stroke-width="0.1" text-anchor="middle">5</text>
<g font-family="Liberation Sans, sans-serif" font-size="6.4" fill="#2e62a4" stroke="#2e62a4" stroke-width="0.1" text-anchor="end">
<text x="373.90" y="378.50" textLength="23.5" lengthAdjust="spacingAndGlyphs">+1.96 SD</text>
<text x="373.90" y="414.10" textLength="14.6" lengthAdjust="spacingAndGlyphs">Mean</text>
<text x="373.90" y="428.40" textLength="22" lengthAdjust="spacingAndGlyphs">-1.96 SD</text>
</g>
<path d="M337.50,365.15L337.50,369.85M335.46,366.32L339.54,368.68M339.54,366.32L335.46,368.68" stroke="#2a2a2a" stroke-width="0.85" stroke-linecap="round" fill="none"/>
<circle cx="339.54" cy="368.68" r="0.6" fill="#2a2a2a"/>
<circle cx="337.50" cy="369.85" r="0.6" fill="#2a2a2a"/>
<circle cx="335.46" cy="368.68" r="0.6" fill="#2a2a2a"/>
<circle cx="335.46" cy="366.32" r="0.6" fill="#2a2a2a"/>
<circle cx="337.50" cy="365.15" r="0.6" fill="#2a2a2a"/>
<circle cx="339.54" cy="366.32" r="0.6" fill="#2a2a2a"/>
<circle cx="337.50" cy="367.50" r="0.9" fill="#2a2a2a"/>
<rect x="44.50" y="469.30" width="91.40" height="39.20" fill="#f6e9cb"/>
<line x1="44.50" y1="469.30" x2="135.90" y2="469.30" stroke="#7f94b4" stroke-width="0.85" stroke-dasharray="0.9 1.45"/>
<line x1="44.50" y1="508.50" x2="135.90" y2="508.50" stroke="#7f94b4" stroke-width="0.85" stroke-dasharray="0.9 1.45"/>
<line x1="44.50" y1="483.30" x2="135.90" y2="483.30" stroke="#9c8466" stroke-width="0.8"/>
<line x1="44.50" y1="489.00" x2="135.90" y2="489.00" stroke="#4a7aab" stroke-width="1.3"/>
<polyline points="64.4,478.4 64.7,497.2" fill="none" stroke="#235480" stroke-width="0.9" stroke-linecap="round" stroke-linejoin="round"/>
<circle cx="64.4" cy="478.4" r="1.15" fill="#235480"/>
<circle cx="64.4" cy="480.0" r="1.15" fill="#235480"/>
<circle cx="64.5" cy="481.6" r="1.15" fill="#235480"/>
<circle cx="64.5" cy="483.2" r="1.15" fill="#235480"/>
<circle cx="64.5" cy="484.8" r="1.15" fill="#235480"/>
<circle cx="64.5" cy="486.4" r="1.15" fill="#235480"/>
<circle cx="64.6" cy="488.0" r="1.15" fill="#235480"/>
<circle cx="64.6" cy="489.6" r="1.15" fill="#235480"/>
<circle cx="64.6" cy="491.2" r="1.15" fill="#235480"/>
<circle cx="64.6" cy="492.8" r="1.15" fill="#235480"/>
<circle cx="64.7" cy="494.4" r="1.15" fill="#235480"/>
<circle cx="64.7" cy="496.0" r="1.15" fill="#235480"/>
<circle cx="64.7" cy="497.2" r="1.15" fill="#235480"/>
<polyline points="47.2,485.5 47.2,494.0" fill="none" stroke="#235480" stroke-width="0.9" stroke-linecap="round" stroke-linejoin="round"/>
<circle cx="47.2" cy="485.5" r="1.15" fill="#235480"/>
<circle cx="47.2" cy="487.1" r="1.15" fill="#235480"/>
<circle cx="47.2" cy="488.7" r="1.15" fill="#235480"/>
<circle cx="47.2" cy="490.3" r="1.15" fill="#235480"/>
<circle cx="47.2" cy="491.9" r="1.15" fill="#235480"/>
<circle cx="47.2" cy="493.5" r="1.15" fill="#235480"/>
<circle cx="47.2" cy="494.0" r="1.15" fill="#235480"/>
<circle cx="47.8" cy="496.6" r="1.4" fill="#1c4a7a"/>
<circle cx="48.5" cy="492.7" r="1.4" fill="#1c4a7a"/>
<circle cx="49.8" cy="494.0" r="1.4" fill="#1c4a7a"/>
<circle cx="51.1" cy="492.7" r="1.4" fill="#1c4a7a"/>
<circle cx="51.7" cy="490.1" r="1.4" fill="#1c4a7a"/>
<circle cx="53.7" cy="489.8" r="1.4" fill="#1c4a7a"/>
<circle cx="55.0" cy="489.4" r="1.4" fill="#1c4a7a"/>
<circle cx="56.9" cy="482.9" r="1.4" fill="#1c4a7a"/>
<circle cx="58.9" cy="499.2" r="1.4" fill="#1c4a7a"/>
<circle cx="48.5" cy="504.1" r="1.4" fill="#1c4a7a"/>
<circle cx="49.1" cy="510.2" r="1.4" fill="#1c4a7a"/>
<circle cx="51.7" cy="514.1" r="1.4" fill="#1c4a7a"/>
<circle cx="50.4" cy="516.7" r="1.4" fill="#1c4a7a"/>
<circle cx="53.7" cy="510.6" r="1.4" fill="#1c4a7a"/>
<circle cx="55.0" cy="508.9" r="1.4" fill="#1c4a7a"/>
<circle cx="57.3" cy="506.7" r="1.4" fill="#1c4a7a"/>
<circle cx="60.2" cy="489.4" r="1.4" fill="#1c4a7a"/>
<circle cx="62.8" cy="475.1" r="1.4" fill="#1c4a7a"/>
<circle cx="62.8" cy="480.3" r="1.4" fill="#1c4a7a"/>
<circle cx="63.4" cy="482.9" r="1.4" fill="#1c4a7a"/>
<circle cx="66.0" cy="488.1" r="1.4" fill="#1c4a7a"/>
<circle cx="64.7" cy="505.0" r="1.4" fill="#1c4a7a"/>
<circle cx="64.7" cy="509.5" r="1.4" fill="#1c4a7a"/>
<circle cx="62.8" cy="490.1" r="1.4" fill="#1c4a7a"/>
<circle cx="62.8" cy="494.0" r="1.4" fill="#1c4a7a"/>
<circle cx="67.3" cy="487.5" r="1.4" fill="#1c4a7a"/>
<circle cx="69.3" cy="487.5" r="1.4" fill="#1c4a7a"/>
<circle cx="70.6" cy="488.1" r="1.4" fill="#1c4a7a"/>
<circle cx="71.2" cy="490.1" r="1.4" fill="#1c4a7a"/>
<circle cx="72.5" cy="492.7" r="1.4" fill="#1c4a7a"/>
<circle cx="73.2" cy="494.6" r="1.4" fill="#1c4a7a"/>
<circle cx="73.8" cy="491.4" r="1.4" fill="#1c4a7a"/>
<circle cx="75.1" cy="477.7" r="1.4" fill="#1c4a7a"/>
<circle cx="75.8" cy="488.1" r="1.4" fill="#1c4a7a"/>
<circle cx="77.1" cy="482.9" r="1.4" fill="#1c4a7a"/>
<circle cx="79.0" cy="480.3" r="1.4" fill="#1c4a7a"/>
<circle cx="80.3" cy="482.3" r="1.4" fill="#1c4a7a"/>
<circle cx="81.0" cy="483.6" r="1.4" fill="#1c4a7a"/>
<circle cx="79.7" cy="471.2" r="1.4" fill="#1c4a7a"/>
<circle cx="83.6" cy="488.8" r="1.4" fill="#1c4a7a"/>
<circle cx="84.9" cy="492.0" r="1.4" fill="#1c4a7a"/>
<circle cx="86.8" cy="488.8" r="1.4" fill="#1c4a7a"/>
<circle cx="88.8" cy="484.9" r="1.4" fill="#1c4a7a"/>
<circle cx="84.2" cy="467.3" r="1.4" fill="#1c4a7a"/>
<circle cx="88.1" cy="468.0" r="1.4" fill="#1c4a7a"/>
<circle cx="90.7" cy="484.9" r="1.4" fill="#1c4a7a"/>
<circle cx="92.1" cy="470.0" r="1.4" fill="#1c4a7a"/>
<circle cx="96.1" cy="477.6" r="1.4" fill="#1c4a7a"/>
<circle cx="99.3" cy="475.7" r="1.4" fill="#1c4a7a"/>
<circle cx="102.1" cy="476.4" r="1.4" fill="#1c4a7a"/>
<circle cx="104.3" cy="477.1" r="1.4" fill="#1c4a7a"/>
<circle cx="105.7" cy="475.0" r="1.4" fill="#1c4a7a"/>
<circle cx="107.1" cy="473.3" r="1.4" fill="#1c4a7a"/>
<circle cx="107.9" cy="474.7" r="1.4" fill="#1c4a7a"/>
<circle cx="109.0" cy="475.3" r="1.4" fill="#1c4a7a"/>
<circle cx="110.0" cy="476.1" r="1.4" fill="#1c4a7a"/>
<circle cx="110.7" cy="477.9" r="1.4" fill="#1c4a7a"/>
<circle cx="111.4" cy="481.4" r="1.4" fill="#1c4a7a"/>
<circle cx="110.7" cy="484.3" r="1.4" fill="#1c4a7a"/>
<circle cx="111.4" cy="486.4" r="1.4" fill="#1c4a7a"/>
<circle cx="111.4" cy="489.3" r="1.4" fill="#1c4a7a"/>
<circle cx="111.4" cy="491.9" r="1.4" fill="#1c4a7a"/>
<circle cx="102.9" cy="484.3" r="1.4" fill="#1c4a7a"/>
<circle cx="100.7" cy="488.6" r="1.4" fill="#1c4a7a"/>
<circle cx="98.6" cy="492.4" r="1.4" fill="#1c4a7a"/>
<circle cx="97.1" cy="492.9" r="1.4" fill="#1c4a7a"/>
<circle cx="95.0" cy="490.4" r="1.4" fill="#1c4a7a"/>
<circle cx="91.4" cy="485.7" r="1.4" fill="#1c4a7a"/>
<circle cx="90.0" cy="484.3" r="1.4" fill="#1c4a7a"/>
<circle cx="87.1" cy="488.6" r="1.4" fill="#1c4a7a"/>
<circle cx="85.7" cy="492.1" r="1.4" fill="#1c4a7a"/>
<path d="M44.50,457.00 V521.30 H135.90" fill="none" stroke="#555555" stroke-width="0.9"/>
<line x1="44.50" y1="458.10" x2="45.50" y2="458.10" stroke="#555555" stroke-width="0.6"/>
<text x="41.00" y="461.35" font-family="Liberation Sans, sans-serif" font-size="7.9" fill="#2e2e2e" stroke="#2e2e2e" stroke-width="0.1" text-anchor="end">1</text>
<line x1="44.50" y1="483.60" x2="45.50" y2="483.60" stroke="#555555" stroke-width="0.6"/>
<text x="41.00" y="486.85" font-family="Liberation Sans, sans-serif" font-size="7.9" fill="#2e2e2e" stroke="#2e2e2e" stroke-width="0.1" text-anchor="end">0</text>
<line x1="44.50" y1="509.30" x2="45.50" y2="509.30" stroke="#555555" stroke-width="0.6"/>
<text x="41.00" y="512.55" font-family="Liberation Sans, sans-serif" font-size="7.9" fill="#2e2e2e" stroke="#2e2e2e" stroke-width="0.1" text-anchor="end">-1</text>
<line x1="52.00" y1="521.30" x2="52.00" y2="520.30" stroke="#555555" stroke-width="0.6"/>
<text x="52.00" y="531.75" font-family="Liberation Sans, sans-serif" font-size="7.9" fill="#2e2e2e" stroke="#2e2e2e" stroke-width="0.1" text-anchor="middle">0</text>
<line x1="93.50" y1="521.30" x2="93.50" y2="520.30" stroke="#555555" stroke-width="0.6"/>
<text x="93.50" y="531.75" font-family="Liberation Sans, sans-serif" font-size="7.9" fill="#2e2e2e" stroke="#2e2e2e" stroke-width="0.1" text-anchor="middle">50</text>
<line x1="135.00" y1="521.30" x2="135.00" y2="520.30" stroke="#555555" stroke-width="0.6"/>
<text x="135.00" y="531.75" font-family="Liberation Sans, sans-serif" font-size="7.9" fill="#2e2e2e" stroke="#2e2e2e" stroke-width="0.1" text-anchor="middle">100</text>
<g font-family="Liberation Sans, sans-serif" font-size="6.4" fill="#2e62a4" stroke="#2e62a4" stroke-width="0.1" text-anchor="end">
<text x="131.80" y="466.70" textLength="23.5" lengthAdjust="spacingAndGlyphs">+1.96 SD</text>
<text x="131.80" y="497.30" textLength="14.6" lengthAdjust="spacingAndGlyphs">Mean</text>
<text x="131.80" y="516.40" textLength="22" lengthAdjust="spacingAndGlyphs">-1.96 SD</text>
</g>
<path d="M85.50,454.35L85.50,459.05M83.46,455.52L87.54,457.88M87.54,455.52L83.46,457.88" stroke="#2a2a2a" stroke-width="0.85" stroke-linecap="round" fill="none"/>
<circle cx="87.54" cy="457.88" r="0.6" fill="#2a2a2a"/>
<circle cx="85.50" cy="459.05" r="0.6" fill="#2a2a2a"/>
<circle cx="83.46" cy="457.88" r="0.6" fill="#2a2a2a"/>
<circle cx="83.46" cy="455.52" r="0.6" fill="#2a2a2a"/>
<circle cx="85.50" cy="454.35" r="0.6" fill="#2a2a2a"/>
<circle cx="87.54" cy="455.52" r="0.6" fill="#2a2a2a"/>
<circle cx="85.50" cy="456.70" r="0.9" fill="#2a2a2a"/>
<rect x="165.60" y="464.20" width="91.20" height="50.80" fill="#f6e9cb"/>
<line x1="165.60" y1="464.20" x2="256.80" y2="464.20" stroke="#7f94b4" stroke-width="0.85" stroke-dasharray="0.9 1.45"/>
<line x1="165.60" y1="515.00" x2="256.80" y2="515.00" stroke="#7f94b4" stroke-width="0.85" stroke-dasharray="0.9 1.45"/>
<line x1="165.60" y1="479.40" x2="256.80" y2="479.40" stroke="#9c8466" stroke-width="0.8"/>
<line x1="165.60" y1="489.30" x2="256.80" y2="489.30" stroke="#4a7aab" stroke-width="1.3"/>
<polyline points="165.0,471.4 166.9,471.9 168.8,473.0 170.1,474.0 171.4,474.9 172.7,476.2" fill="none" stroke="#235480" stroke-width="0.9" stroke-linecap="round" stroke-linejoin="round"/>
<circle cx="165.0" cy="471.4" r="1.15" fill="#235480"/>
<circle cx="166.5" cy="471.8" r="1.15" fill="#235480"/>
<circle cx="168.0" cy="472.5" r="1.15" fill="#235480"/>
<circle cx="169.3" cy="473.4" r="1.15" fill="#235480"/>
<circle cx="170.6" cy="474.3" r="1.15" fill="#235480"/>
<circle cx="171.8" cy="475.3" r="1.15" fill="#235480"/>
<circle cx="172.7" cy="476.2" r="1.15" fill="#235480"/>
<polyline points="207.8,479.5 210.1,479.0 211.7,480.3 212.5,481.8 214.8,483.4 217.9,484.2 220.3,484.9 221.8,486.5 223.4,488.8 223.1,491.2 221.0,492.7 217.9,493.5 214.8,494.3 211.7,495.1 209.7,496.6 208.6,499.0 209.4,501.3 211.7,503.6 214.8,506.0 217.1,507.5 219.5,509.1 221.8,509.6 224.2,509.6 224.9,507.5 224.9,505.2" fill="none" stroke="#235480" stroke-width="0.9" stroke-linecap="round" stroke-linejoin="round"/>
<circle cx="207.8" cy="479.5" r="1.45" fill="#235480"/>
<circle cx="209.4" cy="479.2" r="1.45" fill="#235480"/>
<circle cx="210.8" cy="479.5" r="1.45" fill="#235480"/>
<circle cx="211.9" cy="480.6" r="1.45" fill="#235480"/>
<circle cx="212.7" cy="482.0" r="1.45" fill="#235480"/>
<circle cx="214.0" cy="482.9" r="1.45" fill="#235480"/>
<circle cx="215.5" cy="483.6" r="1.45" fill="#235480"/>
<circle cx="217.0" cy="484.0" r="1.45" fill="#235480"/>
<circle cx="218.6" cy="484.4" r="1.45" fill="#235480"/>
<circle cx="220.1" cy="484.8" r="1.45" fill="#235480"/>
<circle cx="221.2" cy="485.9" r="1.45" fill="#235480"/>
<circle cx="222.3" cy="487.1" r="1.45" fill="#235480"/>
<circle cx="223.2" cy="488.5" r="1.45" fill="#235480"/>
<circle cx="223.3" cy="490.0" r="1.45" fill="#235480"/>
<circle cx="222.8" cy="491.4" r="1.45" fill="#235480"/>
<circle cx="221.5" cy="492.3" r="1.45" fill="#235480"/>
<circle cx="220.0" cy="492.9" r="1.45" fill="#235480"/>
<circle cx="218.5" cy="493.3" r="1.45" fill="#235480"/>
<circle cx="216.9" cy="493.7" r="1.45" fill="#235480"/>
<circle cx="215.4" cy="494.1" r="1.45" fill="#235480"/>
<circle cx="213.8" cy="494.5" r="1.45" fill="#235480"/>
<circle cx="212.3" cy="494.9" r="1.45" fill="#235480"/>
<circle cx="210.9" cy="495.7" r="1.45" fill="#235480"/>
<circle cx="209.7" cy="496.7" r="1.45" fill="#235480"/>
<circle cx="209.0" cy="498.1" r="1.45" fill="#235480"/>
<circle cx="208.8" cy="499.6" r="1.45" fill="#235480"/>
<circle cx="209.3" cy="501.1" r="1.45" fill="#235480"/>
<circle cx="210.4" cy="502.3" r="1.45" fill="#235480"/>
<circle cx="211.5" cy="503.4" r="1.45" fill="#235480"/>
<circle cx="212.8" cy="504.4" r="1.45" fill="#235480"/>
<circle cx="214.0" cy="505.4" r="1.45" fill="#235480"/>
<circle cx="215.3" cy="506.3" r="1.45" fill="#235480"/>
<circle cx="216.7" cy="507.2" r="1.45" fill="#235480"/>
<circle cx="218.0" cy="508.1" r="1.45" fill="#235480"/>
<circle cx="219.3" cy="509.0" r="1.45" fill="#235480"/>
<circle cx="220.9" cy="509.4" r="1.45" fill="#235480"/>
<circle cx="222.4" cy="509.6" r="1.45" fill="#235480"/>
<circle cx="224.0" cy="509.6" r="1.45" fill="#235480"/>
<circle cx="224.7" cy="508.2" r="1.45" fill="#235480"/>
<circle cx="224.9" cy="506.7" r="1.45" fill="#235480"/>
<circle cx="224.9" cy="505.2" r="1.45" fill="#235480"/>
<circle cx="174.7" cy="477.5" r="1.4" fill="#1c4a7a"/>
<circle cx="176.6" cy="479.2" r="1.4" fill="#1c4a7a"/>
<circle cx="172.7" cy="473.0" r="1.4" fill="#1c4a7a"/>
<circle cx="178.6" cy="473.2" r="1.4" fill="#1c4a7a"/>
<circle cx="183.5" cy="474.3" r="1.4" fill="#1c4a7a"/>
<circle cx="187.7" cy="476.6" r="1.4" fill="#1c4a7a"/>
<circle cx="190.9" cy="479.2" r="1.4" fill="#1c4a7a"/>
<circle cx="181.2" cy="481.8" r="1.4" fill="#1c4a7a"/>
<circle cx="185.7" cy="484.0" r="1.4" fill="#1c4a7a"/>
<circle cx="187.0" cy="483.4" r="1.4" fill="#1c4a7a"/>
<circle cx="188.3" cy="484.4" r="1.4" fill="#1c4a7a"/>
<circle cx="189.6" cy="483.1" r="1.4" fill="#1c4a7a"/>
<circle cx="192.9" cy="482.1" r="1.4" fill="#1c4a7a"/>
<circle cx="194.2" cy="483.6" r="1.4" fill="#1c4a7a"/>
<circle cx="192.2" cy="486.6" r="1.4" fill="#1c4a7a"/>
<circle cx="194.8" cy="480.8" r="1.4" fill="#1c4a7a"/>
<circle cx="198.1" cy="481.4" r="1.4" fill="#1c4a7a"/>
<circle cx="198.7" cy="483.4" r="1.4" fill="#1c4a7a"/>
<circle cx="200.7" cy="481.4" r="1.4" fill="#1c4a7a"/>
<circle cx="202.6" cy="483.4" r="1.4" fill="#1c4a7a"/>
<circle cx="204.6" cy="480.1" r="1.4" fill="#1c4a7a"/>
<circle cx="207.2" cy="480.8" r="1.4" fill="#1c4a7a"/>
<circle cx="209.1" cy="481.4" r="1.4" fill="#1c4a7a"/>
<circle cx="211.0" cy="480.1" r="1.4" fill="#1c4a7a"/>
<circle cx="198.1" cy="489.9" r="1.4" fill="#1c4a7a"/>
<circle cx="204.6" cy="492.7" r="1.4" fill="#1c4a7a"/>
<circle cx="210.4" cy="495.1" r="1.4" fill="#1c4a7a"/>
<circle cx="203.1" cy="480.3" r="1.4" fill="#1c4a7a"/>
<circle cx="203.1" cy="483.1" r="1.4" fill="#1c4a7a"/>
<circle cx="200.8" cy="481.0" r="1.4" fill="#1c4a7a"/>
<circle cx="204.4" cy="492.7" r="1.4" fill="#1c4a7a"/>
<circle cx="216.4" cy="496.6" r="1.4" fill="#1c4a7a"/>
<circle cx="221.0" cy="499.7" r="1.4" fill="#1c4a7a"/>
<circle cx="223.1" cy="501.3" r="1.4" fill="#1c4a7a"/>
<circle cx="224.2" cy="502.9" r="1.4" fill="#1c4a7a"/>
<path d="M165.60,457.00 V521.30 H256.80" fill="none" stroke="#555555" stroke-width="0.9"/>
<line x1="165.60" y1="465.00" x2="166.60" y2="465.00" stroke="#555555" stroke-width="0.6"/>
<text x="162.10" y="468.25" font-family="Liberation Sans, sans-serif" font-size="7.9" fill="#2e2e2e" stroke="#2e2e2e" stroke-width="0.1" text-anchor="end">1</text>
<line x1="165.60" y1="479.30" x2="166.60" y2="479.30" stroke="#555555" stroke-width="0.6"/>
<text x="162.10" y="482.55" font-family="Liberation Sans, sans-serif" font-size="7.9" fill="#2e2e2e" stroke="#2e2e2e" stroke-width="0.1" text-anchor="end">0</text>
<line x1="165.60" y1="493.60" x2="166.60" y2="493.60" stroke="#555555" stroke-width="0.6"/>
<text x="162.10" y="496.85" font-family="Liberation Sans, sans-serif" font-size="7.9" fill="#2e2e2e" stroke="#2e2e2e" stroke-width="0.1" text-anchor="end">-1</text>
<line x1="165.60" y1="507.90" x2="166.60" y2="507.90" stroke="#555555" stroke-width="0.6"/>
<text x="162.10" y="511.15" font-family="Liberation Sans, sans-serif" font-size="7.9" fill="#2e2e2e" stroke="#2e2e2e" stroke-width="0.1" text-anchor="end">-2</text>
<line x1="165.60" y1="522.20" x2="166.60" y2="522.20" stroke="#555555" stroke-width="0.6"/>
<text x="162.10" y="525.45" font-family="Liberation Sans, sans-serif" font-size="7.9" fill="#2e2e2e" stroke="#2e2e2e" stroke-width="0.1" text-anchor="end">-3</text>
<line x1="165.50" y1="521.30" x2="165.50" y2="520.30" stroke="#555555" stroke-width="0.6"/>
<text x="165.50" y="531.75" font-family="Liberation Sans, sans-serif" font-size="7.9" fill="#2e2e2e" stroke="#2e2e2e" stroke-width="0.1" text-anchor="middle">-1</text>
<line x1="195.80" y1="521.30" x2="195.80" y2="520.30" stroke="#555555" stroke-width="0.6"/>
<text x="195.80" y="531.75" font-family="Liberation Sans, sans-serif" font-size="7.9" fill="#2e2e2e" stroke="#2e2e2e" stroke-width="0.1" text-anchor="middle">0</text>
<line x1="226.10" y1="521.30" x2="226.10" y2="520.30" stroke="#555555" stroke-width="0.6"/>
<text x="226.10" y="531.75" font-family="Liberation Sans, sans-serif" font-size="7.9" fill="#2e2e2e" stroke="#2e2e2e" stroke-width="0.1" text-anchor="middle">1</text>
<line x1="256.30" y1="521.30" x2="256.30" y2="520.30" stroke="#555555" stroke-width="0.6"/>
<text x="256.30" y="531.75" font-family="Liberation Sans, sans-serif" font-size="7.9" fill="#2e2e2e" stroke="#2e2e2e" stroke-width="0.1" text-anchor="middle">2</text>
<g font-family="Liberation Sans, sans-serif" font-size="6.4" fill="#2e62a4" stroke="#2e62a4" stroke-width="0.1" text-anchor="end">
<text x="252.70" y="472.00" textLength="23.5" lengthAdjust="spacingAndGlyphs">+1.96 SD</text>
<text x="252.70" y="497.80" textLength="14.6" lengthAdjust="spacingAndGlyphs">Mean</text>
<text x="252.70" y="512.20" textLength="22" lengthAdjust="spacingAndGlyphs">-1.96 SD</text>
</g>
<path d="M210.10,453.65L210.10,458.35M208.06,454.82L212.14,457.18M212.14,454.82L208.06,457.18" stroke="#2a2a2a" stroke-width="0.85" stroke-linecap="round" fill="none"/>
<circle cx="212.14" cy="457.18" r="0.6" fill="#2a2a2a"/>
<circle cx="210.10" cy="458.35" r="0.6" fill="#2a2a2a"/>
<circle cx="208.06" cy="457.18" r="0.6" fill="#2a2a2a"/>
<circle cx="208.06" cy="454.82" r="0.6" fill="#2a2a2a"/>
<circle cx="210.10" cy="453.65" r="0.6" fill="#2a2a2a"/>
<circle cx="212.14" cy="454.82" r="0.6" fill="#2a2a2a"/>
<circle cx="210.10" cy="456.00" r="0.9" fill="#2a2a2a"/>
<rect x="286.40" y="462.10" width="91.60" height="45.90" fill="#f6e9cb"/>
<line x1="286.40" y1="462.10" x2="378.00" y2="462.10" stroke="#7f94b4" stroke-width="0.85" stroke-dasharray="0.9 1.45"/>
<line x1="286.40" y1="508.00" x2="378.00" y2="508.00" stroke="#7f94b4" stroke-width="0.85" stroke-dasharray="0.9 1.45"/>
<line x1="286.40" y1="489.70" x2="378.00" y2="489.70" stroke="#9c8466" stroke-width="0.8"/>
<line x1="286.40" y1="484.90" x2="378.00" y2="484.90" stroke="#4a7aab" stroke-width="1.3"/>
<polyline points="337.2,506.4 338.2,504.9 340.6,505.6 342.9,505.6 345.3,504.9 347.6,504.9 349.9,503.6 352.3,504.9" fill="none" stroke="#235480" stroke-width="0.9" stroke-linecap="round" stroke-linejoin="round"/>
<circle cx="337.2" cy="506.4" r="1.15" fill="#235480"/>
<circle cx="338.1" cy="505.1" r="1.15" fill="#235480"/>
<circle cx="339.5" cy="505.3" r="1.15" fill="#235480"/>
<circle cx="341.1" cy="505.6" r="1.15" fill="#235480"/>
<circle cx="342.7" cy="505.6" r="1.15" fill="#235480"/>
<circle cx="344.2" cy="505.2" r="1.15" fill="#235480"/>
<circle cx="345.8" cy="504.9" r="1.15" fill="#235480"/>
<circle cx="347.4" cy="504.9" r="1.15" fill="#235480"/>
<circle cx="348.8" cy="504.2" r="1.15" fill="#235480"/>
<circle cx="350.2" cy="503.8" r="1.15" fill="#235480"/>
<circle cx="351.6" cy="504.5" r="1.15" fill="#235480"/>
<circle cx="352.3" cy="504.9" r="1.15" fill="#235480"/>
<circle cx="288.1" cy="480.7" r="1.4" fill="#1c4a7a"/>
<circle cx="287.8" cy="492.4" r="1.4" fill="#1c4a7a"/>
<circle cx="325.5" cy="481.5" r="1.4" fill="#1c4a7a"/>
<circle cx="326.3" cy="492.4" r="1.4" fill="#1c4a7a"/>
<circle cx="327.9" cy="483.1" r="1.4" fill="#1c4a7a"/>
<circle cx="329.4" cy="492.4" r="1.4" fill="#1c4a7a"/>
<circle cx="331.0" cy="483.8" r="1.4" fill="#1c4a7a"/>
<circle cx="331.8" cy="475.3" r="1.4" fill="#1c4a7a"/>
<circle cx="333.3" cy="490.8" r="1.4" fill="#1c4a7a"/>
<circle cx="334.9" cy="480.0" r="1.4" fill="#1c4a7a"/>
<circle cx="335.6" cy="487.7" r="1.4" fill="#1c4a7a"/>
<circle cx="337.2" cy="473.7" r="1.4" fill="#1c4a7a"/>
<circle cx="338.0" cy="492.4" r="1.4" fill="#1c4a7a"/>
<circle cx="338.8" cy="475.3" r="1.4" fill="#1c4a7a"/>
<circle cx="338.8" cy="488.5" r="1.4" fill="#1c4a7a"/>
<circle cx="338.8" cy="497.9" r="1.4" fill="#1c4a7a"/>
<circle cx="339.5" cy="496.3" r="1.4" fill="#1c4a7a"/>
<circle cx="338.0" cy="502.5" r="1.4" fill="#1c4a7a"/>
<circle cx="338.8" cy="508.0" r="1.4" fill="#1c4a7a"/>
<circle cx="341.1" cy="507.2" r="1.4" fill="#1c4a7a"/>
<circle cx="343.4" cy="505.6" r="1.4" fill="#1c4a7a"/>
<circle cx="332.0" cy="475.3" r="1.4" fill="#1c4a7a"/>
<circle cx="335.9" cy="472.9" r="1.4" fill="#1c4a7a"/>
<circle cx="338.2" cy="473.7" r="1.4" fill="#1c4a7a"/>
<circle cx="339.8" cy="475.3" r="1.4" fill="#1c4a7a"/>
<circle cx="335.1" cy="480.0" r="1.4" fill="#1c4a7a"/>
<circle cx="331.2" cy="483.1" r="1.4" fill="#1c4a7a"/>
<circle cx="328.1" cy="483.1" r="1.4" fill="#1c4a7a"/>
<circle cx="325.8" cy="481.5" r="1.4" fill="#1c4a7a"/>
<circle cx="326.6" cy="492.4" r="1.4" fill="#1c4a7a"/>
<circle cx="329.7" cy="492.4" r="1.4" fill="#1c4a7a"/>
<circle cx="333.6" cy="490.8" r="1.4" fill="#1c4a7a"/>
<circle cx="335.9" cy="487.7" r="1.4" fill="#1c4a7a"/>
<circle cx="338.2" cy="488.5" r="1.4" fill="#1c4a7a"/>
<circle cx="339.8" cy="492.4" r="1.4" fill="#1c4a7a"/>
<circle cx="340.6" cy="496.3" r="1.4" fill="#1c4a7a"/>
<circle cx="339.3" cy="497.9" r="1.4" fill="#1c4a7a"/>
<circle cx="337.5" cy="502.5" r="1.4" fill="#1c4a7a"/>
<circle cx="351.5" cy="508.0" r="1.4" fill="#1c4a7a"/>
<circle cx="348.4" cy="509.5" r="1.4" fill="#1c4a7a"/>
<circle cx="349.9" cy="511.1" r="1.4" fill="#1c4a7a"/>
<circle cx="346.0" cy="508.8" r="1.4" fill="#1c4a7a"/>
<circle cx="307.5" cy="464.2" r="1.4" fill="#1c4a7a"/>
<circle cx="308.3" cy="466.0" r="1.4" fill="#1c4a7a"/>
<circle cx="309.2" cy="466.9" r="1.4" fill="#1c4a7a"/>
<circle cx="306.1" cy="469.1" r="1.4" fill="#1c4a7a"/>
<circle cx="303.5" cy="470.4" r="1.4" fill="#1c4a7a"/>
<circle cx="305.3" cy="470.8" r="1.4" fill="#1c4a7a"/>
<circle cx="307.5" cy="470.4" r="1.4" fill="#1c4a7a"/>
<circle cx="304.4" cy="472.6" r="1.4" fill="#1c4a7a"/>
<circle cx="307.9" cy="473.9" r="1.4" fill="#1c4a7a"/>
<circle cx="308.3" cy="475.3" r="1.4" fill="#1c4a7a"/>
<circle cx="312.3" cy="472.6" r="1.4" fill="#1c4a7a"/>
<circle cx="315.0" cy="468.2" r="1.4" fill="#1c4a7a"/>
<circle cx="316.3" cy="469.5" r="1.4" fill="#1c4a7a"/>
<circle cx="318.5" cy="470.8" r="1.4" fill="#1c4a7a"/>
<circle cx="322.0" cy="468.6" r="1.4" fill="#1c4a7a"/>
<circle cx="320.3" cy="471.7" r="1.4" fill="#1c4a7a"/>
<circle cx="319.4" cy="473.0" r="1.4" fill="#1c4a7a"/>
<circle cx="316.3" cy="475.3" r="1.4" fill="#1c4a7a"/>
<circle cx="318.5" cy="476.1" r="1.4" fill="#1c4a7a"/>
<circle cx="321.2" cy="475.3" r="1.4" fill="#1c4a7a"/>
<circle cx="322.9" cy="476.6" r="1.4" fill="#1c4a7a"/>
<circle cx="320.3" cy="478.3" r="1.4" fill="#1c4a7a"/>
<circle cx="317.6" cy="478.8" r="1.4" fill="#1c4a7a"/>
<circle cx="315.0" cy="479.7" r="1.4" fill="#1c4a7a"/>
<circle cx="313.2" cy="481.0" r="1.4" fill="#1c4a7a"/>
<circle cx="310.6" cy="477.9" r="1.4" fill="#1c4a7a"/>
<circle cx="309.7" cy="480.1" r="1.4" fill="#1c4a7a"/>
<circle cx="307.9" cy="480.6" r="1.4" fill="#1c4a7a"/>
<circle cx="307.0" cy="482.3" r="1.4" fill="#1c4a7a"/>
<circle cx="306.1" cy="479.7" r="1.4" fill="#1c4a7a"/>
<circle cx="304.4" cy="479.2" r="1.4" fill="#1c4a7a"/>
<circle cx="302.6" cy="476.6" r="1.4" fill="#1c4a7a"/>
<circle cx="301.3" cy="478.3" r="1.4" fill="#1c4a7a"/>
<circle cx="299.1" cy="479.7" r="1.4" fill="#1c4a7a"/>
<circle cx="295.1" cy="477.9" r="1.4" fill="#1c4a7a"/>
<circle cx="300.8" cy="481.0" r="1.4" fill="#1c4a7a"/>
<circle cx="300.0" cy="483.2" r="1.4" fill="#1c4a7a"/>
<circle cx="298.2" cy="485.4" r="1.4" fill="#1c4a7a"/>
<circle cx="296.4" cy="486.7" r="1.4" fill="#1c4a7a"/>
<circle cx="295.1" cy="488.5" r="1.4" fill="#1c4a7a"/>
<circle cx="293.8" cy="490.3" r="1.4" fill="#1c4a7a"/>
<circle cx="308.3" cy="484.1" r="1.4" fill="#1c4a7a"/>
<circle cx="311.4" cy="485.0" r="1.4" fill="#1c4a7a"/>
<circle cx="314.1" cy="483.2" r="1.4" fill="#1c4a7a"/>
<circle cx="316.7" cy="482.3" r="1.4" fill="#1c4a7a"/>
<circle cx="307.9" cy="487.2" r="1.4" fill="#1c4a7a"/>
<circle cx="317.6" cy="486.7" r="1.4" fill="#1c4a7a"/>
<circle cx="318.5" cy="490.7" r="1.4" fill="#1c4a7a"/>
<circle cx="322.0" cy="491.2" r="1.4" fill="#1c4a7a"/>
<circle cx="323.8" cy="492.0" r="1.4" fill="#1c4a7a"/>
<circle cx="324.7" cy="481.9" r="1.4" fill="#1c4a7a"/>
<path d="M286.40,457.00 V521.30 H378.00" fill="none" stroke="#555555" stroke-width="0.9"/>
<line x1="286.40" y1="458.40" x2="287.40" y2="458.40" stroke="#555555" stroke-width="0.6"/>
<text x="282.90" y="461.65" font-family="Liberation Sans, sans-serif" font-size="7.9" fill="#2e2e2e" stroke="#2e2e2e" stroke-width="0.1" text-anchor="end">2</text>
<line x1="286.40" y1="490.30" x2="287.40" y2="490.30" stroke="#555555" stroke-width="0.6"/>
<text x="282.90" y="493.55" font-family="Liberation Sans, sans-serif" font-size="7.9" fill="#2e2e2e" stroke="#2e2e2e" stroke-width="0.1" text-anchor="end">0</text>
<line x1="286.40" y1="522.10" x2="287.40" y2="522.10" stroke="#555555" stroke-width="0.6"/>
<text x="282.90" y="525.35" font-family="Liberation Sans, sans-serif" font-size="7.9" fill="#2e2e2e" stroke="#2e2e2e" stroke-width="0.1" text-anchor="end">-2</text>
<line x1="287.00" y1="521.30" x2="287.00" y2="520.30" stroke="#555555" stroke-width="0.6"/>
<text x="287.00" y="531.75" font-family="Liberation Sans, sans-serif" font-size="7.9" fill="#2e2e2e" stroke="#2e2e2e" stroke-width="0.1" text-anchor="middle">-4</text>
<line x1="313.20" y1="521.30" x2="313.20" y2="520.30" stroke="#555555" stroke-width="0.6"/>
<text x="313.20" y="531.75" font-family="Liberation Sans, sans-serif" font-size="7.9" fill="#2e2e2e" stroke="#2e2e2e" stroke-width="0.1" text-anchor="middle">-2</text>
<line x1="339.30" y1="521.30" x2="339.30" y2="520.30" stroke="#555555" stroke-width="0.6"/>
<text x="339.30" y="531.75" font-family="Liberation Sans, sans-serif" font-size="7.9" fill="#2e2e2e" stroke="#2e2e2e" stroke-width="0.1" text-anchor="middle">0</text>
<line x1="365.30" y1="521.30" x2="365.30" y2="520.30" stroke="#555555" stroke-width="0.6"/>
<text x="365.30" y="531.75" font-family="Liberation Sans, sans-serif" font-size="7.9" fill="#2e2e2e" stroke="#2e2e2e" stroke-width="0.1" text-anchor="middle">2</text>
<g font-family="Liberation Sans, sans-serif" font-size="6.4" fill="#2e62a4" stroke="#2e62a4" stroke-width="0.1" text-anchor="end">
<text x="373.90" y="469.80" textLength="23.5" lengthAdjust="spacingAndGlyphs">+1.96 SD</text>
<text x="373.90" y="481.90" textLength="14.6" lengthAdjust="spacingAndGlyphs">Mean</text>
<text x="373.90" y="515.70" textLength="22" lengthAdjust="spacingAndGlyphs">-1.96 SD</text>
</g>
<path d="M336.30,453.65L336.30,458.35M334.26,454.82L338.34,457.18M338.34,454.82L334.26,457.18" stroke="#2a2a2a" stroke-width="0.85" stroke-linecap="round" fill="none"/>
<circle cx="338.34" cy="457.18" r="0.6" fill="#2a2a2a"/>
<circle cx="336.30" cy="458.35" r="0.6" fill="#2a2a2a"/>
<circle cx="334.26" cy="457.18" r="0.6" fill="#2a2a2a"/>
<circle cx="334.26" cy="454.82" r="0.6" fill="#2a2a2a"/>
<circle cx="336.30" cy="453.65" r="0.6" fill="#2a2a2a"/>
<circle cx="338.34" cy="454.82" r="0.6" fill="#2a2a2a"/>
<circle cx="336.30" cy="456.00" r="0.9" fill="#2a2a2a"/>
</svg></div></body></html>
